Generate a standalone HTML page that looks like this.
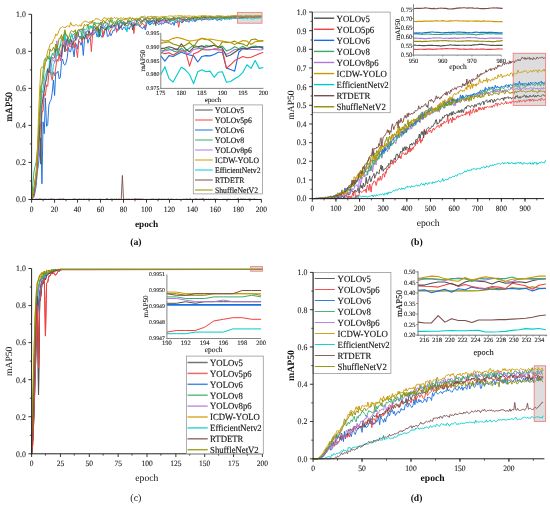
<!DOCTYPE html>
<html><head><meta charset="utf-8"><style>
html,body{margin:0;padding:0;background:#fff;}
svg{display:block;font-family:"Liberation Serif", serif;text-rendering:geometricPrecision;filter:blur(0.35px);}
</style></head><body>
<svg width="550" height="506" viewBox="0 0 550 506">
<rect width="550" height="506" fill="#fff"/>
<rect x="237.40" y="12.40" width="24.60" height="10.80" fill="#e0e0e0"/>
<clipPath id="ca"><rect x="31.6" y="4" width="232" height="195.5"/></clipPath>
<polyline points="31.60,199.50 32.75,198.33 33.90,197.29 35.05,192.07 36.20,185.59 37.34,171.28 38.49,164.59 39.64,153.24 40.79,137.90 41.94,183.75 43.09,121.85 44.24,133.71 45.39,98.11 46.54,126.37 47.69,124.93 48.84,105.23 49.98,101.62 51.13,99.68 52.28,92.42 53.43,80.14 54.58,95.52 55.73,72.72 56.88,73.15 58.03,71.21 59.18,78.91 60.33,77.39 61.47,62.10 62.62,58.97 63.77,64.06 64.92,65.16 66.07,62.76 67.22,57.80 68.37,47.37 69.52,51.53 70.67,51.95 71.81,45.02 72.96,49.52 74.11,56.94 75.26,43.78 76.41,44.26 77.56,49.06 78.71,40.86 79.86,41.97 81.01,45.24 82.16,42.17 83.31,55.41 84.45,40.60 85.60,34.84 86.75,35.01 87.90,43.21 89.05,39.16 90.20,37.34 91.35,36.31 92.50,33.93 93.65,34.86 94.80,32.30 95.94,32.06 97.09,36.91 98.24,34.11 99.39,36.40 100.54,34.31 101.69,37.24 102.84,36.54 103.99,34.73 105.14,29.23 106.28,28.77 107.43,36.64 108.58,36.17 109.73,32.85 110.88,35.74 112.03,33.33 113.18,30.28 114.33,30.70 115.48,27.70 116.63,29.61 117.78,29.80 118.92,30.10 120.07,25.62 121.22,28.49 122.37,29.90 123.52,27.21 124.67,27.26 125.82,29.86 126.97,29.68 128.12,27.63 129.26,29.24 130.41,26.04 131.56,25.67 132.71,26.59 133.86,25.39 135.01,25.59 136.16,23.76 137.31,24.84 138.46,24.52 139.61,26.66 140.75,26.73 141.90,28.37 143.05,28.21 144.20,26.04 145.35,30.02 146.50,24.78 147.65,20.66 148.80,24.29 149.95,24.84 151.10,24.16 152.25,22.41 153.39,24.16 154.54,23.50 155.69,21.93 156.84,22.29 157.99,24.13 159.14,24.59 160.29,22.94 161.44,24.63 162.59,23.29 163.73,23.80 164.88,21.50 166.03,22.95 167.18,22.18 168.33,23.15 169.48,22.66 170.63,24.45 171.78,24.23 172.93,22.15 174.08,25.44 175.22,21.33 176.37,23.04 177.52,21.63 178.67,21.88 179.82,21.17 180.97,21.70 182.12,23.12 183.27,19.98 184.42,19.57 185.57,21.42 186.72,20.84 187.86,21.04 189.01,22.36 190.16,19.38 191.31,20.70 192.46,21.08 193.61,20.65 194.76,21.59 195.91,21.25 197.06,19.60 198.20,19.71 199.35,18.81 200.50,19.33 201.65,20.62 202.80,19.60 203.95,19.58 205.10,19.18 206.25,19.19 207.40,19.38 208.55,19.98 209.69,19.53 210.84,18.65 211.99,19.33 213.14,19.39 214.29,19.10 215.44,17.86 216.59,20.23 217.74,20.45 218.89,19.42 220.04,19.76 221.18,18.08 222.33,18.92 223.48,18.39 224.63,18.83 225.78,18.24 226.93,19.29 228.08,18.60 229.23,19.05 230.38,19.04 231.53,17.33 232.67,18.00 233.82,18.12 234.97,17.81 236.12,18.39 237.27,18.28 238.42,17.74 239.57,18.03 240.72,17.77 241.87,18.40 243.02,16.87 244.16,17.07 245.31,17.26 246.46,18.00 247.61,18.21 248.76,17.08 249.91,16.77 251.06,17.11 252.21,17.09 253.36,17.10 254.51,16.77 255.65,16.63 256.80,16.98 257.95,16.54 259.10,17.28 260.25,16.58 261.40,16.73" fill="none" stroke="#1A6FDF" stroke-width="0.95" stroke-linejoin="round" opacity="1" clip-path="url(#ca)"/>
<polyline points="31.60,199.50 32.75,196.78 33.90,194.57 35.05,187.87 36.20,180.75 37.34,166.91 38.49,151.19 39.64,135.86 40.79,120.35 41.94,111.83 43.09,111.32 44.24,94.56 45.39,95.47 46.54,84.87 47.69,86.39 48.84,73.69 49.98,69.74 51.13,76.21 52.28,80.29 53.43,71.88 54.58,75.68 55.73,68.11 56.88,59.13 58.03,61.42 59.18,54.42 60.33,60.95 61.47,53.80 62.62,42.83 63.77,36.96 64.92,48.00 66.07,48.83 67.22,51.37 68.37,41.67 69.52,46.50 70.67,46.62 71.81,43.44 72.96,44.88 74.11,47.95 75.26,42.55 76.41,50.31 77.56,57.48 78.71,39.83 79.86,38.37 81.01,38.15 82.16,42.66 83.31,37.15 84.45,34.86 85.60,32.19 86.75,39.02 87.90,37.74 89.05,34.08 90.20,36.06 91.35,51.57 92.50,35.68 93.65,29.38 94.80,30.43 95.94,29.40 97.09,32.05 98.24,28.69 99.39,32.63 100.54,31.40 101.69,23.84 102.84,37.22 103.99,30.58 105.14,29.52 106.28,27.53 107.43,28.14 108.58,30.69 109.73,33.20 110.88,29.69 112.03,28.62 113.18,26.95 114.33,24.90 115.48,24.83 116.63,32.42 117.78,29.26 118.92,26.75 120.07,22.18 121.22,23.07 122.37,24.24 123.52,23.75 124.67,21.80 125.82,25.55 126.97,25.85 128.12,25.61 129.26,22.52 130.41,24.94 131.56,23.39 132.71,23.97 133.86,33.52 135.01,24.38 136.16,25.77 137.31,23.34 138.46,22.37 139.61,26.19 140.75,25.47 141.90,23.26 143.05,23.84 144.20,25.06 145.35,27.19 146.50,19.93 147.65,17.63 148.80,18.67 149.95,21.31 151.10,21.00 152.25,21.76 153.39,21.16 154.54,19.90 155.69,23.51 156.84,20.12 157.99,21.39 159.14,19.31 160.29,21.51 161.44,21.98 162.59,20.93 163.73,20.10 164.88,21.75 166.03,20.27 167.18,21.84 168.33,23.61 169.48,20.64 170.63,20.48 171.78,20.02 172.93,20.55 174.08,19.52 175.22,21.10 176.37,21.09 177.52,20.67 178.67,27.29 179.82,21.44 180.97,20.68 182.12,20.91 183.27,22.11 184.42,18.65 185.57,20.40 186.72,21.25 187.86,20.74 189.01,18.89 190.16,19.32 191.31,19.57 192.46,18.79 193.61,19.21 194.76,20.92 195.91,19.59 197.06,19.07 198.20,19.58 199.35,19.61 200.50,19.10 201.65,19.31 202.80,19.12 203.95,19.28 205.10,17.80 206.25,18.13 207.40,18.83 208.55,17.83 209.69,17.61 210.84,16.95 211.99,18.67 213.14,18.37 214.29,18.50 215.44,17.25 216.59,17.85 217.74,19.62 218.89,19.03 220.04,17.69 221.18,17.82 222.33,17.63 223.48,17.86 224.63,17.78 225.78,17.70 226.93,17.79 228.08,18.17 229.23,19.18 230.38,18.30 231.53,18.83 232.67,17.40 233.82,17.78 234.97,18.09 236.12,17.78 237.27,17.96 238.42,18.06 239.57,18.20 240.72,18.06 241.87,17.10 243.02,17.11 244.16,17.32 245.31,16.89 246.46,17.29 247.61,17.39 248.76,16.97 249.91,16.93 251.06,17.40 252.21,17.40 253.36,17.36 254.51,17.00 255.65,17.15 256.80,16.80 257.95,17.15 259.10,16.76 260.25,17.04 261.40,16.71" fill="none" stroke="#F14040" stroke-width="0.95" stroke-linejoin="round" opacity="1" clip-path="url(#ca)"/>
<polyline points="31.60,199.50 32.75,195.01 33.90,189.27 35.05,180.32 36.20,172.08 37.34,159.40 38.49,140.51 39.64,126.16 40.79,105.21 41.94,93.50 43.09,89.73 44.24,79.99 45.39,75.46 46.54,72.04 47.69,68.22 48.84,69.19 49.98,56.48 51.13,71.42 52.28,76.32 53.43,64.47 54.58,62.56 55.73,59.70 56.88,54.17 58.03,48.70 59.18,49.67 60.33,44.07 61.47,44.83 62.62,46.37 63.77,45.62 64.92,33.61 66.07,44.87 67.22,41.02 68.37,39.64 69.52,43.59 70.67,36.99 71.81,33.61 72.96,39.53 74.11,38.82 75.26,33.97 76.41,35.60 77.56,35.93 78.71,36.68 79.86,38.25 81.01,38.46 82.16,28.89 83.31,31.90 84.45,35.04 85.60,34.49 86.75,31.11 87.90,30.18 89.05,27.51 90.20,25.65 91.35,28.12 92.50,25.78 93.65,27.41 94.80,30.94 95.94,31.50 97.09,28.73 98.24,37.36 99.39,29.21 100.54,34.40 101.69,25.36 102.84,28.40 103.99,27.25 105.14,26.89 106.28,29.24 107.43,25.45 108.58,30.13 109.73,28.42 110.88,24.86 112.03,27.53 113.18,25.56 114.33,27.15 115.48,27.32 116.63,24.24 117.78,22.62 118.92,26.94 120.07,21.36 121.22,21.89 122.37,23.49 123.52,23.21 124.67,25.46 125.82,26.71 126.97,31.84 128.12,24.24 129.26,23.69 130.41,23.56 131.56,24.28 132.71,27.03 133.86,22.40 135.01,25.27 136.16,24.89 137.31,23.33 138.46,24.72 139.61,24.39 140.75,23.28 141.90,21.39 143.05,20.01 144.20,21.45 145.35,22.55 146.50,22.64 147.65,22.47 148.80,21.20 149.95,24.04 151.10,20.04 152.25,21.17 153.39,22.21 154.54,20.06 155.69,19.46 156.84,21.35 157.99,20.11 159.14,19.99 160.29,18.38 161.44,20.38 162.59,19.95 163.73,18.39 164.88,19.79 166.03,20.36 167.18,22.36 168.33,20.33 169.48,21.12 170.63,21.80 171.78,19.85 172.93,19.99 174.08,21.26 175.22,22.31 176.37,20.10 177.52,19.78 178.67,21.15 179.82,20.84 180.97,21.98 182.12,20.32 183.27,19.83 184.42,19.00 185.57,20.99 186.72,19.41 187.86,19.40 189.01,19.10 190.16,20.23 191.31,20.35 192.46,18.52 193.61,19.49 194.76,19.93 195.91,19.66 197.06,20.07 198.20,17.82 199.35,17.92 200.50,19.61 201.65,19.92 202.80,17.92 203.95,17.70 205.10,17.79 206.25,18.51 207.40,19.27 208.55,19.03 209.69,19.66 210.84,19.90 211.99,18.62 213.14,18.96 214.29,17.38 215.44,18.84 216.59,19.28 217.74,18.05 218.89,17.62 220.04,18.22 221.18,20.95 222.33,18.69 223.48,17.50 224.63,19.70 225.78,19.05 226.93,18.07 228.08,18.37 229.23,18.77 230.38,18.74 231.53,18.79 232.67,18.13 233.82,17.91 234.97,17.73 236.12,18.34 237.27,18.85 238.42,18.24 239.57,17.53 240.72,17.84 241.87,17.67 243.02,18.69 244.16,18.66 245.31,17.83 246.46,18.39 247.61,19.01 248.76,17.73 249.91,18.07 251.06,18.73 252.21,19.10 253.36,18.86 254.51,18.37 255.65,18.49 256.80,18.02 257.95,18.49 259.10,17.72 260.25,18.06 261.40,17.98" fill="none" stroke="#00CBCC" stroke-width="0.95" stroke-linejoin="round" opacity="1" clip-path="url(#ca)"/>
<polyline points="31.60,199.50 32.75,196.37 33.90,193.17 35.05,185.86 36.20,179.71 37.34,162.76 38.49,143.27 39.64,128.56 40.79,111.11 41.94,105.11 43.09,95.32 44.24,89.84 45.39,81.84 46.54,75.95 47.69,73.47 48.84,71.89 49.98,72.57 51.13,67.90 52.28,58.87 53.43,59.86 54.58,62.37 55.73,56.75 56.88,40.73 58.03,50.26 59.18,48.31 60.33,51.47 61.47,60.24 62.62,47.48 63.77,45.38 64.92,40.07 66.07,43.89 67.22,46.53 68.37,40.74 69.52,39.42 70.67,44.60 71.81,39.90 72.96,42.90 74.11,38.71 75.26,33.85 76.41,40.28 77.56,36.23 78.71,32.36 79.86,30.34 81.01,29.11 82.16,29.61 83.31,27.88 84.45,32.57 85.60,31.47 86.75,31.73 87.90,31.17 89.05,31.53 90.20,32.48 91.35,34.58 92.50,31.78 93.65,33.92 94.80,32.79 95.94,28.70 97.09,30.91 98.24,25.56 99.39,25.23 100.54,24.97 101.69,22.01 102.84,22.71 103.99,27.09 105.14,26.20 106.28,23.89 107.43,23.24 108.58,23.79 109.73,26.73 110.88,26.49 112.03,28.04 113.18,26.00 114.33,25.94 115.48,27.35 116.63,25.94 117.78,22.65 118.92,23.57 120.07,26.69 121.22,26.61 122.37,25.13 123.52,24.24 124.67,23.00 125.82,23.71 126.97,23.36 128.12,23.12 129.26,22.25 130.41,21.42 131.56,21.46 132.71,22.92 133.86,23.95 135.01,20.43 136.16,20.56 137.31,21.58 138.46,20.70 139.61,19.06 140.75,19.41 141.90,20.76 143.05,21.14 144.20,20.56 145.35,18.48 146.50,21.22 147.65,22.57 148.80,20.27 149.95,20.26 151.10,21.87 152.25,20.42 153.39,20.67 154.54,17.88 155.69,19.67 156.84,21.32 157.99,22.95 159.14,19.98 160.29,17.76 161.44,24.22 162.59,23.51 163.73,20.08 164.88,21.15 166.03,20.87 167.18,21.77 168.33,19.51 169.48,18.45 170.63,20.39 171.78,18.58 172.93,19.60 174.08,17.24 175.22,19.28 176.37,18.60 177.52,17.70 178.67,18.33 179.82,20.01 180.97,19.03 182.12,19.37 183.27,19.92 184.42,17.50 185.57,19.35 186.72,19.53 187.86,19.35 189.01,19.71 190.16,20.09 191.31,18.95 192.46,19.28 193.61,17.92 194.76,17.37 195.91,18.64 197.06,17.61 198.20,17.36 199.35,18.59 200.50,18.47 201.65,18.58 202.80,17.09 203.95,17.13 205.10,17.68 206.25,18.48 207.40,17.65 208.55,17.83 209.69,17.45 210.84,18.33 211.99,17.90 213.14,17.15 214.29,17.07 215.44,17.47 216.59,17.16 217.74,17.70 218.89,17.38 220.04,17.22 221.18,17.79 222.33,17.59 223.48,17.13 224.63,16.53 225.78,16.19 226.93,17.51 228.08,16.48 229.23,17.20 230.38,17.15 231.53,16.95 232.67,16.76 233.82,16.42 234.97,16.68 236.12,17.28 237.27,16.46 238.42,17.05 239.57,17.14 240.72,17.89 241.87,16.84 243.02,16.46 244.16,16.54 245.31,16.94 246.46,16.16 247.61,16.72 248.76,16.58 249.91,17.01 251.06,16.74 252.21,16.58 253.36,16.66 254.51,16.86 255.65,16.48 256.80,17.40 257.95,16.75 259.10,16.54 260.25,16.60 261.40,16.91" fill="none" stroke="#B177DE" stroke-width="0.95" stroke-linejoin="round" opacity="1" clip-path="url(#ca)"/>
<polyline points="31.60,199.50 32.75,196.47 33.90,193.62 35.05,184.69 36.20,176.97 37.34,160.21 38.49,142.03 39.64,123.99 40.79,164.15 41.94,104.51 43.09,98.84 44.24,90.91 45.39,82.62 46.54,79.69 47.69,68.94 48.84,72.73 49.98,64.11 51.13,57.46 52.28,57.71 53.43,58.11 54.58,57.69 55.73,49.03 56.88,50.66 58.03,50.88 59.18,53.64 60.33,55.67 61.47,56.82 62.62,45.55 63.77,45.35 64.92,51.97 66.07,42.79 67.22,38.36 68.37,42.82 69.52,43.11 70.67,38.62 71.81,41.91 72.96,45.22 74.11,41.06 75.26,40.65 76.41,34.81 77.56,31.18 78.71,35.81 79.86,37.14 81.01,36.58 82.16,39.75 83.31,36.54 84.45,39.00 85.60,35.57 86.75,34.13 87.90,35.16 89.05,30.38 90.20,35.27 91.35,34.01 92.50,31.28 93.65,26.35 94.80,26.90 95.94,29.11 97.09,26.53 98.24,28.01 99.39,36.57 100.54,26.23 101.69,27.72 102.84,27.63 103.99,28.83 105.14,29.32 106.28,30.14 107.43,26.52 108.58,27.26 109.73,26.46 110.88,28.00 112.03,24.38 113.18,25.32 114.33,26.09 115.48,22.93 116.63,21.63 117.78,23.42 118.92,28.49 120.07,26.96 121.22,27.67 122.37,23.09 123.52,21.49 124.67,25.49 125.82,23.07 126.97,23.22 128.12,20.68 129.26,21.84 130.41,21.33 131.56,23.39 132.71,30.07 133.86,24.57 135.01,24.64 136.16,22.89 137.31,19.22 138.46,19.48 139.61,20.59 140.75,22.60 141.90,21.37 143.05,21.26 144.20,18.86 145.35,19.39 146.50,20.18 147.65,20.71 148.80,22.70 149.95,21.73 151.10,21.99 152.25,20.94 153.39,19.86 154.54,20.86 155.69,25.60 156.84,18.56 157.99,20.71 159.14,22.48 160.29,20.10 161.44,20.62 162.59,20.26 163.73,18.51 164.88,18.15 166.03,21.18 167.18,20.49 168.33,19.09 169.48,20.43 170.63,19.08 171.78,19.26 172.93,17.91 174.08,19.76 175.22,18.79 176.37,18.80 177.52,19.10 178.67,18.60 179.82,18.30 180.97,18.82 182.12,19.14 183.27,19.01 184.42,20.19 185.57,19.81 186.72,19.41 187.86,18.53 189.01,19.18 190.16,19.50 191.31,17.77 192.46,17.65 193.61,19.23 194.76,16.73 195.91,17.73 197.06,17.62 198.20,17.31 199.35,18.43 200.50,17.67 201.65,16.19 202.80,17.88 203.95,17.55 205.10,17.17 206.25,18.13 207.40,17.37 208.55,16.75 209.69,16.21 210.84,17.69 211.99,17.26 213.14,17.15 214.29,17.63 215.44,17.83 216.59,17.43 217.74,16.97 218.89,17.23 220.04,16.31 221.18,16.43 222.33,17.15 223.48,17.07 224.63,17.98 225.78,17.17 226.93,17.09 228.08,17.28 229.23,17.32 230.38,17.14 231.53,16.81 232.67,15.97 233.82,16.89 234.97,16.80 236.12,16.76 237.27,16.42 238.42,16.51 239.57,16.91 240.72,17.02 241.87,17.27 243.02,17.00 244.16,17.11 245.31,16.86 246.46,16.72 247.61,16.42 248.76,16.48 249.91,16.44 251.06,16.38 252.21,16.69 253.36,16.43 254.51,17.62 255.65,16.40 256.80,16.85 257.95,16.34 259.10,16.90 260.25,16.51 261.40,16.76" fill="none" stroke="#515151" stroke-width="0.95" stroke-linejoin="round" opacity="1" clip-path="url(#ca)"/>
<polyline points="31.60,199.50 32.75,185.84 33.90,172.02 35.05,166.40 36.20,161.85 37.34,149.82 38.49,133.50 39.64,119.08 40.79,101.62 41.94,83.11 43.09,70.94 44.24,60.17 45.39,58.24 46.54,60.92 47.69,55.84 48.84,59.20 49.98,58.14 51.13,59.20 52.28,53.30 53.43,55.39 54.58,50.95 55.73,47.44 56.88,44.83 58.03,55.83 59.18,49.86 60.33,46.13 61.47,39.08 62.62,36.97 63.77,35.14 64.92,32.69 66.07,35.86 67.22,36.09 68.37,40.60 69.52,44.56 70.67,36.57 71.81,36.58 72.96,35.57 74.11,33.66 75.26,33.10 76.41,33.09 77.56,31.25 78.71,30.02 79.86,30.43 81.01,32.11 82.16,38.48 83.31,29.37 84.45,29.24 85.60,29.94 86.75,28.79 87.90,24.51 89.05,29.34 90.20,28.54 91.35,26.32 92.50,28.57 93.65,26.24 94.80,22.02 95.94,23.87 97.09,23.36 98.24,22.76 99.39,24.42 100.54,22.09 101.69,26.08 102.84,24.92 103.99,22.83 105.14,22.99 106.28,22.60 107.43,23.21 108.58,26.98 109.73,20.76 110.88,18.11 112.03,19.48 113.18,22.44 114.33,24.79 115.48,22.86 116.63,24.52 117.78,20.82 118.92,21.75 120.07,20.28 121.22,19.61 122.37,24.12 123.52,21.59 124.67,23.82 125.82,22.97 126.97,23.93 128.12,22.12 129.26,20.40 130.41,22.21 131.56,19.59 132.71,18.02 133.86,19.17 135.01,19.48 136.16,20.32 137.31,22.12 138.46,19.15 139.61,20.28 140.75,18.27 141.90,16.30 143.05,18.12 144.20,18.21 145.35,17.55 146.50,21.11 147.65,20.73 148.80,20.09 149.95,20.09 151.10,18.28 152.25,18.85 153.39,16.74 154.54,16.84 155.69,17.81 156.84,19.53 157.99,18.41 159.14,18.05 160.29,20.32 161.44,18.19 162.59,17.67 163.73,18.45 164.88,16.78 166.03,17.10 167.18,19.23 168.33,18.69 169.48,18.91 170.63,21.59 171.78,19.52 172.93,17.63 174.08,17.44 175.22,17.67 176.37,18.39 177.52,18.82 178.67,16.67 179.82,17.74 180.97,16.58 182.12,17.15 183.27,16.91 184.42,16.80 185.57,17.00 186.72,17.55 187.86,18.79 189.01,17.89 190.16,17.89 191.31,17.73 192.46,17.44 193.61,17.13 194.76,17.07 195.91,20.58 197.06,18.10 198.20,18.07 199.35,16.88 200.50,18.81 201.65,17.39 202.80,17.55 203.95,16.98 205.10,16.37 206.25,17.01 207.40,17.27 208.55,17.59 209.69,16.95 210.84,16.39 211.99,17.24 213.14,16.88 214.29,17.98 215.44,18.09 216.59,17.67 217.74,17.18 218.89,17.15 220.04,16.85 221.18,16.70 222.33,17.33 223.48,17.58 224.63,17.65 225.78,17.37 226.93,16.06 228.08,18.02 229.23,16.96 230.38,16.40 231.53,16.59 232.67,16.86 233.82,16.58 234.97,16.37 236.12,16.24 237.27,16.95 238.42,16.36 239.57,16.36 240.72,16.20 241.87,16.02 243.02,16.66 244.16,17.18 245.31,16.38 246.46,15.78 247.61,16.16 248.76,16.25 249.91,15.95 251.06,16.43 252.21,16.35 253.36,16.37 254.51,16.39 255.65,16.37 256.80,15.97 257.95,16.52 259.10,16.42 260.25,16.72 261.40,16.13" fill="none" stroke="#37AD6B" stroke-width="0.95" stroke-linejoin="round" opacity="1" clip-path="url(#ca)"/>
<polyline points="31.60,199.50 32.75,193.79 33.90,188.23 35.05,180.94 36.20,174.84 37.34,155.18 38.49,134.11 39.64,110.67 40.79,85.61 41.94,84.51 43.09,81.06 44.24,69.75 45.39,62.88 46.54,59.54 47.69,58.08 48.84,58.77 49.98,48.85 51.13,51.30 52.28,50.10 53.43,47.31 54.58,50.22 55.73,44.00 56.88,49.35 58.03,44.34 59.18,38.07 60.33,38.40 61.47,34.70 62.62,40.88 63.77,35.48 64.92,29.79 66.07,34.81 67.22,35.49 68.37,38.73 69.52,35.12 70.67,31.41 71.81,30.56 72.96,31.84 74.11,31.96 75.26,29.76 76.41,38.57 77.56,31.03 78.71,29.50 79.86,29.87 81.01,28.96 82.16,30.22 83.31,28.51 84.45,24.33 85.60,25.45 86.75,24.72 87.90,25.16 89.05,24.27 90.20,22.77 91.35,23.25 92.50,20.53 93.65,25.04 94.80,23.88 95.94,26.22 97.09,30.81 98.24,26.86 99.39,23.53 100.54,24.00 101.69,23.97 102.84,20.70 103.99,20.61 105.14,23.07 106.28,20.15 107.43,19.17 108.58,21.04 109.73,22.58 110.88,19.67 112.03,23.15 113.18,23.08 114.33,21.78 115.48,21.93 116.63,20.90 117.78,19.21 118.92,19.81 120.07,20.96 121.22,21.55 122.37,20.41 123.52,18.99 124.67,20.17 125.82,17.91 126.97,19.73 128.12,20.82 129.26,18.45 130.41,18.44 131.56,19.64 132.71,20.58 133.86,19.83 135.01,19.84 136.16,18.59 137.31,19.52 138.46,19.41 139.61,18.15 140.75,19.38 141.90,22.67 143.05,20.49 144.20,20.40 145.35,19.21 146.50,18.14 147.65,17.42 148.80,18.55 149.95,18.63 151.10,18.89 152.25,17.04 153.39,19.20 154.54,17.85 155.69,16.83 156.84,18.77 157.99,20.68 159.14,18.10 160.29,18.49 161.44,18.45 162.59,16.93 163.73,17.48 164.88,17.98 166.03,19.68 167.18,18.47 168.33,18.30 169.48,17.99 170.63,18.67 171.78,18.41 172.93,18.40 174.08,17.99 175.22,18.85 176.37,18.48 177.52,17.13 178.67,18.53 179.82,17.67 180.97,18.38 182.12,17.73 183.27,17.50 184.42,17.67 185.57,17.82 186.72,16.98 187.86,18.31 189.01,17.18 190.16,18.70 191.31,18.36 192.46,16.75 193.61,17.32 194.76,17.79 195.91,16.80 197.06,18.46 198.20,17.52 199.35,18.12 200.50,17.17 201.65,18.25 202.80,16.52 203.95,16.41 205.10,17.01 206.25,16.10 207.40,16.88 208.55,18.40 209.69,18.22 210.84,16.09 211.99,16.44 213.14,17.19 214.29,17.15 215.44,16.97 216.59,15.93 217.74,16.39 218.89,15.72 220.04,16.96 221.18,17.41 222.33,16.79 223.48,18.17 224.63,16.75 225.78,16.66 226.93,16.29 228.08,16.15 229.23,16.59 230.38,16.77 231.53,16.40 232.67,16.56 233.82,15.90 234.97,15.95 236.12,16.37 237.27,16.23 238.42,16.09 239.57,16.41 240.72,16.22 241.87,16.51 243.02,16.34 244.16,16.44 245.31,16.21 246.46,16.05 247.61,16.49 248.76,16.33 249.91,16.40 251.06,16.01 252.21,16.53 253.36,16.41 254.51,15.85 255.65,16.00 256.80,16.79 257.95,16.07 259.10,15.89 260.25,16.15 261.40,15.86" fill="none" stroke="#8E8E00" stroke-width="0.95" stroke-linejoin="round" opacity="1" clip-path="url(#ca)"/>
<polyline points="31.60,199.50 32.75,195.16 33.90,190.67 35.05,181.57 36.20,171.64 37.34,153.91 38.49,116.67 39.64,90.91 40.79,68.90 41.94,66.87 43.09,67.27 44.24,66.90 45.39,59.61 46.54,56.46 47.69,51.05 48.84,48.47 49.98,44.68 51.13,43.14 52.28,43.54 53.43,39.65 54.58,38.38 55.73,33.92 56.88,35.54 58.03,33.44 59.18,30.37 60.33,27.81 61.47,27.50 62.62,26.54 63.77,27.42 64.92,27.49 66.07,27.05 67.22,25.93 68.37,26.17 69.52,26.99 70.67,22.37 71.81,25.16 72.96,25.32 74.11,26.19 75.26,24.91 76.41,24.40 77.56,25.66 78.71,26.19 79.86,24.72 81.01,26.29 82.16,22.98 83.31,22.51 84.45,20.94 85.60,21.35 86.75,21.50 87.90,22.43 89.05,22.31 90.20,21.71 91.35,21.65 92.50,21.87 93.65,20.81 94.80,19.42 95.94,18.53 97.09,19.00 98.24,18.89 99.39,19.45 100.54,20.78 101.69,20.40 102.84,19.15 103.99,17.47 105.14,18.32 106.28,18.23 107.43,19.08 108.58,17.80 109.73,19.33 110.88,17.60 112.03,18.11 113.18,18.62 114.33,17.40 115.48,18.43 116.63,17.89 117.78,18.02 118.92,19.24 120.07,18.05 121.22,17.94 122.37,18.71 123.52,17.65 124.67,18.83 125.82,18.79 126.97,18.29 128.12,18.50 129.26,17.48 130.41,17.22 131.56,18.59 132.71,17.84 133.86,18.92 135.01,19.02 136.16,18.15 137.31,18.55 138.46,18.82 139.61,17.62 140.75,17.11 141.90,17.44 143.05,17.19 144.20,15.87 145.35,16.91 146.50,17.84 147.65,16.37 148.80,16.72 149.95,16.92 151.10,16.19 152.25,16.61 153.39,16.93 154.54,16.77 155.69,17.07 156.84,16.42 157.99,17.04 159.14,17.29 160.29,16.96 161.44,16.28 162.59,16.64 163.73,16.71 164.88,16.33 166.03,16.57 167.18,17.22 168.33,16.26 169.48,15.89 170.63,15.97 171.78,16.09 172.93,16.37 174.08,16.20 175.22,15.87 176.37,16.14 177.52,15.79 178.67,15.41 179.82,15.89 180.97,15.68 182.12,15.84 183.27,16.36 184.42,15.82 185.57,16.18 186.72,16.17 187.86,16.03 189.01,15.99 190.16,15.98 191.31,16.29 192.46,16.36 193.61,15.99 194.76,16.29 195.91,16.53 197.06,16.25 198.20,16.25 199.35,15.99 200.50,15.96 201.65,15.65 202.80,15.70 203.95,15.72 205.10,15.85 206.25,15.72 207.40,16.28 208.55,15.96 209.69,16.09 210.84,16.13 211.99,16.39 213.14,16.50 214.29,16.19 215.44,16.35 216.59,15.96 217.74,16.04 218.89,16.00 220.04,15.90 221.18,15.91 222.33,16.11 223.48,16.16 224.63,16.49 225.78,16.63 226.93,16.43 228.08,16.22 229.23,16.32 230.38,15.89 231.53,15.69 232.67,16.09 233.82,15.77 234.97,15.56 236.12,15.68 237.27,15.50 238.42,15.78 239.57,16.04 240.72,15.89 241.87,16.00 243.02,16.24 244.16,16.07 245.31,15.59 246.46,15.96 247.61,16.00 248.76,16.02 249.91,16.00 251.06,15.95 252.21,15.98 253.36,16.01 254.51,16.11 255.65,15.92 256.80,15.83 257.95,15.57 259.10,15.76 260.25,15.68 261.40,15.75" fill="none" stroke="#CC9900" stroke-width="0.95" stroke-linejoin="round" opacity="1" clip-path="url(#ca)"/>
<polyline points="31.60,199.47 32.75,199.48 33.90,199.38 35.05,199.41 36.20,199.09 37.34,199.25 38.49,199.16 39.64,198.90 40.79,199.04 41.94,199.23 43.09,199.41 44.24,199.03 45.39,199.34 46.54,199.08 47.69,199.48 48.84,199.11 49.98,199.35 51.13,198.68 52.28,199.27 53.43,199.03 54.58,199.30 55.73,199.41 56.88,199.32 58.03,199.31 59.18,198.98 60.33,199.02 61.47,199.21 62.62,198.95 63.77,198.94 64.92,199.43 66.07,199.38 67.22,199.44 68.37,199.32 69.52,199.42 70.67,199.39 71.81,199.48 72.96,199.08 74.11,199.05 75.26,199.00 76.41,199.34 77.56,199.45 78.71,198.91 79.86,199.23 81.01,199.16 82.16,199.38 83.31,199.17 84.45,198.99 85.60,199.44 86.75,199.08 87.90,199.36 89.05,198.89 90.20,199.35 91.35,199.38 92.50,199.28 93.65,199.21 94.80,199.37 95.94,199.17 97.09,199.49 98.24,199.45 99.39,199.11 100.54,199.18 101.69,199.41 102.84,199.38 103.99,199.43 105.14,199.43 106.28,198.90 107.43,198.61 108.58,199.46 109.73,199.36 110.88,199.05 112.03,199.12 113.18,199.34 114.33,199.15 115.48,199.36 116.63,198.82 117.78,199.40 118.92,199.08 120.07,199.23 121.22,199.50 122.37,175.42 123.52,199.50 124.67,199.23 125.82,199.34 126.97,199.12 128.12,199.33 129.26,198.92 130.41,199.45 131.56,199.13 132.71,199.18 133.86,199.36 135.01,198.62 136.16,199.01 137.31,199.01 138.46,199.04 139.61,198.83 140.75,199.00 141.90,199.17 143.05,199.11 144.20,199.37 145.35,199.47 146.50,199.21 147.65,199.43 148.80,199.39 149.95,199.41 151.10,199.06 152.25,199.24 153.39,198.85 154.54,199.40 155.69,199.23 156.84,199.23 157.99,199.30 159.14,198.79 160.29,199.39 161.44,199.03 162.59,199.22 163.73,199.18 164.88,199.21 166.03,199.34 167.18,199.39 168.33,198.76 169.48,199.49 170.63,199.09 171.78,199.12 172.93,199.19 174.08,199.43 175.22,199.47 176.37,199.11 177.52,199.41 178.67,199.43 179.82,199.35 180.97,199.48 182.12,199.37 183.27,199.19 184.42,199.19 185.57,199.32 186.72,198.87 187.86,199.22 189.01,199.37 190.16,198.60 191.31,199.35 192.46,199.31 193.61,199.31 194.76,199.11 195.91,198.83 197.06,198.96 198.20,199.43 199.35,198.99 200.50,199.00 201.65,199.10 202.80,198.48 203.95,199.18 205.10,199.42 206.25,199.12 207.40,199.45 208.55,199.03 209.69,199.48 210.84,199.08 211.99,199.40 213.14,199.42 214.29,198.91 215.44,199.19 216.59,199.12 217.74,199.41 218.89,199.40 220.04,199.47 221.18,199.43 222.33,199.50 223.48,199.23 224.63,199.31 225.78,199.32 226.93,199.48 228.08,199.09 229.23,199.26 230.38,199.26 231.53,199.50 232.67,199.42 233.82,199.45 234.97,199.27 236.12,199.48 237.27,199.01 238.42,198.45 239.57,199.49 240.72,198.90 241.87,199.16 243.02,199.07 244.16,199.25 245.31,199.07 246.46,199.38 247.61,199.33 248.76,199.05 249.91,198.93 251.06,199.32 252.21,199.35 253.36,199.20 254.51,198.81 255.65,199.39 256.80,199.39 257.95,199.46 259.10,199.45 260.25,199.38 261.40,199.18" fill="none" stroke="#7D4E4E" stroke-width="0.9" stroke-linejoin="round" opacity="1"/>
<line x1="31.60" y1="14.30" x2="31.60" y2="200.00" stroke="#222" stroke-width="1.0"/>
<line x1="31.10" y1="199.50" x2="261.40" y2="199.50" stroke="#222" stroke-width="1.0"/>
<line x1="28.40" y1="199.50" x2="31.60" y2="199.50" stroke="#222" stroke-width="0.9"/>
<text transform="translate(25.80 202.36) scale(1 1.08)" font-size="7.8" text-anchor="end" font-weight="normal" fill="#1a1a1a" stroke="#1a1a1a" stroke-width="0.1">0.0</text>
<line x1="28.40" y1="162.46" x2="31.60" y2="162.46" stroke="#222" stroke-width="0.9"/>
<text transform="translate(25.80 165.32) scale(1 1.08)" font-size="7.8" text-anchor="end" font-weight="normal" fill="#1a1a1a" stroke="#1a1a1a" stroke-width="0.1">0.2</text>
<line x1="28.40" y1="125.42" x2="31.60" y2="125.42" stroke="#222" stroke-width="0.9"/>
<text transform="translate(25.80 128.28) scale(1 1.08)" font-size="7.8" text-anchor="end" font-weight="normal" fill="#1a1a1a" stroke="#1a1a1a" stroke-width="0.1">0.4</text>
<line x1="28.40" y1="88.38" x2="31.60" y2="88.38" stroke="#222" stroke-width="0.9"/>
<text transform="translate(25.80 91.24) scale(1 1.08)" font-size="7.8" text-anchor="end" font-weight="normal" fill="#1a1a1a" stroke="#1a1a1a" stroke-width="0.1">0.6</text>
<line x1="28.40" y1="51.34" x2="31.60" y2="51.34" stroke="#222" stroke-width="0.9"/>
<text transform="translate(25.80 54.20) scale(1 1.08)" font-size="7.8" text-anchor="end" font-weight="normal" fill="#1a1a1a" stroke="#1a1a1a" stroke-width="0.1">0.8</text>
<line x1="28.40" y1="14.30" x2="31.60" y2="14.30" stroke="#222" stroke-width="0.9"/>
<text transform="translate(25.80 17.16) scale(1 1.08)" font-size="7.8" text-anchor="end" font-weight="normal" fill="#1a1a1a" stroke="#1a1a1a" stroke-width="0.1">1.0</text>
<line x1="29.80" y1="180.98" x2="31.60" y2="180.98" stroke="#222" stroke-width="0.8"/>
<line x1="29.80" y1="143.94" x2="31.60" y2="143.94" stroke="#222" stroke-width="0.8"/>
<line x1="29.80" y1="106.90" x2="31.60" y2="106.90" stroke="#222" stroke-width="0.8"/>
<line x1="29.80" y1="69.86" x2="31.60" y2="69.86" stroke="#222" stroke-width="0.8"/>
<line x1="29.80" y1="32.82" x2="31.60" y2="32.82" stroke="#222" stroke-width="0.8"/>
<line x1="31.60" y1="199.50" x2="31.60" y2="202.70" stroke="#222" stroke-width="0.9"/>
<text transform="translate(31.60 212.10) scale(1 1.08)" font-size="7.5" text-anchor="middle" font-weight="normal" fill="#1a1a1a" stroke="#1a1a1a" stroke-width="0.1">0</text>
<line x1="54.58" y1="199.50" x2="54.58" y2="202.70" stroke="#222" stroke-width="0.9"/>
<text transform="translate(54.58 212.10) scale(1 1.08)" font-size="7.5" text-anchor="middle" font-weight="normal" fill="#1a1a1a" stroke="#1a1a1a" stroke-width="0.1">20</text>
<line x1="77.56" y1="199.50" x2="77.56" y2="202.70" stroke="#222" stroke-width="0.9"/>
<text transform="translate(77.56 212.10) scale(1 1.08)" font-size="7.5" text-anchor="middle" font-weight="normal" fill="#1a1a1a" stroke="#1a1a1a" stroke-width="0.1">40</text>
<line x1="100.54" y1="199.50" x2="100.54" y2="202.70" stroke="#222" stroke-width="0.9"/>
<text transform="translate(100.54 212.10) scale(1 1.08)" font-size="7.5" text-anchor="middle" font-weight="normal" fill="#1a1a1a" stroke="#1a1a1a" stroke-width="0.1">60</text>
<line x1="123.52" y1="199.50" x2="123.52" y2="202.70" stroke="#222" stroke-width="0.9"/>
<text transform="translate(123.52 212.10) scale(1 1.08)" font-size="7.5" text-anchor="middle" font-weight="normal" fill="#1a1a1a" stroke="#1a1a1a" stroke-width="0.1">80</text>
<line x1="146.50" y1="199.50" x2="146.50" y2="202.70" stroke="#222" stroke-width="0.9"/>
<text transform="translate(146.50 212.10) scale(1 1.08)" font-size="7.5" text-anchor="middle" font-weight="normal" fill="#1a1a1a" stroke="#1a1a1a" stroke-width="0.1">100</text>
<line x1="169.48" y1="199.50" x2="169.48" y2="202.70" stroke="#222" stroke-width="0.9"/>
<text transform="translate(169.48 212.10) scale(1 1.08)" font-size="7.5" text-anchor="middle" font-weight="normal" fill="#1a1a1a" stroke="#1a1a1a" stroke-width="0.1">120</text>
<line x1="192.46" y1="199.50" x2="192.46" y2="202.70" stroke="#222" stroke-width="0.9"/>
<text transform="translate(192.46 212.10) scale(1 1.08)" font-size="7.5" text-anchor="middle" font-weight="normal" fill="#1a1a1a" stroke="#1a1a1a" stroke-width="0.1">140</text>
<line x1="215.44" y1="199.50" x2="215.44" y2="202.70" stroke="#222" stroke-width="0.9"/>
<text transform="translate(215.44 212.10) scale(1 1.08)" font-size="7.5" text-anchor="middle" font-weight="normal" fill="#1a1a1a" stroke="#1a1a1a" stroke-width="0.1">160</text>
<line x1="238.42" y1="199.50" x2="238.42" y2="202.70" stroke="#222" stroke-width="0.9"/>
<text transform="translate(238.42 212.10) scale(1 1.08)" font-size="7.5" text-anchor="middle" font-weight="normal" fill="#1a1a1a" stroke="#1a1a1a" stroke-width="0.1">180</text>
<line x1="261.40" y1="199.50" x2="261.40" y2="202.70" stroke="#222" stroke-width="0.9"/>
<text transform="translate(261.40 212.10) scale(1 1.08)" font-size="7.5" text-anchor="middle" font-weight="normal" fill="#1a1a1a" stroke="#1a1a1a" stroke-width="0.1">200</text>
<line x1="43.09" y1="199.50" x2="43.09" y2="201.30" stroke="#222" stroke-width="0.8"/>
<line x1="66.07" y1="199.50" x2="66.07" y2="201.30" stroke="#222" stroke-width="0.8"/>
<line x1="89.05" y1="199.50" x2="89.05" y2="201.30" stroke="#222" stroke-width="0.8"/>
<line x1="112.03" y1="199.50" x2="112.03" y2="201.30" stroke="#222" stroke-width="0.8"/>
<line x1="135.01" y1="199.50" x2="135.01" y2="201.30" stroke="#222" stroke-width="0.8"/>
<line x1="157.99" y1="199.50" x2="157.99" y2="201.30" stroke="#222" stroke-width="0.8"/>
<line x1="180.97" y1="199.50" x2="180.97" y2="201.30" stroke="#222" stroke-width="0.8"/>
<line x1="203.95" y1="199.50" x2="203.95" y2="201.30" stroke="#222" stroke-width="0.8"/>
<line x1="226.93" y1="199.50" x2="226.93" y2="201.30" stroke="#222" stroke-width="0.8"/>
<line x1="249.91" y1="199.50" x2="249.91" y2="201.30" stroke="#222" stroke-width="0.8"/>
<text transform="translate(12.00 106.80) rotate(-90)" font-size="9.6" text-anchor="middle" font-weight="normal" fill="#111" stroke="#111" stroke-width="0.25">mAP50</text>
<text x="146.50" y="226.70" font-size="9.3" text-anchor="middle" font-weight="bold" fill="#111">epoch</text>
<text x="135.90" y="245.30" font-size="9.8" text-anchor="middle" font-weight="bold" fill="#111">(a)</text>
<rect x="237.40" y="12.40" width="24.60" height="10.80" fill="#bbb" fill-opacity="0.08" stroke="#F08080" stroke-width="0.9"/>
<clipPath id="cia"><rect x="160.8" y="30" width="103" height="58.4"/></clipPath>
<polyline points="160.80,74.50 164.90,66.72 169.01,78.67 173.11,82.01 177.22,74.50 181.32,67.27 185.42,69.77 189.53,74.50 193.63,83.67 197.74,71.72 201.84,69.77 205.94,71.72 210.05,71.16 214.15,77.28 218.26,72.28 222.36,71.72 226.46,82.28 230.57,81.45 234.67,78.67 238.78,76.45 242.88,72.28 246.98,64.77 251.09,68.38 255.19,60.60 259.30,68.38 263.40,67.55" fill="none" stroke="#00CBCC" stroke-width="1.1" stroke-linejoin="round" opacity="1" clip-path="url(#cia)"/>
<polyline points="160.80,55.87 164.90,61.16 169.01,55.60 173.11,56.43 177.22,54.21 181.32,52.26 185.42,53.65 189.53,55.04 193.63,55.87 197.74,61.99 201.84,56.43 205.94,55.60 210.05,55.87 214.15,54.48 218.26,52.26 222.36,52.26 226.46,68.11 230.57,69.50 234.67,71.16 238.78,52.26 242.88,48.65 246.98,49.48 251.09,47.53 255.19,47.26 259.30,46.70 263.40,46.70" fill="none" stroke="#1A6FDF" stroke-width="1.1" stroke-linejoin="round" opacity="1" clip-path="url(#cia)"/>
<polyline points="160.80,52.26 164.90,53.65 169.01,52.82 173.11,55.04 177.22,52.82 181.32,50.87 185.42,50.87 189.53,66.16 193.63,53.65 197.74,52.26 201.84,49.48 205.94,50.04 210.05,49.48 214.15,49.48 218.26,50.04 222.36,50.04 226.46,68.38 230.57,64.77 234.67,60.60 238.78,58.38 242.88,56.43 246.98,57.82 251.09,57.26 255.19,55.60 259.30,53.65 263.40,52.26" fill="none" stroke="#F14040" stroke-width="1.1" stroke-linejoin="round" opacity="1" clip-path="url(#cia)"/>
<polyline points="160.80,50.31 164.90,50.87 169.01,50.04 173.11,49.48 177.22,48.65 181.32,50.04 185.42,52.82 189.53,53.65 193.63,49.48 197.74,48.65 201.84,48.09 205.94,49.48 210.05,50.04 214.15,48.65 218.26,48.92 222.36,49.48 226.46,54.48 230.57,52.26 234.67,49.48 238.78,49.48 242.88,48.65 246.98,48.92 251.09,49.48 255.19,49.48 259.30,50.04 263.40,49.48" fill="none" stroke="#B177DE" stroke-width="1.1" stroke-linejoin="round" opacity="1" clip-path="url(#cia)"/>
<polyline points="160.80,53.65 164.90,49.48 169.01,48.65 173.11,50.87 177.22,52.26 181.32,48.09 185.42,51.70 189.53,48.09 193.63,45.31 197.74,46.70 201.84,49.48 205.94,45.31 210.05,46.70 214.15,45.31 218.26,47.26 222.36,46.14 226.46,50.87 230.57,49.48 234.67,46.70 238.78,48.65 242.88,46.14 246.98,48.65 251.09,46.70 255.19,46.14 259.30,46.70 263.40,48.65" fill="none" stroke="#37AD6B" stroke-width="1.1" stroke-linejoin="round" opacity="1" clip-path="url(#cia)"/>
<polyline points="160.80,48.65 164.90,48.09 169.01,46.70 173.11,48.09 177.22,50.04 181.32,43.92 185.42,48.92 189.53,51.70 193.63,47.26 197.74,46.70 201.84,45.87 205.94,47.26 210.05,46.14 214.15,45.31 218.26,46.70 222.36,48.09 226.46,56.43 230.57,55.04 234.67,52.26 238.78,49.48 242.88,48.09 246.98,48.65 251.09,47.53 255.19,47.26 259.30,46.70 263.40,48.09" fill="none" stroke="#515151" stroke-width="1.1" stroke-linejoin="round" opacity="1" clip-path="url(#cia)"/>
<polyline points="160.80,43.09 164.90,42.53 169.01,41.70 173.11,43.92 177.22,45.31 181.32,46.70 185.42,45.31 189.53,42.53 193.63,46.70 197.74,40.58 201.84,38.36 205.94,38.92 210.05,40.58 214.15,43.92 218.26,48.09 222.36,41.70 226.46,42.53 230.57,42.53 234.67,41.14 238.78,43.36 242.88,43.92 246.98,46.14 251.09,39.75 255.19,38.92 259.30,41.14 263.40,40.58" fill="none" stroke="#8E8E00" stroke-width="1.1" stroke-linejoin="round" opacity="1" clip-path="url(#cia)"/>
<polyline points="160.80,39.75 164.90,41.14 169.01,40.31 173.11,38.36 177.22,37.53 181.32,38.36 185.42,39.75 189.53,41.14 193.63,40.58 197.74,39.75 201.84,38.36 205.94,39.75 210.05,38.92 214.15,39.75 218.26,40.58 222.36,41.14 226.46,41.70 230.57,42.53 234.67,44.48 238.78,42.53 242.88,40.58 246.98,41.14 251.09,44.48 255.19,41.70 259.30,41.14 263.40,41.14" fill="none" stroke="#CC9900" stroke-width="1.1" stroke-linejoin="round" opacity="1" clip-path="url(#cia)"/>
<line x1="160.80" y1="32.80" x2="160.80" y2="88.85" stroke="#777" stroke-width="0.9"/>
<line x1="160.35" y1="88.40" x2="263.40" y2="88.40" stroke="#777" stroke-width="0.9"/>
<line x1="160.80" y1="88.40" x2="160.80" y2="88.40" stroke="#777" stroke-width="0.81"/>
<text x="159.30" y="90.37" font-size="5.8" text-anchor="end" font-weight="normal" fill="#222" stroke="#222" stroke-width="0.1">0.975</text>
<line x1="160.80" y1="74.50" x2="160.80" y2="74.50" stroke="#777" stroke-width="0.81"/>
<text x="159.30" y="76.47" font-size="5.8" text-anchor="end" font-weight="normal" fill="#222" stroke="#222" stroke-width="0.1">0.980</text>
<line x1="160.80" y1="60.60" x2="160.80" y2="60.60" stroke="#777" stroke-width="0.81"/>
<text x="159.30" y="62.57" font-size="5.8" text-anchor="end" font-weight="normal" fill="#222" stroke="#222" stroke-width="0.1">0.985</text>
<line x1="160.80" y1="46.70" x2="160.80" y2="46.70" stroke="#777" stroke-width="0.81"/>
<text x="159.30" y="48.67" font-size="5.8" text-anchor="end" font-weight="normal" fill="#222" stroke="#222" stroke-width="0.1">0.990</text>
<line x1="160.80" y1="32.80" x2="160.80" y2="32.80" stroke="#777" stroke-width="0.81"/>
<text x="159.30" y="34.77" font-size="5.8" text-anchor="end" font-weight="normal" fill="#222" stroke="#222" stroke-width="0.1">0.995</text>
<line x1="160.80" y1="88.40" x2="160.80" y2="88.40" stroke="#777" stroke-width="0.81"/>
<text x="160.80" y="95.20" font-size="6.3" text-anchor="middle" font-weight="normal" fill="#222" stroke="#222" stroke-width="0.1">175</text>
<line x1="181.32" y1="88.40" x2="181.32" y2="88.40" stroke="#777" stroke-width="0.81"/>
<text x="181.32" y="95.20" font-size="6.3" text-anchor="middle" font-weight="normal" fill="#222" stroke="#222" stroke-width="0.1">180</text>
<line x1="201.84" y1="88.40" x2="201.84" y2="88.40" stroke="#777" stroke-width="0.81"/>
<text x="201.84" y="95.20" font-size="6.3" text-anchor="middle" font-weight="normal" fill="#222" stroke="#222" stroke-width="0.1">185</text>
<line x1="222.36" y1="88.40" x2="222.36" y2="88.40" stroke="#777" stroke-width="0.81"/>
<text x="222.36" y="95.20" font-size="6.3" text-anchor="middle" font-weight="normal" fill="#222" stroke="#222" stroke-width="0.1">190</text>
<line x1="242.88" y1="88.40" x2="242.88" y2="88.40" stroke="#777" stroke-width="0.81"/>
<text x="242.88" y="95.20" font-size="6.3" text-anchor="middle" font-weight="normal" fill="#222" stroke="#222" stroke-width="0.1">195</text>
<line x1="263.40" y1="88.40" x2="263.40" y2="88.40" stroke="#777" stroke-width="0.81"/>
<text x="263.40" y="95.20" font-size="6.3" text-anchor="middle" font-weight="normal" fill="#222" stroke="#222" stroke-width="0.1">200</text>
<text transform="translate(145.30 60.70) rotate(-90)" font-size="7" text-anchor="middle" font-weight="normal" fill="#222" stroke="#222" stroke-width="0.1">mAP50</text>
<text x="213.00" y="101.50" font-size="7" text-anchor="middle" font-weight="normal" fill="#222" stroke="#222" stroke-width="0.1">epoch</text>
<rect x="193.30" y="104.90" width="69.20" height="89.00" fill="#fff" stroke="#999" stroke-width="0.8"/>
<line x1="195.00" y1="110.00" x2="212.70" y2="110.00" stroke="#515151" stroke-width="1.0" opacity="1.0"/>
<text transform="translate(215.00 112.99) scale(1 1.08)" font-size="7.7" text-anchor="start" font-weight="normal" fill="#111" stroke="#111" stroke-width="0.12">YOLOv5</text>
<line x1="195.00" y1="120.00" x2="212.70" y2="120.00" stroke="#F14040" stroke-width="1.0" opacity="1.0"/>
<text transform="translate(215.00 122.99) scale(1 1.08)" font-size="7.7" text-anchor="start" font-weight="normal" fill="#111" stroke="#111" stroke-width="0.12">YOLOv5p6</text>
<line x1="195.00" y1="130.00" x2="212.70" y2="130.00" stroke="#1A6FDF" stroke-width="1.0" opacity="1.0"/>
<text transform="translate(215.00 132.99) scale(1 1.08)" font-size="7.7" text-anchor="start" font-weight="normal" fill="#111" stroke="#111" stroke-width="0.12">YOLOv6</text>
<line x1="195.00" y1="140.00" x2="212.70" y2="140.00" stroke="#37AD6B" stroke-width="1.0" opacity="1.0"/>
<text transform="translate(215.00 142.99) scale(1 1.08)" font-size="7.7" text-anchor="start" font-weight="normal" fill="#111" stroke="#111" stroke-width="0.12">YOLOv8</text>
<line x1="195.00" y1="150.00" x2="212.70" y2="150.00" stroke="#B177DE" stroke-width="1.0" opacity="1.0"/>
<text transform="translate(215.00 152.99) scale(1 1.08)" font-size="7.7" text-anchor="start" font-weight="normal" fill="#111" stroke="#111" stroke-width="0.12">YOLOv8p6</text>
<line x1="195.00" y1="160.00" x2="212.70" y2="160.00" stroke="#CC9900" stroke-width="1.0" opacity="1.0"/>
<text transform="translate(215.00 162.99) scale(1 1.08)" font-size="7.7" text-anchor="start" font-weight="normal" fill="#111" stroke="#111" stroke-width="0.12">ICDW-YOLO</text>
<line x1="195.00" y1="170.00" x2="212.70" y2="170.00" stroke="#00CBCC" stroke-width="1.0" opacity="1.0"/>
<text transform="translate(215.00 172.99) scale(1 1.08)" font-size="7.7" text-anchor="start" font-weight="normal" fill="#111" stroke="#111" stroke-width="0.12">EfficientNetv2</text>
<line x1="195.00" y1="180.00" x2="212.70" y2="180.00" stroke="#7D4E4E" stroke-width="1.0" opacity="1.0"/>
<text transform="translate(215.00 182.99) scale(1 1.08)" font-size="7.7" text-anchor="start" font-weight="normal" fill="#111" stroke="#111" stroke-width="0.12">RTDETR</text>
<line x1="195.00" y1="190.00" x2="212.70" y2="190.00" stroke="#8E8E00" stroke-width="1.0" opacity="1.0"/>
<text transform="translate(215.00 192.99) scale(1 1.08)" font-size="7.7" text-anchor="start" font-weight="normal" fill="#111" stroke="#111" stroke-width="0.12">ShuffleNetV2</text>
<rect x="513.20" y="53.30" width="32.40" height="52.10" fill="#e0e0e0"/>
<polyline points="312.30,198.22 313.01,198.60 313.72,198.52 314.43,198.46 315.14,198.51 315.85,198.60 316.55,198.55 317.26,198.60 317.97,198.60 318.68,198.48 319.39,198.55 320.10,198.58 320.81,198.25 321.52,198.60 322.23,198.28 322.94,198.55 323.64,198.25 324.35,198.34 325.06,198.27 325.77,198.60 326.48,198.55 327.19,198.56 327.90,198.23 328.61,198.04 329.32,197.91 330.03,198.41 330.73,198.20 331.44,198.60 332.15,198.60 332.86,198.49 333.57,198.41 334.28,198.60 334.99,198.60 335.70,197.94 336.41,198.42 337.12,198.60 337.82,197.19 338.53,198.01 339.24,198.19 339.95,197.78 340.66,198.33 341.37,197.31 342.08,198.57 342.79,198.44 343.50,197.89 344.20,198.12 344.91,197.12 345.62,198.42 346.33,197.98 347.04,197.50 347.75,197.30 348.46,197.05 349.17,197.31 349.88,196.36 350.59,197.61 351.30,197.25 352.00,196.86 352.71,197.40 353.42,197.35 354.13,197.39 354.84,197.44 355.55,197.66 356.26,197.31 356.97,197.81 357.68,196.72 358.38,197.76 359.09,195.69 359.80,195.84 360.51,196.13 361.22,196.82 361.93,196.99 362.64,195.92 363.35,196.46 364.06,196.21 364.77,196.88 365.48,195.83 366.18,196.83 366.89,196.28 367.60,197.27 368.31,196.62 369.02,195.92 369.73,196.35 370.44,196.25 371.15,195.44 371.86,195.83 372.56,194.98 373.27,196.96 373.98,195.15 374.69,195.08 375.40,196.16 376.11,195.91 376.82,194.56 377.53,195.57 378.24,195.22 378.95,194.41 379.65,194.84 380.36,194.27 381.07,194.94 381.78,194.17 382.49,193.61 383.20,193.94 383.91,195.30 384.62,193.55 385.33,193.79 386.04,194.25 386.75,192.80 387.45,194.53 388.16,192.31 388.87,193.48 389.58,191.88 390.29,192.53 391.00,192.99 391.71,191.85 392.42,191.41 393.13,190.98 393.84,190.38 394.54,191.24 395.25,190.11 395.96,189.67 396.67,189.96 397.38,190.06 398.09,189.83 398.80,188.67 399.51,188.51 400.22,189.34 400.93,189.51 401.63,187.83 402.34,189.37 403.05,188.21 403.76,188.65 404.47,189.09 405.18,187.82 405.89,187.87 406.60,186.75 407.31,186.11 408.01,187.46 408.72,186.59 409.43,186.44 410.14,187.26 410.85,187.33 411.56,185.68 412.27,186.75 412.98,186.41 413.69,186.43 414.40,186.20 415.11,186.35 415.81,185.39 416.52,184.94 417.23,185.80 417.94,186.27 418.65,185.24 419.36,186.04 420.07,185.37 420.78,184.06 421.49,183.24 422.20,184.29 422.90,185.03 423.61,183.74 424.32,185.47 425.03,184.36 425.74,182.82 426.45,183.16 427.16,184.34 427.87,184.36 428.58,182.64 429.29,183.05 429.99,183.25 430.70,182.47 431.41,182.95 432.12,183.67 432.83,181.81 433.54,182.60 434.25,182.69 434.96,182.76 435.67,181.62 436.38,182.16 437.08,181.11 437.79,181.55 438.50,180.55 439.21,181.35 439.92,181.39 440.63,182.09 441.34,181.40 442.05,180.10 442.76,178.47 443.47,181.09 444.17,180.82 444.88,179.80 445.59,179.48 446.30,179.95 447.01,179.18 447.72,179.99 448.43,178.86 449.14,177.81 449.85,177.05 450.56,177.94 451.26,177.72 451.97,176.98 452.68,176.27 453.39,176.39 454.10,176.92 454.81,175.92 455.52,175.24 456.23,176.01 456.94,176.09 457.64,174.55 458.35,174.32 459.06,173.60 459.77,173.85 460.48,174.00 461.19,173.54 461.90,173.60 462.61,173.22 463.32,172.64 464.03,172.26 464.74,170.87 465.44,172.15 466.15,171.22 466.86,171.43 467.57,169.90 468.28,170.57 468.99,170.84 469.70,169.90 470.41,170.24 471.12,170.46 471.82,168.96 472.53,169.36 473.24,168.53 473.95,168.76 474.66,168.87 475.37,169.15 476.08,169.82 476.79,168.46 477.50,168.74 478.21,168.18 478.91,168.49 479.62,168.80 480.33,168.86 481.04,167.56 481.75,167.01 482.46,167.93 483.17,167.27 483.88,166.49 484.59,167.85 485.30,167.32 486.00,167.66 486.71,165.91 487.42,166.34 488.13,166.65 488.84,167.28 489.55,166.07 490.26,165.08 490.97,165.77 491.68,165.67 492.39,164.75 493.10,165.85 493.80,164.77 494.51,164.21 495.22,164.97 495.93,164.81 496.64,163.88 497.35,163.93 498.06,163.89 498.77,163.56 499.48,163.52 500.19,164.29 500.89,164.09 501.60,163.28 502.31,162.79 503.02,162.60 503.73,164.11 504.44,162.73 505.15,162.94 505.86,163.46 506.57,163.08 507.27,162.81 507.98,162.11 508.69,164.08 509.40,162.89 510.11,163.39 510.82,163.41 511.53,162.43 512.24,162.63 512.95,163.91 513.66,163.38 514.37,163.03 515.07,164.20 515.78,162.60 516.49,163.28 517.20,163.13 517.91,163.02 518.62,161.98 519.33,163.26 520.04,163.55 520.75,162.07 521.45,163.68 522.16,163.71 522.87,164.35 523.58,162.59 524.29,163.18 525.00,163.06 525.71,163.29 526.42,163.52 527.13,164.00 527.84,164.01 528.54,163.15 529.25,163.39 529.96,162.31 530.67,164.05 531.38,163.87 532.09,164.27 532.80,162.51 533.51,164.32 534.22,162.77 534.93,162.19 535.63,163.25 536.34,162.53 537.05,164.52 537.76,163.16 538.47,164.00 539.18,162.57 539.89,162.60 540.60,163.08 541.31,161.74 542.02,162.08 542.73,162.63 543.43,162.54 544.14,163.15 544.85,162.12 545.56,160.33" fill="none" stroke="#00CBCC" stroke-width="0.95" stroke-linejoin="round" opacity="1"/>
<polyline points="312.30,198.60 313.01,198.58 313.72,198.60 314.43,198.50 315.14,198.51 315.85,198.58 316.55,198.60 317.26,198.60 317.97,198.25 318.68,198.57 319.39,198.32 320.10,198.60 320.81,198.60 321.52,198.31 322.23,198.33 322.94,198.60 323.64,198.60 324.35,198.29 325.06,198.60 325.77,198.22 326.48,198.50 327.19,198.60 327.90,198.46 328.61,198.60 329.32,198.60 330.03,198.06 330.73,198.60 331.44,197.91 332.15,197.44 332.86,198.18 333.57,198.60 334.28,198.60 334.99,197.41 335.70,198.50 336.41,198.60 337.12,198.27 337.82,197.59 338.53,197.80 339.24,197.30 339.95,198.60 340.66,198.29 341.37,198.23 342.08,197.90 342.79,198.60 343.50,198.10 344.20,198.60 344.91,195.67 345.62,195.33 346.33,195.04 347.04,196.29 347.75,198.29 348.46,195.76 349.17,197.48 349.88,195.92 350.59,198.36 351.30,197.65 352.00,195.58 352.71,192.95 353.42,196.10 354.13,191.52 354.84,190.27 355.55,198.08 356.26,195.39 356.97,197.13 357.68,195.26 358.38,195.76 359.09,194.32 359.80,191.59 360.51,191.21 361.22,192.27 361.93,192.39 362.64,191.70 363.35,191.24 364.06,189.82 364.77,190.62 365.48,189.10 366.18,192.58 366.89,187.59 367.60,184.97 368.31,187.75 369.02,190.59 369.73,184.10 370.44,187.11 371.15,192.17 371.86,185.71 372.56,183.39 373.27,183.28 373.98,180.86 374.69,181.45 375.40,181.78 376.11,185.45 376.82,182.93 377.53,179.53 378.24,177.79 378.95,180.59 379.65,179.02 380.36,176.08 381.07,180.25 381.78,179.58 382.49,175.29 383.20,173.54 383.91,174.24 384.62,177.13 385.33,171.67 386.04,173.61 386.75,168.85 387.45,169.59 388.16,168.08 388.87,166.56 389.58,168.10 390.29,164.64 391.00,163.05 391.71,163.94 392.42,161.34 393.13,164.39 393.84,160.61 394.54,161.09 395.25,162.75 395.96,160.21 396.67,160.30 397.38,159.57 398.09,157.84 398.80,155.47 399.51,157.60 400.22,156.26 400.93,158.78 401.63,155.29 402.34,152.82 403.05,152.97 403.76,153.10 404.47,154.47 405.18,154.80 405.89,152.66 406.60,154.46 407.31,153.76 408.01,149.25 408.72,152.16 409.43,146.70 410.14,152.08 410.85,148.20 411.56,150.60 412.27,147.66 412.98,149.34 413.69,146.74 414.40,146.35 415.11,146.14 415.81,143.68 416.52,141.18 417.23,144.16 417.94,140.82 418.65,141.49 419.36,140.95 420.07,136.33 420.78,143.19 421.49,139.86 422.20,141.07 422.90,137.74 423.61,136.85 424.32,129.20 425.03,134.39 425.74,131.19 426.45,131.57 427.16,134.05 427.87,132.03 428.58,129.57 429.29,131.61 429.99,131.08 430.70,130.13 431.41,132.98 432.12,131.36 432.83,129.00 433.54,128.19 434.25,130.11 434.96,128.67 435.67,127.88 436.38,127.45 437.08,125.63 437.79,126.10 438.50,125.54 439.21,127.57 439.92,126.53 440.63,123.89 441.34,126.42 442.05,123.04 442.76,124.02 443.47,123.78 444.17,121.06 444.88,122.69 445.59,122.71 446.30,122.16 447.01,120.79 447.72,116.49 448.43,123.54 449.14,120.14 449.85,120.21 450.56,118.18 451.26,119.88 451.97,122.69 452.68,116.88 453.39,120.14 454.10,118.39 454.81,120.01 455.52,119.35 456.23,118.23 456.94,116.05 457.64,115.82 458.35,117.59 459.06,115.79 459.77,116.75 460.48,115.82 461.19,115.50 461.90,114.60 462.61,116.04 463.32,115.12 464.03,114.39 464.74,114.30 465.44,115.23 466.15,111.61 466.86,114.27 467.57,112.42 468.28,112.92 468.99,111.35 469.70,115.55 470.41,109.83 471.12,112.52 471.82,113.59 472.53,111.61 473.24,108.68 473.95,110.67 474.66,112.62 475.37,111.41 476.08,108.95 476.79,112.10 477.50,110.35 478.21,110.26 478.91,107.04 479.62,109.78 480.33,107.62 481.04,109.77 481.75,109.68 482.46,107.31 483.17,107.52 483.88,110.03 484.59,107.04 485.30,106.81 486.00,108.02 486.71,106.83 487.42,106.54 488.13,107.16 488.84,107.06 489.55,107.02 490.26,106.43 490.97,107.46 491.68,105.90 492.39,107.35 493.10,105.50 493.80,105.53 494.51,106.42 495.22,104.25 495.93,102.95 496.64,103.47 497.35,106.20 498.06,103.26 498.77,104.24 499.48,104.39 500.19,104.81 500.89,104.06 501.60,102.48 502.31,103.22 503.02,104.06 503.73,104.18 504.44,103.78 505.15,102.63 505.86,101.21 506.57,104.00 507.27,102.81 507.98,103.05 508.69,103.27 509.40,102.00 510.11,101.72 510.82,103.51 511.53,103.06 512.24,100.84 512.95,101.61 513.66,101.35 514.37,102.24 515.07,102.05 515.78,101.19 516.49,102.01 517.20,102.50 517.91,101.40 518.62,100.50 519.33,102.20 520.04,100.22 520.75,100.47 521.45,101.81 522.16,100.95 522.87,100.92 523.58,100.25 524.29,100.15 525.00,101.81 525.71,101.80 526.42,99.68 527.13,100.43 527.84,100.13 528.54,100.16 529.25,99.10 529.96,101.37 530.67,99.39 531.38,100.95 532.09,99.62 532.80,99.07 533.51,101.26 534.22,99.76 534.93,100.26 535.63,100.23 536.34,99.92 537.05,100.74 537.76,100.62 538.47,99.30 539.18,99.11 539.89,100.17 540.60,100.81 541.31,97.86 542.02,98.75 542.73,99.28 543.43,100.28 544.14,99.89 544.85,99.23 545.56,100.08" fill="none" stroke="#F14040" stroke-width="0.95" stroke-linejoin="round" opacity="1"/>
<polyline points="312.30,198.60 313.01,198.57 313.72,198.54 314.43,198.60 315.14,198.60 315.85,198.60 316.55,198.43 317.26,198.50 317.97,198.49 318.68,198.33 319.39,198.32 320.10,197.91 320.81,198.41 321.52,198.60 322.23,198.30 322.94,197.67 323.64,198.50 324.35,198.21 325.06,198.39 325.77,197.98 326.48,198.03 327.19,198.60 327.90,198.27 328.61,197.51 329.32,197.36 330.03,197.43 330.73,197.42 331.44,198.27 332.15,198.28 332.86,197.22 333.57,198.60 334.28,197.99 334.99,198.60 335.70,198.26 336.41,198.48 337.12,198.60 337.82,196.79 338.53,198.05 339.24,197.48 339.95,197.18 340.66,197.60 341.37,194.73 342.08,196.98 342.79,195.90 343.50,197.78 344.20,196.48 344.91,196.10 345.62,195.91 346.33,196.16 347.04,194.88 347.75,192.44 348.46,194.75 349.17,194.37 349.88,194.42 350.59,188.96 351.30,190.12 352.00,191.58 352.71,190.90 353.42,193.14 354.13,191.71 354.84,190.61 355.55,190.40 356.26,191.98 356.97,191.47 357.68,188.39 358.38,188.28 359.09,192.94 359.80,187.57 360.51,184.40 361.22,188.00 361.93,185.48 362.64,188.57 363.35,183.02 364.06,186.64 364.77,186.34 365.48,183.73 366.18,177.38 366.89,183.18 367.60,183.95 368.31,179.65 369.02,179.53 369.73,175.89 370.44,181.46 371.15,181.52 371.86,178.21 372.56,176.14 373.27,175.57 373.98,173.46 374.69,178.30 375.40,176.38 376.11,174.42 376.82,171.89 377.53,172.11 378.24,173.43 378.95,174.13 379.65,169.71 380.36,169.05 381.07,164.95 381.78,170.29 382.49,166.13 383.20,171.31 383.91,169.44 384.62,169.18 385.33,168.22 386.04,168.51 386.75,167.32 387.45,165.83 388.16,166.08 388.87,163.37 389.58,164.30 390.29,163.42 391.00,159.82 391.71,161.36 392.42,160.95 393.13,160.57 393.84,159.69 394.54,157.99 395.25,159.91 395.96,155.46 396.67,153.93 397.38,154.01 398.09,156.42 398.80,157.77 399.51,154.87 400.22,153.03 400.93,151.05 401.63,152.22 402.34,151.72 403.05,147.61 403.76,150.96 404.47,147.03 405.18,146.61 405.89,150.22 406.60,146.78 407.31,147.81 408.01,148.02 408.72,149.16 409.43,148.14 410.14,144.07 410.85,145.02 411.56,143.34 412.27,145.23 412.98,143.41 413.69,142.73 414.40,144.35 415.11,143.91 415.81,139.57 416.52,139.46 417.23,140.71 417.94,138.62 418.65,136.66 419.36,134.01 420.07,138.08 420.78,134.85 421.49,131.65 422.20,134.53 422.90,131.51 423.61,137.77 424.32,130.29 425.03,132.13 425.74,134.63 426.45,129.61 427.16,128.60 427.87,127.78 428.58,127.24 429.29,128.72 429.99,129.35 430.70,128.31 431.41,127.05 432.12,125.77 432.83,126.66 433.54,125.24 434.25,123.34 434.96,123.67 435.67,119.97 436.38,119.64 437.08,124.33 437.79,122.85 438.50,123.45 439.21,122.66 439.92,119.42 440.63,121.26 441.34,120.77 442.05,119.01 442.76,116.81 443.47,118.02 444.17,117.46 444.88,115.06 445.59,115.46 446.30,115.21 447.01,114.20 447.72,116.85 448.43,114.74 449.14,115.72 449.85,113.00 450.56,113.04 451.26,115.48 451.97,111.74 452.68,115.09 453.39,111.44 454.10,112.55 454.81,113.81 455.52,113.88 456.23,112.44 456.94,111.77 457.64,112.45 458.35,110.40 459.06,112.85 459.77,110.64 460.48,110.35 461.19,112.63 461.90,109.38 462.61,111.23 463.32,112.61 464.03,109.79 464.74,109.00 465.44,107.21 466.15,108.78 466.86,105.94 467.57,105.77 468.28,106.01 468.99,105.50 469.70,106.54 470.41,107.48 471.12,105.71 471.82,105.09 472.53,105.79 473.24,106.18 473.95,107.61 474.66,104.59 475.37,104.77 476.08,106.58 476.79,104.64 477.50,103.66 478.21,104.44 478.91,103.15 479.62,102.96 480.33,105.40 481.04,103.78 481.75,102.63 482.46,101.90 483.17,101.11 483.88,104.75 484.59,102.38 485.30,101.26 486.00,100.47 486.71,99.73 487.42,102.47 488.13,101.61 488.84,102.18 489.55,99.99 490.26,102.25 490.97,99.38 491.68,99.55 492.39,99.93 493.10,102.71 493.80,100.98 494.51,99.33 495.22,101.54 495.93,100.18 496.64,99.92 497.35,98.77 498.06,99.30 498.77,99.20 499.48,99.84 500.19,99.27 500.89,99.30 501.60,98.31 502.31,99.13 503.02,97.79 503.73,100.45 504.44,97.41 505.15,98.68 505.86,97.28 506.57,98.21 507.27,97.34 507.98,96.61 508.69,98.51 509.40,97.78 510.11,97.92 510.82,97.46 511.53,99.15 512.24,97.69 512.95,97.70 513.66,98.15 514.37,97.52 515.07,98.72 515.78,95.90 516.49,96.73 517.20,95.34 517.91,97.82 518.62,98.02 519.33,96.63 520.04,98.33 520.75,96.55 521.45,97.33 522.16,96.93 522.87,96.34 523.58,96.46 524.29,94.80 525.00,95.82 525.71,97.46 526.42,95.46 527.13,97.43 527.84,96.17 528.54,97.27 529.25,96.88 529.96,95.04 530.67,96.58 531.38,96.62 532.09,96.52 532.80,96.28 533.51,94.81 534.22,96.92 534.93,96.93 535.63,95.43 536.34,97.14 537.05,96.12 537.76,94.91 538.47,95.77 539.18,96.11 539.89,96.26 540.60,96.38 541.31,96.10 542.02,95.51 542.73,94.64 543.43,94.82 544.14,95.94 544.85,96.03 545.56,94.94" fill="none" stroke="#515151" stroke-width="0.95" stroke-linejoin="round" opacity="1"/>
<polyline points="312.30,198.60 313.01,198.60 313.72,198.60 314.43,198.60 315.14,198.60 315.85,198.50 316.55,198.60 317.26,198.60 317.97,198.60 318.68,198.49 319.39,198.60 320.10,198.16 320.81,198.59 321.52,198.57 322.23,198.60 322.94,198.60 323.64,198.60 324.35,197.88 325.06,198.24 325.77,198.32 326.48,197.64 327.19,198.52 327.90,197.65 328.61,197.94 329.32,198.47 330.03,197.28 330.73,198.60 331.44,197.17 332.15,198.27 332.86,197.17 333.57,196.24 334.28,196.84 334.99,197.84 335.70,197.23 336.41,197.38 337.12,197.99 337.82,197.72 338.53,196.24 339.24,195.43 339.95,197.90 340.66,195.65 341.37,194.68 342.08,194.93 342.79,196.17 343.50,193.17 344.20,196.06 344.91,193.17 345.62,191.49 346.33,196.72 347.04,192.98 347.75,192.64 348.46,192.12 349.17,193.12 349.88,191.73 350.59,192.98 351.30,189.67 352.00,188.29 352.71,189.84 353.42,189.71 354.13,188.23 354.84,186.69 355.55,185.90 356.26,185.59 356.97,184.59 357.68,186.84 358.38,189.22 359.09,181.31 359.80,178.79 360.51,184.28 361.22,181.90 361.93,179.05 362.64,176.90 363.35,176.83 364.06,174.73 364.77,176.88 365.48,175.13 366.18,174.41 366.89,175.48 367.60,170.98 368.31,171.21 369.02,169.46 369.73,171.36 370.44,167.35 371.15,170.74 371.86,166.69 372.56,171.99 373.27,167.62 373.98,162.97 374.69,164.43 375.40,162.13 376.11,164.84 376.82,157.51 377.53,158.68 378.24,159.17 378.95,157.48 379.65,156.87 380.36,153.87 381.07,155.53 381.78,158.14 382.49,154.89 383.20,151.01 383.91,151.66 384.62,152.85 385.33,150.00 386.04,150.20 386.75,148.43 387.45,151.98 388.16,149.83 388.87,145.96 389.58,146.92 390.29,145.00 391.00,141.09 391.71,144.72 392.42,142.85 393.13,143.61 393.84,142.94 394.54,141.09 395.25,143.11 395.96,143.72 396.67,136.48 397.38,138.66 398.09,135.71 398.80,136.98 399.51,136.31 400.22,134.71 400.93,134.00 401.63,136.97 402.34,131.86 403.05,135.28 403.76,132.48 404.47,127.53 405.18,131.46 405.89,127.94 406.60,131.00 407.31,128.63 408.01,129.07 408.72,127.84 409.43,129.56 410.14,129.09 410.85,126.27 411.56,129.09 412.27,127.22 412.98,124.00 413.69,125.66 414.40,125.56 415.11,125.37 415.81,122.59 416.52,122.91 417.23,121.43 417.94,121.45 418.65,117.34 419.36,120.72 420.07,122.76 420.78,118.62 421.49,118.24 422.20,117.41 422.90,119.82 423.61,114.61 424.32,116.00 425.03,115.45 425.74,117.45 426.45,113.69 427.16,114.28 427.87,111.61 428.58,114.22 429.29,115.25 429.99,112.69 430.70,114.08 431.41,111.60 432.12,113.71 432.83,111.85 433.54,111.69 434.25,111.07 434.96,111.52 435.67,111.67 436.38,110.16 437.08,110.66 437.79,109.20 438.50,109.54 439.21,112.29 439.92,108.58 440.63,106.03 441.34,107.39 442.05,106.63 442.76,106.53 443.47,107.62 444.17,108.60 444.88,105.08 445.59,104.45 446.30,104.91 447.01,104.85 447.72,104.63 448.43,104.98 449.14,104.27 449.85,104.38 450.56,103.65 451.26,105.21 451.97,104.48 452.68,102.50 453.39,103.51 454.10,106.17 454.81,102.32 455.52,105.40 456.23,99.30 456.94,100.68 457.64,100.48 458.35,102.04 459.06,102.39 459.77,100.88 460.48,100.29 461.19,101.08 461.90,99.56 462.61,98.59 463.32,98.44 464.03,100.32 464.74,101.50 465.44,98.41 466.15,98.99 466.86,97.33 467.57,95.64 468.28,95.48 468.99,97.03 469.70,95.83 470.41,95.00 471.12,96.83 471.82,96.38 472.53,95.50 473.24,96.42 473.95,96.81 474.66,96.94 475.37,95.86 476.08,96.44 476.79,94.58 477.50,95.75 478.21,93.47 478.91,93.60 479.62,96.29 480.33,93.43 481.04,94.97 481.75,92.77 482.46,93.59 483.17,94.05 483.88,93.07 484.59,94.28 485.30,93.12 486.00,92.89 486.71,93.31 487.42,92.56 488.13,93.89 488.84,92.06 489.55,93.85 490.26,91.79 490.97,91.85 491.68,91.50 492.39,92.73 493.10,88.87 493.80,92.17 494.51,91.68 495.22,92.51 495.93,90.16 496.64,92.00 497.35,90.41 498.06,92.27 498.77,90.90 499.48,91.48 500.19,90.07 500.89,91.19 501.60,91.65 502.31,90.25 503.02,91.76 503.73,91.42 504.44,89.64 505.15,92.09 505.86,89.45 506.57,90.46 507.27,90.84 507.98,89.64 508.69,89.17 509.40,90.21 510.11,89.72 510.82,88.74 511.53,88.76 512.24,89.47 512.95,90.10 513.66,90.23 514.37,89.88 515.07,88.70 515.78,88.77 516.49,88.99 517.20,88.00 517.91,89.47 518.62,89.51 519.33,89.49 520.04,87.47 520.75,90.87 521.45,88.82 522.16,88.66 522.87,88.96 523.58,87.02 524.29,87.98 525.00,88.29 525.71,89.65 526.42,88.47 527.13,89.16 527.84,88.79 528.54,88.63 529.25,89.16 529.96,88.23 530.67,87.41 531.38,87.87 532.09,88.49 532.80,90.15 533.51,87.76 534.22,87.74 534.93,88.70 535.63,88.89 536.34,88.00 537.05,89.09 537.76,87.85 538.47,89.23 539.18,89.08 539.89,88.35 540.60,89.41 541.31,88.31 542.02,87.90 542.73,89.21 543.43,87.57 544.14,88.60 544.85,87.79 545.56,88.00" fill="none" stroke="#B177DE" stroke-width="0.95" stroke-linejoin="round" opacity="1"/>
<polyline points="312.30,198.60 313.01,198.59 313.72,198.60 314.43,198.59 315.14,198.59 315.85,198.27 316.55,198.31 317.26,198.60 317.97,198.25 318.68,198.35 319.39,198.48 320.10,198.22 320.81,198.08 321.52,198.51 322.23,198.39 322.94,198.20 323.64,198.60 324.35,198.11 325.06,198.12 325.77,198.31 326.48,198.30 327.19,197.58 327.90,197.13 328.61,197.32 329.32,197.95 330.03,196.81 330.73,197.07 331.44,196.65 332.15,196.09 332.86,197.55 333.57,196.85 334.28,197.13 334.99,197.29 335.70,194.56 336.41,195.22 337.12,197.50 337.82,194.94 338.53,195.60 339.24,193.38 339.95,194.18 340.66,194.10 341.37,193.36 342.08,192.69 342.79,192.75 343.50,192.71 344.20,192.24 344.91,190.98 345.62,192.90 346.33,190.95 347.04,190.75 347.75,190.94 348.46,188.35 349.17,190.81 349.88,188.65 350.59,188.75 351.30,185.71 352.00,186.71 352.71,185.11 353.42,183.79 354.13,186.67 354.84,182.20 355.55,183.75 356.26,182.10 356.97,181.12 357.68,178.56 358.38,177.95 359.09,175.06 359.80,177.61 360.51,178.23 361.22,177.55 361.93,174.41 362.64,171.71 363.35,173.59 364.06,174.74 364.77,172.26 365.48,171.56 366.18,171.28 366.89,172.12 367.60,174.91 368.31,169.98 369.02,165.90 369.73,166.74 370.44,170.75 371.15,165.43 371.86,168.28 372.56,159.75 373.27,162.48 373.98,164.39 374.69,159.56 375.40,161.82 376.11,158.31 376.82,158.65 377.53,160.29 378.24,155.96 378.95,159.15 379.65,153.22 380.36,154.99 381.07,156.38 381.78,157.17 382.49,149.85 383.20,149.46 383.91,153.92 384.62,147.66 385.33,149.77 386.04,149.79 386.75,148.81 387.45,148.44 388.16,144.52 388.87,146.21 389.58,149.22 390.29,141.16 391.00,142.70 391.71,145.64 392.42,143.57 393.13,143.86 393.84,141.39 394.54,140.03 395.25,139.70 395.96,140.60 396.67,140.34 397.38,136.73 398.09,137.83 398.80,132.97 399.51,137.85 400.22,134.37 400.93,135.07 401.63,135.89 402.34,131.49 403.05,133.07 403.76,134.25 404.47,132.61 405.18,129.64 405.89,132.95 406.60,127.77 407.31,128.37 408.01,129.47 408.72,126.06 409.43,124.82 410.14,126.23 410.85,126.39 411.56,122.96 412.27,122.99 412.98,126.54 413.69,124.74 414.40,124.18 415.11,123.93 415.81,125.18 416.52,120.58 417.23,121.38 417.94,120.78 418.65,118.03 419.36,120.73 420.07,119.32 420.78,118.20 421.49,118.78 422.20,117.68 422.90,115.68 423.61,116.37 424.32,113.62 425.03,116.42 425.74,114.31 426.45,116.57 427.16,114.12 427.87,114.70 428.58,111.06 429.29,111.70 429.99,111.73 430.70,109.27 431.41,109.57 432.12,110.36 432.83,112.21 433.54,113.02 434.25,110.48 434.96,110.63 435.67,110.72 436.38,109.83 437.08,111.55 437.79,106.42 438.50,110.05 439.21,108.99 439.92,106.78 440.63,109.71 441.34,105.56 442.05,105.20 442.76,106.69 443.47,107.46 444.17,106.23 444.88,107.90 445.59,102.93 446.30,104.59 447.01,105.46 447.72,105.42 448.43,103.04 449.14,101.45 449.85,105.11 450.56,103.85 451.26,105.23 451.97,101.56 452.68,102.01 453.39,98.84 454.10,101.86 454.81,102.01 455.52,102.11 456.23,99.72 456.94,102.81 457.64,99.32 458.35,99.73 459.06,100.47 459.77,100.72 460.48,97.86 461.19,96.53 461.90,99.29 462.61,97.75 463.32,95.91 464.03,98.70 464.74,97.95 465.44,98.91 466.15,97.27 466.86,96.94 467.57,97.15 468.28,97.34 468.99,98.17 469.70,97.66 470.41,96.99 471.12,94.78 471.82,95.98 472.53,96.18 473.24,94.14 473.95,94.05 474.66,95.42 475.37,95.05 476.08,93.31 476.79,93.45 477.50,94.65 478.21,93.18 478.91,93.29 479.62,91.75 480.33,93.83 481.04,91.61 481.75,91.92 482.46,93.34 483.17,90.80 483.88,90.76 484.59,93.03 485.30,89.16 486.00,92.40 486.71,91.94 487.42,91.07 488.13,89.68 488.84,89.71 489.55,90.31 490.26,88.64 490.97,89.54 491.68,88.38 492.39,86.77 493.10,89.41 493.80,92.18 494.51,89.84 495.22,90.36 495.93,89.03 496.64,88.91 497.35,90.14 498.06,89.94 498.77,88.91 499.48,88.72 500.19,91.03 500.89,87.31 501.60,88.13 502.31,88.05 503.02,87.63 503.73,88.81 504.44,87.73 505.15,86.55 505.86,86.39 506.57,86.87 507.27,87.47 507.98,87.87 508.69,85.69 509.40,86.34 510.11,87.12 510.82,88.68 511.53,87.39 512.24,88.32 512.95,85.29 513.66,86.22 514.37,87.03 515.07,86.54 515.78,83.84 516.49,85.06 517.20,87.34 517.91,86.18 518.62,87.11 519.33,87.50 520.04,85.73 520.75,83.68 521.45,84.39 522.16,85.68 522.87,85.99 523.58,85.43 524.29,84.65 525.00,86.76 525.71,87.05 526.42,83.77 527.13,85.09 527.84,83.90 528.54,85.01 529.25,83.91 529.96,85.61 530.67,84.63 531.38,83.70 532.09,84.09 532.80,85.25 533.51,84.09 534.22,85.30 534.93,85.86 535.63,84.23 536.34,83.48 537.05,83.86 537.76,85.47 538.47,83.74 539.18,83.84 539.89,84.67 540.60,86.17 541.31,83.42 542.02,83.46 542.73,83.71 543.43,85.34 544.14,85.09 544.85,83.16 545.56,83.26" fill="none" stroke="#37AD6B" stroke-width="0.95" stroke-linejoin="round" opacity="1"/>
<polyline points="312.30,198.60 313.01,198.57 313.72,198.51 314.43,198.54 315.14,198.50 315.85,198.55 316.55,198.36 317.26,198.45 317.97,198.12 318.68,198.12 319.39,198.49 320.10,197.67 320.81,198.57 321.52,198.00 322.23,197.71 322.94,197.56 323.64,198.60 324.35,197.52 325.06,197.25 325.77,196.96 326.48,198.60 327.19,197.85 327.90,197.38 328.61,197.48 329.32,196.16 330.03,197.39 330.73,195.89 331.44,196.23 332.15,197.67 332.86,197.21 333.57,196.66 334.28,196.03 334.99,195.04 335.70,196.03 336.41,194.61 337.12,196.81 337.82,198.09 338.53,194.75 339.24,193.44 339.95,194.02 340.66,194.44 341.37,192.26 342.08,189.86 342.79,192.15 343.50,192.63 344.20,192.44 344.91,187.95 345.62,190.51 346.33,189.11 347.04,187.73 347.75,187.53 348.46,190.01 349.17,186.09 349.88,185.47 350.59,185.28 351.30,183.54 352.00,185.62 352.71,183.94 353.42,184.03 354.13,180.76 354.84,182.76 355.55,179.88 356.26,182.16 356.97,179.37 357.68,179.11 358.38,177.78 359.09,176.43 359.80,176.32 360.51,175.59 361.22,178.90 361.93,171.03 362.64,174.05 363.35,172.40 364.06,172.88 364.77,168.05 365.48,171.41 366.18,167.52 366.89,165.24 367.60,163.44 368.31,163.65 369.02,164.10 369.73,167.24 370.44,161.08 371.15,160.52 371.86,160.49 372.56,159.78 373.27,160.54 373.98,161.00 374.69,156.83 375.40,155.64 376.11,159.72 376.82,154.90 377.53,155.58 378.24,153.53 378.95,154.09 379.65,151.64 380.36,151.10 381.07,150.67 381.78,154.62 382.49,149.38 383.20,150.24 383.91,151.92 384.62,147.47 385.33,150.96 386.04,145.66 386.75,143.34 387.45,147.04 388.16,143.47 388.87,143.69 389.58,142.58 390.29,145.84 391.00,141.23 391.71,141.46 392.42,139.55 393.13,140.27 393.84,137.42 394.54,138.31 395.25,136.95 395.96,135.05 396.67,136.78 397.38,134.65 398.09,135.55 398.80,134.42 399.51,135.85 400.22,132.80 400.93,131.38 401.63,133.29 402.34,131.07 403.05,131.19 403.76,133.49 404.47,130.19 405.18,127.83 405.89,130.61 406.60,132.42 407.31,128.19 408.01,129.13 408.72,123.88 409.43,126.81 410.14,126.13 410.85,126.65 411.56,124.45 412.27,125.31 412.98,125.30 413.69,123.18 414.40,123.90 415.11,119.52 415.81,123.30 416.52,120.76 417.23,121.23 417.94,121.83 418.65,115.91 419.36,121.84 420.07,115.07 420.78,119.41 421.49,116.21 422.20,111.88 422.90,118.78 423.61,116.87 424.32,111.70 425.03,113.02 425.74,113.62 426.45,112.41 427.16,113.62 427.87,111.45 428.58,108.82 429.29,111.59 429.99,110.38 430.70,108.28 431.41,106.65 432.12,110.52 432.83,108.72 433.54,109.77 434.25,109.55 434.96,108.80 435.67,108.82 436.38,110.21 437.08,110.26 437.79,107.91 438.50,106.20 439.21,104.16 439.92,106.54 440.63,105.62 441.34,103.99 442.05,103.52 442.76,104.49 443.47,104.04 444.17,100.77 444.88,103.80 445.59,103.80 446.30,105.25 447.01,101.93 447.72,102.73 448.43,99.27 449.14,102.35 449.85,100.43 450.56,100.01 451.26,98.74 451.97,102.79 452.68,98.40 453.39,100.39 454.10,100.32 454.81,100.37 455.52,100.25 456.23,99.93 456.94,102.47 457.64,98.26 458.35,98.64 459.06,99.80 459.77,98.34 460.48,94.87 461.19,97.25 461.90,98.05 462.61,94.99 463.32,98.11 464.03,97.01 464.74,97.30 465.44,96.64 466.15,95.13 466.86,95.10 467.57,96.59 468.28,95.60 468.99,95.11 469.70,95.53 470.41,94.85 471.12,95.50 471.82,95.31 472.53,94.12 473.24,95.24 473.95,93.23 474.66,93.78 475.37,94.46 476.08,93.87 476.79,93.49 477.50,92.89 478.21,92.35 478.91,92.53 479.62,93.10 480.33,90.18 481.04,90.59 481.75,91.31 482.46,90.13 483.17,90.64 483.88,91.10 484.59,90.50 485.30,87.38 486.00,89.06 486.71,88.80 487.42,90.19 488.13,88.88 488.84,86.88 489.55,88.74 490.26,87.89 490.97,87.55 491.68,88.06 492.39,86.92 493.10,88.21 493.80,87.78 494.51,88.81 495.22,85.23 495.93,87.53 496.64,87.59 497.35,86.11 498.06,87.90 498.77,87.26 499.48,87.90 500.19,86.93 500.89,87.19 501.60,86.10 502.31,86.63 503.02,86.95 503.73,86.49 504.44,86.17 505.15,86.40 505.86,84.83 506.57,84.94 507.27,85.31 507.98,86.45 508.69,84.65 509.40,86.22 510.11,84.67 510.82,84.69 511.53,85.24 512.24,85.41 512.95,85.23 513.66,82.63 514.37,84.73 515.07,84.63 515.78,83.51 516.49,83.96 517.20,83.34 517.91,85.35 518.62,85.17 519.33,81.18 520.04,84.14 520.75,84.30 521.45,83.86 522.16,83.09 522.87,84.94 523.58,83.61 524.29,83.83 525.00,83.18 525.71,83.56 526.42,84.11 527.13,84.34 527.84,85.60 528.54,82.70 529.25,84.68 529.96,83.75 530.67,82.01 531.38,83.66 532.09,82.78 532.80,83.39 533.51,82.62 534.22,83.10 534.93,83.48 535.63,81.97 536.34,83.19 537.05,83.97 537.76,83.13 538.47,82.42 539.18,83.63 539.89,82.14 540.60,82.11 541.31,81.05 542.02,83.06 542.73,82.05 543.43,83.71 544.14,82.75 544.85,82.32 545.56,82.05" fill="none" stroke="#1A6FDF" stroke-width="0.95" stroke-linejoin="round" opacity="1"/>
<polyline points="312.30,198.60 313.01,198.58 313.72,198.59 314.43,198.57 315.14,198.47 315.85,198.41 316.55,198.36 317.26,198.25 317.97,198.16 318.68,198.60 319.39,198.51 320.10,198.39 320.81,198.53 321.52,197.93 322.23,197.99 322.94,198.30 323.64,198.18 324.35,197.60 325.06,198.22 325.77,198.09 326.48,197.32 327.19,197.41 327.90,196.72 328.61,197.20 329.32,196.82 330.03,197.55 330.73,197.71 331.44,196.94 332.15,198.60 332.86,196.36 333.57,195.75 334.28,196.37 334.99,196.51 335.70,195.17 336.41,195.91 337.12,194.46 337.82,192.74 338.53,193.84 339.24,193.16 339.95,193.22 340.66,193.08 341.37,192.63 342.08,192.46 342.79,190.73 343.50,193.87 344.20,191.67 344.91,189.97 345.62,191.69 346.33,190.21 347.04,190.69 347.75,188.55 348.46,186.95 349.17,185.05 349.88,185.66 350.59,186.79 351.30,184.23 352.00,182.75 352.71,180.31 353.42,185.86 354.13,180.32 354.84,183.58 355.55,177.81 356.26,177.40 356.97,176.36 357.68,174.64 358.38,174.71 359.09,175.92 359.80,172.84 360.51,170.08 361.22,171.93 361.93,170.66 362.64,172.33 363.35,166.36 364.06,168.91 364.77,168.45 365.48,166.87 366.18,166.78 366.89,164.54 367.60,160.44 368.31,160.51 369.02,158.28 369.73,157.22 370.44,161.20 371.15,157.44 371.86,154.42 372.56,151.87 373.27,158.50 373.98,157.58 374.69,152.81 375.40,153.50 376.11,153.90 376.82,150.41 377.53,152.04 378.24,154.27 378.95,149.07 379.65,148.06 380.36,146.33 381.07,145.02 381.78,145.80 382.49,145.91 383.20,146.03 383.91,147.23 384.62,144.14 385.33,140.63 386.04,140.59 386.75,137.17 387.45,140.71 388.16,143.13 388.87,137.40 389.58,136.29 390.29,139.78 391.00,139.90 391.71,135.83 392.42,134.06 393.13,136.79 393.84,134.60 394.54,134.70 395.25,134.94 395.96,134.67 396.67,131.44 397.38,131.87 398.09,131.90 398.80,134.95 399.51,126.42 400.22,130.84 400.93,128.84 401.63,130.14 402.34,126.87 403.05,129.77 403.76,126.35 404.47,126.34 405.18,123.84 405.89,126.93 406.60,125.61 407.31,124.35 408.01,119.77 408.72,125.65 409.43,122.09 410.14,123.30 410.85,121.16 411.56,120.12 412.27,120.58 412.98,119.92 413.69,119.45 414.40,120.50 415.11,119.42 415.81,121.44 416.52,118.76 417.23,119.02 417.94,117.70 418.65,115.58 419.36,115.73 420.07,115.14 420.78,113.64 421.49,119.03 422.20,113.88 422.90,114.20 423.61,113.87 424.32,115.42 425.03,111.92 425.74,110.50 426.45,110.43 427.16,111.99 427.87,110.55 428.58,109.82 429.29,108.11 429.99,108.81 430.70,110.29 431.41,110.10 432.12,109.72 432.83,109.36 433.54,110.24 434.25,107.98 434.96,110.01 435.67,109.91 436.38,107.84 437.08,109.01 437.79,108.24 438.50,110.77 439.21,106.12 439.92,107.08 440.63,106.99 441.34,105.84 442.05,105.95 442.76,107.05 443.47,102.76 444.17,106.14 444.88,103.79 445.59,102.33 446.30,105.71 447.01,104.46 447.72,105.57 448.43,102.66 449.14,104.44 449.85,105.32 450.56,101.67 451.26,102.03 451.97,104.37 452.68,101.25 453.39,102.43 454.10,98.72 454.81,99.91 455.52,102.83 456.23,102.22 456.94,102.84 457.64,101.25 458.35,101.16 459.06,100.02 459.77,100.69 460.48,102.55 461.19,101.46 461.90,98.31 462.61,98.45 463.32,99.96 464.03,99.72 464.74,99.55 465.44,99.09 466.15,101.06 466.86,97.58 467.57,99.40 468.28,98.23 468.99,101.44 469.70,97.82 470.41,96.30 471.12,100.58 471.82,95.80 472.53,96.94 473.24,98.26 473.95,99.13 474.66,95.66 475.37,96.60 476.08,96.06 476.79,96.93 477.50,97.40 478.21,95.29 478.91,97.27 479.62,94.97 480.33,97.79 481.04,96.77 481.75,97.21 482.46,93.92 483.17,97.23 483.88,96.38 484.59,94.22 485.30,94.55 486.00,92.24 486.71,92.49 487.42,93.68 488.13,93.46 488.84,96.04 489.55,94.95 490.26,94.29 490.97,94.05 491.68,95.24 492.39,94.70 493.10,94.53 493.80,92.47 494.51,93.06 495.22,93.77 495.93,93.64 496.64,92.99 497.35,93.93 498.06,93.41 498.77,94.81 499.48,92.32 500.19,91.96 500.89,92.49 501.60,92.31 502.31,92.35 503.02,90.62 503.73,92.36 504.44,93.78 505.15,93.44 505.86,91.66 506.57,91.25 507.27,91.46 507.98,91.33 508.69,91.88 509.40,93.39 510.11,92.58 510.82,93.56 511.53,92.20 512.24,93.09 512.95,91.72 513.66,91.94 514.37,93.55 515.07,91.08 515.78,91.04 516.49,92.97 517.20,91.56 517.91,91.03 518.62,91.91 519.33,90.88 520.04,91.45 520.75,90.66 521.45,91.42 522.16,91.71 522.87,91.10 523.58,90.85 524.29,91.30 525.00,91.87 525.71,92.14 526.42,91.77 527.13,91.91 527.84,91.25 528.54,91.26 529.25,91.45 529.96,91.36 530.67,91.20 531.38,90.06 532.09,90.34 532.80,91.75 533.51,90.93 534.22,91.51 534.93,91.31 535.63,91.40 536.34,91.68 537.05,92.23 537.76,93.05 538.47,90.98 539.18,90.22 539.89,91.79 540.60,90.70 541.31,91.35 542.02,90.84 542.73,91.62 543.43,91.18 544.14,91.07 544.85,92.70 545.56,90.80" fill="none" stroke="#8E8E00" stroke-width="0.95" stroke-linejoin="round" opacity="1"/>
<polyline points="312.30,198.60 313.01,198.60 313.72,198.52 314.43,198.54 315.14,198.49 315.85,198.44 316.55,198.54 317.26,198.60 317.97,198.52 318.68,198.51 319.39,197.78 320.10,197.81 320.81,198.50 321.52,198.46 322.23,198.17 322.94,198.04 323.64,198.55 324.35,198.60 325.06,197.15 325.77,197.44 326.48,198.60 327.19,198.60 327.90,198.14 328.61,197.40 329.32,197.07 330.03,197.54 330.73,198.34 331.44,196.93 332.15,196.52 332.86,196.87 333.57,197.18 334.28,196.14 334.99,196.59 335.70,197.49 336.41,196.05 337.12,197.10 337.82,194.38 338.53,194.52 339.24,195.80 339.95,194.05 340.66,192.42 341.37,196.24 342.08,193.38 342.79,190.66 343.50,194.56 344.20,192.33 344.91,193.76 345.62,191.46 346.33,194.60 347.04,193.12 347.75,191.10 348.46,189.18 349.17,187.94 349.88,187.00 350.59,184.89 351.30,184.80 352.00,183.86 352.71,186.13 353.42,183.78 354.13,176.57 354.84,177.39 355.55,179.31 356.26,178.62 356.97,177.23 357.68,179.27 358.38,173.38 359.09,177.48 359.80,175.96 360.51,170.14 361.22,178.55 361.93,172.34 362.64,175.99 363.35,172.78 364.06,170.68 364.77,170.36 365.48,168.34 366.18,169.48 366.89,167.16 367.60,168.55 368.31,165.90 369.02,167.10 369.73,161.82 370.44,165.02 371.15,159.88 371.86,161.28 372.56,160.12 373.27,156.07 373.98,157.38 374.69,160.64 375.40,154.70 376.11,160.84 376.82,153.54 377.53,154.21 378.24,155.55 378.95,151.78 379.65,151.86 380.36,146.40 381.07,150.68 381.78,145.11 382.49,145.54 383.20,148.87 383.91,148.57 384.62,143.53 385.33,145.75 386.04,144.44 386.75,144.55 387.45,145.75 388.16,143.35 388.87,143.80 389.58,144.21 390.29,141.04 391.00,136.21 391.71,135.84 392.42,138.42 393.13,137.32 393.84,135.86 394.54,133.50 395.25,134.96 395.96,135.93 396.67,135.19 397.38,131.68 398.09,128.29 398.80,133.93 399.51,136.08 400.22,130.04 400.93,131.16 401.63,130.18 402.34,127.53 403.05,129.18 403.76,131.23 404.47,131.84 405.18,127.68 405.89,129.18 406.60,125.91 407.31,128.24 408.01,126.14 408.72,127.82 409.43,125.38 410.14,125.15 410.85,122.85 411.56,121.11 412.27,123.50 412.98,124.34 413.69,118.86 414.40,121.35 415.11,120.52 415.81,120.14 416.52,118.24 417.23,118.65 417.94,118.86 418.65,118.32 419.36,120.80 420.07,119.97 420.78,118.70 421.49,117.96 422.20,117.70 422.90,116.72 423.61,116.57 424.32,116.70 425.03,118.11 425.74,113.24 426.45,113.17 427.16,115.16 427.87,112.32 428.58,112.00 429.29,112.04 429.99,114.75 430.70,113.17 431.41,111.66 432.12,107.47 432.83,111.07 433.54,109.72 434.25,110.47 434.96,108.95 435.67,107.08 436.38,110.50 437.08,111.21 437.79,105.07 438.50,105.57 439.21,106.09 439.92,103.09 440.63,102.59 441.34,106.92 442.05,103.38 442.76,100.88 443.47,103.15 444.17,102.09 444.88,99.71 445.59,101.16 446.30,102.15 447.01,100.94 447.72,101.47 448.43,98.20 449.14,101.19 449.85,96.68 450.56,100.19 451.26,97.25 451.97,99.05 452.68,96.92 453.39,94.54 454.10,93.97 454.81,93.28 455.52,94.87 456.23,94.16 456.94,93.55 457.64,92.58 458.35,93.59 459.06,91.05 459.77,91.71 460.48,90.14 461.19,90.65 461.90,89.94 462.61,91.46 463.32,90.61 464.03,91.38 464.74,89.61 465.44,89.03 466.15,87.26 466.86,89.64 467.57,83.25 468.28,87.29 468.99,85.06 469.70,84.94 470.41,89.16 471.12,85.93 471.82,83.48 472.53,88.26 473.24,83.95 473.95,85.87 474.66,85.08 475.37,83.99 476.08,86.37 476.79,83.58 477.50,84.40 478.21,84.30 478.91,82.31 479.62,78.68 480.33,82.31 481.04,81.83 481.75,82.34 482.46,82.92 483.17,81.53 483.88,79.83 484.59,81.17 485.30,80.14 486.00,81.21 486.71,77.84 487.42,82.39 488.13,79.63 488.84,79.46 489.55,79.56 490.26,80.90 490.97,80.70 491.68,79.49 492.39,78.91 493.10,80.14 493.80,79.76 494.51,77.78 495.22,77.06 495.93,78.57 496.64,78.51 497.35,78.32 498.06,74.70 498.77,76.61 499.48,76.98 500.19,75.65 500.89,74.10 501.60,75.07 502.31,77.55 503.02,75.95 503.73,76.07 504.44,75.79 505.15,76.47 505.86,75.42 506.57,75.90 507.27,74.26 507.98,74.34 508.69,75.58 509.40,75.66 510.11,74.23 510.82,72.95 511.53,73.01 512.24,73.47 512.95,76.50 513.66,73.69 514.37,73.83 515.07,73.35 515.78,74.10 516.49,73.26 517.20,73.38 517.91,70.13 518.62,71.92 519.33,72.66 520.04,72.44 520.75,72.41 521.45,72.04 522.16,72.48 522.87,72.04 523.58,71.01 524.29,71.10 525.00,71.47 525.71,70.52 526.42,71.45 527.13,72.45 527.84,73.06 528.54,72.09 529.25,71.49 529.96,71.05 530.67,70.42 531.38,71.77 532.09,71.91 532.80,70.54 533.51,70.16 534.22,71.48 534.93,70.76 535.63,69.86 536.34,70.67 537.05,70.92 537.76,72.50 538.47,69.72 539.18,70.22 539.89,70.58 540.60,70.99 541.31,71.54 542.02,70.60 542.73,70.55 543.43,69.58 544.14,71.29 544.85,69.23 545.56,70.24" fill="none" stroke="#CC9900" stroke-width="0.95" stroke-linejoin="round" opacity="1"/>
<polyline points="312.30,198.60 313.01,198.60 313.72,198.58 314.43,198.50 315.14,198.59 315.85,198.60 316.55,198.60 317.26,198.50 317.97,198.60 318.68,198.60 319.39,198.55 320.10,198.60 320.81,198.38 321.52,198.60 322.23,198.60 322.94,198.60 323.64,197.95 324.35,198.60 325.06,198.47 325.77,198.23 326.48,198.60 327.19,197.50 327.90,197.92 328.61,197.63 329.32,198.60 330.03,198.60 330.73,198.60 331.44,197.62 332.15,197.54 332.86,196.65 333.57,195.84 334.28,197.26 334.99,197.17 335.70,196.37 336.41,194.95 337.12,196.99 337.82,195.04 338.53,195.62 339.24,195.34 339.95,193.57 340.66,195.15 341.37,195.15 342.08,192.51 342.79,193.03 343.50,192.97 344.20,192.41 344.91,191.09 345.62,191.99 346.33,189.86 347.04,190.00 347.75,187.86 348.46,187.32 349.17,187.12 349.88,188.08 350.59,186.67 351.30,187.11 352.00,179.94 352.71,184.76 353.42,182.44 354.13,180.00 354.84,184.52 355.55,182.64 356.26,180.94 356.97,181.37 357.68,181.14 358.38,178.37 359.09,173.02 359.80,172.91 360.51,173.09 361.22,171.75 361.93,174.15 362.64,167.56 363.35,166.80 364.06,168.77 364.77,164.57 365.48,164.09 366.18,163.64 366.89,163.59 367.60,161.83 368.31,161.34 369.02,157.22 369.73,156.36 370.44,155.39 371.15,155.41 371.86,154.82 372.56,148.51 373.27,155.77 373.98,148.19 374.69,148.91 375.40,148.45 376.11,148.60 376.82,146.91 377.53,147.87 378.24,147.22 378.95,143.48 379.65,145.62 380.36,139.36 381.07,137.73 381.78,146.19 382.49,141.57 383.20,137.11 383.91,136.52 384.62,136.02 385.33,134.67 386.04,133.31 386.75,132.36 387.45,129.79 388.16,132.64 388.87,130.24 389.58,134.52 390.29,130.82 391.00,132.27 391.71,126.37 392.42,123.80 393.13,126.64 393.84,129.56 394.54,126.51 395.25,125.52 395.96,124.48 396.67,122.04 397.38,121.60 398.09,128.08 398.80,119.83 399.51,122.92 400.22,122.55 400.93,118.27 401.63,121.00 402.34,122.60 403.05,122.02 403.76,118.90 404.47,116.81 405.18,115.20 405.89,117.85 406.60,117.91 407.31,113.52 408.01,116.90 408.72,112.86 409.43,114.63 410.14,114.13 410.85,114.51 411.56,113.04 412.27,113.94 412.98,113.83 413.69,112.37 414.40,112.85 415.11,110.67 415.81,110.61 416.52,110.78 417.23,110.21 417.94,109.81 418.65,105.87 419.36,108.51 420.07,109.09 420.78,108.11 421.49,105.97 422.20,107.03 422.90,106.49 423.61,106.21 424.32,105.03 425.03,104.19 425.74,103.65 426.45,106.81 427.16,105.44 427.87,107.69 428.58,101.47 429.29,100.56 429.99,99.85 430.70,101.40 431.41,99.33 432.12,100.92 432.83,100.66 433.54,102.61 434.25,100.95 434.96,100.24 435.67,97.38 436.38,95.79 437.08,98.85 437.79,97.10 438.50,96.86 439.21,98.14 439.92,99.25 440.63,97.31 441.34,97.99 442.05,95.82 442.76,95.15 443.47,94.82 444.17,94.40 444.88,93.05 445.59,94.87 446.30,91.74 447.01,95.29 447.72,92.30 448.43,91.46 449.14,92.89 449.85,93.73 450.56,90.05 451.26,91.65 451.97,89.15 452.68,88.83 453.39,89.62 454.10,89.26 454.81,87.48 455.52,88.02 456.23,89.55 456.94,87.62 457.64,86.73 458.35,86.88 459.06,86.55 459.77,86.67 460.48,86.28 461.19,87.06 461.90,87.39 462.61,83.52 463.32,85.58 464.03,84.06 464.74,86.04 465.44,83.45 466.15,84.41 466.86,79.01 467.57,83.95 468.28,83.52 468.99,80.67 469.70,80.07 470.41,83.92 471.12,80.46 471.82,79.24 472.53,81.50 473.24,78.64 473.95,79.75 474.66,79.91 475.37,78.67 476.08,78.37 476.79,79.09 477.50,74.20 478.21,77.08 478.91,77.00 479.62,74.63 480.33,75.32 481.04,73.22 481.75,74.70 482.46,73.54 483.17,73.42 483.88,72.91 484.59,72.92 485.30,72.37 486.00,69.90 486.71,72.17 487.42,71.58 488.13,70.92 488.84,69.52 489.55,69.44 490.26,68.57 490.97,70.81 491.68,68.77 492.39,68.97 493.10,68.81 493.80,68.04 494.51,70.07 495.22,67.37 495.93,67.23 496.64,68.63 497.35,66.94 498.06,64.92 498.77,66.69 499.48,65.38 500.19,65.96 500.89,66.29 501.60,66.12 502.31,65.30 503.02,63.29 503.73,63.51 504.44,64.78 505.15,62.78 505.86,63.64 506.57,63.92 507.27,62.53 507.98,63.58 508.69,63.95 509.40,60.86 510.11,63.63 510.82,61.09 511.53,62.94 512.24,61.35 512.95,61.36 513.66,61.44 514.37,62.95 515.07,60.83 515.78,60.62 516.49,61.27 517.20,60.35 517.91,59.23 518.62,60.66 519.33,59.62 520.04,60.75 520.75,59.21 521.45,58.83 522.16,57.05 522.87,58.31 523.58,58.58 524.29,57.58 525.00,59.54 525.71,57.71 526.42,59.08 527.13,59.11 527.84,57.61 528.54,58.31 529.25,57.36 529.96,59.67 530.67,58.19 531.38,58.82 532.09,58.57 532.80,59.89 533.51,57.52 534.22,58.08 534.93,59.02 535.63,59.27 536.34,58.85 537.05,57.02 537.76,58.17 538.47,58.32 539.18,57.65 539.89,57.99 540.60,57.79 541.31,57.36 542.02,57.65 542.73,57.21 543.43,58.73 544.14,57.76 544.85,58.03 545.56,57.66" fill="none" stroke="#7D4E4E" stroke-width="0.95" stroke-linejoin="round" opacity="1"/>
<rect x="312.30" y="12.10" width="77.90" height="100.60" fill="#fff" stroke="#999" stroke-width="0.8"/>
<line x1="314.00" y1="18.20" x2="334.20" y2="18.20" stroke="#515151" stroke-width="1.4" opacity="1.0"/>
<text transform="translate(336.60 21.62) scale(1 1.08)" font-size="8.8" text-anchor="start" font-weight="normal" fill="#111" stroke="#111" stroke-width="0.12">YOLOv5</text>
<line x1="314.00" y1="29.27" x2="334.20" y2="29.27" stroke="#F14040" stroke-width="1.4" opacity="1.0"/>
<text transform="translate(336.60 32.69) scale(1 1.08)" font-size="8.8" text-anchor="start" font-weight="normal" fill="#111" stroke="#111" stroke-width="0.12">YOLO5p6</text>
<line x1="314.00" y1="40.34" x2="334.20" y2="40.34" stroke="#1A6FDF" stroke-width="1.4" opacity="1.0"/>
<text transform="translate(336.60 43.76) scale(1 1.08)" font-size="8.8" text-anchor="start" font-weight="normal" fill="#111" stroke="#111" stroke-width="0.12">YOLOv6</text>
<line x1="314.00" y1="51.41" x2="334.20" y2="51.41" stroke="#37AD6B" stroke-width="1.4" opacity="1.0"/>
<text transform="translate(336.60 54.83) scale(1 1.08)" font-size="8.8" text-anchor="start" font-weight="normal" fill="#111" stroke="#111" stroke-width="0.12">YOLOv8</text>
<line x1="314.00" y1="62.48" x2="334.20" y2="62.48" stroke="#B177DE" stroke-width="1.4" opacity="1.0"/>
<text transform="translate(336.60 65.90) scale(1 1.08)" font-size="8.8" text-anchor="start" font-weight="normal" fill="#111" stroke="#111" stroke-width="0.12">YOLOv8p6</text>
<line x1="314.00" y1="73.55" x2="334.20" y2="73.55" stroke="#CC9900" stroke-width="1.4" opacity="1.0"/>
<text transform="translate(336.60 76.97) scale(1 1.08)" font-size="8.8" text-anchor="start" font-weight="normal" fill="#111" stroke="#111" stroke-width="0.12">ICDW-YOLO</text>
<line x1="314.00" y1="84.62" x2="334.20" y2="84.62" stroke="#00CBCC" stroke-width="1.4" opacity="1.0"/>
<text transform="translate(336.60 88.04) scale(1 1.08)" font-size="8.8" text-anchor="start" font-weight="normal" fill="#111" stroke="#111" stroke-width="0.12">EfficientNetv2</text>
<line x1="314.00" y1="95.69" x2="334.20" y2="95.69" stroke="#7D4E4E" stroke-width="1.4" opacity="1.0"/>
<text transform="translate(336.60 99.11) scale(1 1.08)" font-size="8.8" text-anchor="start" font-weight="normal" fill="#111" stroke="#111" stroke-width="0.12">RTDETR</text>
<line x1="314.00" y1="106.76" x2="334.20" y2="106.76" stroke="#8E8E00" stroke-width="1.4" opacity="1.0"/>
<text transform="translate(336.60 110.18) scale(1 1.08)" font-size="8.8" text-anchor="start" font-weight="normal" fill="#111" stroke="#111" stroke-width="0.12">ShuffleNetV2</text>
<line x1="312.30" y1="12.00" x2="312.30" y2="199.10" stroke="#222" stroke-width="1.0"/>
<line x1="311.80" y1="198.60" x2="544.00" y2="198.60" stroke="#222" stroke-width="1.0"/>
<line x1="309.10" y1="198.60" x2="312.30" y2="198.60" stroke="#222" stroke-width="0.9"/>
<text transform="translate(306.50 201.46) scale(1 1.08)" font-size="7.8" text-anchor="end" font-weight="normal" fill="#1a1a1a" stroke="#1a1a1a" stroke-width="0.1">0.0</text>
<line x1="309.10" y1="179.94" x2="312.30" y2="179.94" stroke="#222" stroke-width="0.9"/>
<text transform="translate(306.50 182.80) scale(1 1.08)" font-size="7.8" text-anchor="end" font-weight="normal" fill="#1a1a1a" stroke="#1a1a1a" stroke-width="0.1">0.1</text>
<line x1="309.10" y1="161.28" x2="312.30" y2="161.28" stroke="#222" stroke-width="0.9"/>
<text transform="translate(306.50 164.14) scale(1 1.08)" font-size="7.8" text-anchor="end" font-weight="normal" fill="#1a1a1a" stroke="#1a1a1a" stroke-width="0.1">0.2</text>
<line x1="309.10" y1="142.62" x2="312.30" y2="142.62" stroke="#222" stroke-width="0.9"/>
<text transform="translate(306.50 145.48) scale(1 1.08)" font-size="7.8" text-anchor="end" font-weight="normal" fill="#1a1a1a" stroke="#1a1a1a" stroke-width="0.1">0.3</text>
<line x1="309.10" y1="123.96" x2="312.30" y2="123.96" stroke="#222" stroke-width="0.9"/>
<text transform="translate(306.50 126.82) scale(1 1.08)" font-size="7.8" text-anchor="end" font-weight="normal" fill="#1a1a1a" stroke="#1a1a1a" stroke-width="0.1">0.4</text>
<line x1="309.10" y1="105.30" x2="312.30" y2="105.30" stroke="#222" stroke-width="0.9"/>
<text transform="translate(306.50 108.16) scale(1 1.08)" font-size="7.8" text-anchor="end" font-weight="normal" fill="#1a1a1a" stroke="#1a1a1a" stroke-width="0.1">0.5</text>
<line x1="309.10" y1="86.64" x2="312.30" y2="86.64" stroke="#222" stroke-width="0.9"/>
<text transform="translate(306.50 89.50) scale(1 1.08)" font-size="7.8" text-anchor="end" font-weight="normal" fill="#1a1a1a" stroke="#1a1a1a" stroke-width="0.1">0.6</text>
<line x1="309.10" y1="67.98" x2="312.30" y2="67.98" stroke="#222" stroke-width="0.9"/>
<text transform="translate(306.50 70.84) scale(1 1.08)" font-size="7.8" text-anchor="end" font-weight="normal" fill="#1a1a1a" stroke="#1a1a1a" stroke-width="0.1">0.7</text>
<line x1="309.10" y1="49.32" x2="312.30" y2="49.32" stroke="#222" stroke-width="0.9"/>
<text transform="translate(306.50 52.18) scale(1 1.08)" font-size="7.8" text-anchor="end" font-weight="normal" fill="#1a1a1a" stroke="#1a1a1a" stroke-width="0.1">0.8</text>
<line x1="309.10" y1="30.66" x2="312.30" y2="30.66" stroke="#222" stroke-width="0.9"/>
<text transform="translate(306.50 33.52) scale(1 1.08)" font-size="7.8" text-anchor="end" font-weight="normal" fill="#1a1a1a" stroke="#1a1a1a" stroke-width="0.1">0.9</text>
<line x1="309.10" y1="12.00" x2="312.30" y2="12.00" stroke="#222" stroke-width="0.9"/>
<text transform="translate(306.50 14.86) scale(1 1.08)" font-size="7.8" text-anchor="end" font-weight="normal" fill="#1a1a1a" stroke="#1a1a1a" stroke-width="0.1">1.0</text>
<line x1="310.50" y1="189.27" x2="312.30" y2="189.27" stroke="#222" stroke-width="0.8"/>
<line x1="310.50" y1="170.61" x2="312.30" y2="170.61" stroke="#222" stroke-width="0.8"/>
<line x1="310.50" y1="151.95" x2="312.30" y2="151.95" stroke="#222" stroke-width="0.8"/>
<line x1="310.50" y1="133.29" x2="312.30" y2="133.29" stroke="#222" stroke-width="0.8"/>
<line x1="310.50" y1="114.63" x2="312.30" y2="114.63" stroke="#222" stroke-width="0.8"/>
<line x1="310.50" y1="95.97" x2="312.30" y2="95.97" stroke="#222" stroke-width="0.8"/>
<line x1="310.50" y1="77.31" x2="312.30" y2="77.31" stroke="#222" stroke-width="0.8"/>
<line x1="310.50" y1="58.65" x2="312.30" y2="58.65" stroke="#222" stroke-width="0.8"/>
<line x1="310.50" y1="39.99" x2="312.30" y2="39.99" stroke="#222" stroke-width="0.8"/>
<line x1="310.50" y1="21.33" x2="312.30" y2="21.33" stroke="#222" stroke-width="0.8"/>
<line x1="312.30" y1="198.60" x2="312.30" y2="201.80" stroke="#222" stroke-width="0.9"/>
<text transform="translate(312.30 211.00) scale(1 1.08)" font-size="7.5" text-anchor="middle" font-weight="normal" fill="#1a1a1a" stroke="#1a1a1a" stroke-width="0.1">0</text>
<line x1="335.93" y1="198.60" x2="335.93" y2="201.80" stroke="#222" stroke-width="0.9"/>
<text transform="translate(335.93 211.00) scale(1 1.08)" font-size="7.5" text-anchor="middle" font-weight="normal" fill="#1a1a1a" stroke="#1a1a1a" stroke-width="0.1">100</text>
<line x1="359.57" y1="198.60" x2="359.57" y2="201.80" stroke="#222" stroke-width="0.9"/>
<text transform="translate(359.57 211.00) scale(1 1.08)" font-size="7.5" text-anchor="middle" font-weight="normal" fill="#1a1a1a" stroke="#1a1a1a" stroke-width="0.1">200</text>
<line x1="383.20" y1="198.60" x2="383.20" y2="201.80" stroke="#222" stroke-width="0.9"/>
<text transform="translate(383.20 211.00) scale(1 1.08)" font-size="7.5" text-anchor="middle" font-weight="normal" fill="#1a1a1a" stroke="#1a1a1a" stroke-width="0.1">300</text>
<line x1="406.83" y1="198.60" x2="406.83" y2="201.80" stroke="#222" stroke-width="0.9"/>
<text transform="translate(406.83 211.00) scale(1 1.08)" font-size="7.5" text-anchor="middle" font-weight="normal" fill="#1a1a1a" stroke="#1a1a1a" stroke-width="0.1">400</text>
<line x1="430.47" y1="198.60" x2="430.47" y2="201.80" stroke="#222" stroke-width="0.9"/>
<text transform="translate(430.47 211.00) scale(1 1.08)" font-size="7.5" text-anchor="middle" font-weight="normal" fill="#1a1a1a" stroke="#1a1a1a" stroke-width="0.1">500</text>
<line x1="454.10" y1="198.60" x2="454.10" y2="201.80" stroke="#222" stroke-width="0.9"/>
<text transform="translate(454.10 211.00) scale(1 1.08)" font-size="7.5" text-anchor="middle" font-weight="normal" fill="#1a1a1a" stroke="#1a1a1a" stroke-width="0.1">600</text>
<line x1="477.73" y1="198.60" x2="477.73" y2="201.80" stroke="#222" stroke-width="0.9"/>
<text transform="translate(477.73 211.00) scale(1 1.08)" font-size="7.5" text-anchor="middle" font-weight="normal" fill="#1a1a1a" stroke="#1a1a1a" stroke-width="0.1">700</text>
<line x1="501.37" y1="198.60" x2="501.37" y2="201.80" stroke="#222" stroke-width="0.9"/>
<text transform="translate(501.37 211.00) scale(1 1.08)" font-size="7.5" text-anchor="middle" font-weight="normal" fill="#1a1a1a" stroke="#1a1a1a" stroke-width="0.1">800</text>
<line x1="525.00" y1="198.60" x2="525.00" y2="201.80" stroke="#222" stroke-width="0.9"/>
<text transform="translate(525.00 211.00) scale(1 1.08)" font-size="7.5" text-anchor="middle" font-weight="normal" fill="#1a1a1a" stroke="#1a1a1a" stroke-width="0.1">900</text>
<line x1="324.12" y1="198.60" x2="324.12" y2="200.40" stroke="#222" stroke-width="0.8"/>
<line x1="335.93" y1="198.60" x2="335.93" y2="200.40" stroke="#222" stroke-width="0.8"/>
<line x1="347.75" y1="198.60" x2="347.75" y2="200.40" stroke="#222" stroke-width="0.8"/>
<line x1="359.57" y1="198.60" x2="359.57" y2="200.40" stroke="#222" stroke-width="0.8"/>
<line x1="371.38" y1="198.60" x2="371.38" y2="200.40" stroke="#222" stroke-width="0.8"/>
<line x1="383.20" y1="198.60" x2="383.20" y2="200.40" stroke="#222" stroke-width="0.8"/>
<line x1="395.02" y1="198.60" x2="395.02" y2="200.40" stroke="#222" stroke-width="0.8"/>
<line x1="406.83" y1="198.60" x2="406.83" y2="200.40" stroke="#222" stroke-width="0.8"/>
<line x1="418.65" y1="198.60" x2="418.65" y2="200.40" stroke="#222" stroke-width="0.8"/>
<line x1="430.47" y1="198.60" x2="430.47" y2="200.40" stroke="#222" stroke-width="0.8"/>
<line x1="442.28" y1="198.60" x2="442.28" y2="200.40" stroke="#222" stroke-width="0.8"/>
<line x1="454.10" y1="198.60" x2="454.10" y2="200.40" stroke="#222" stroke-width="0.8"/>
<line x1="465.92" y1="198.60" x2="465.92" y2="200.40" stroke="#222" stroke-width="0.8"/>
<line x1="477.73" y1="198.60" x2="477.73" y2="200.40" stroke="#222" stroke-width="0.8"/>
<line x1="489.55" y1="198.60" x2="489.55" y2="200.40" stroke="#222" stroke-width="0.8"/>
<line x1="501.37" y1="198.60" x2="501.37" y2="200.40" stroke="#222" stroke-width="0.8"/>
<line x1="513.18" y1="198.60" x2="513.18" y2="200.40" stroke="#222" stroke-width="0.8"/>
<line x1="525.00" y1="198.60" x2="525.00" y2="200.40" stroke="#222" stroke-width="0.8"/>
<line x1="536.82" y1="198.60" x2="536.82" y2="200.40" stroke="#222" stroke-width="0.8"/>
<text transform="translate(294.00 105.00) rotate(-90)" font-size="9.6" text-anchor="middle" font-weight="normal" fill="#111">mAP50</text>
<text x="428.20" y="226.20" font-size="9.6" text-anchor="middle" font-weight="normal" fill="#111">epoch</text>
<text x="416.80" y="245.30" font-size="9.8" text-anchor="middle" font-weight="bold" fill="#111">(b)</text>
<rect x="513.20" y="53.30" width="32.40" height="52.10" fill="#bbb" fill-opacity="0.08" stroke="#F08080" stroke-width="0.9"/>
<polyline points="413.50,49.26 414.96,49.33 416.42,49.46 417.88,49.40 419.35,49.29 420.81,49.25 422.27,49.20 423.73,49.39 425.19,49.35 426.65,49.10 428.12,49.07 429.58,49.16 431.04,49.16 432.50,49.35 433.96,49.23 435.43,49.15 436.89,49.16 438.35,49.03 439.81,49.00 441.27,48.87 442.73,48.81 444.19,48.72 445.66,48.67 447.12,48.64 448.58,48.78 450.04,48.77 451.50,48.72 452.96,48.67 454.43,48.73 455.89,48.71 457.35,48.94 458.81,49.14 460.27,49.14 461.74,49.28 463.20,49.15 464.66,49.14 466.12,49.34 467.58,49.22 469.04,48.98 470.50,49.06 471.97,49.10 473.43,49.29 474.89,49.27 476.35,48.98 477.81,49.16 479.27,49.20 480.74,49.06 482.20,49.09 483.66,49.01 485.12,49.21 486.58,49.51 488.04,49.34 489.51,49.35 490.97,49.44 492.43,49.28 493.89,49.22 495.35,49.24 496.81,48.99 498.28,48.88 499.74,48.96 501.20,48.97 502.66,49.06" fill="none" stroke="#F14040" stroke-width="1.15" stroke-linejoin="round" opacity="1"/>
<polyline points="413.50,45.22 414.96,45.02 416.42,45.28 417.88,45.45 419.35,45.30 420.81,45.52 422.27,45.67 423.73,45.52 425.19,45.68 426.65,45.54 428.12,45.44 429.58,45.43 431.04,45.21 432.50,45.32 433.96,45.46 435.43,45.55 436.89,45.60 438.35,45.55 439.81,45.81 441.27,46.06 442.73,45.67 444.19,45.64 445.66,45.51 447.12,45.26 448.58,45.20 450.04,44.93 451.50,44.99 452.96,45.21 454.43,45.17 455.89,45.33 457.35,45.44 458.81,45.35 460.27,45.29 461.74,45.23 463.20,45.28 464.66,45.31 466.12,45.20 467.58,45.22 469.04,45.29 470.50,45.39 471.97,45.32 473.43,44.91 474.89,44.83 476.35,44.77 477.81,44.59 479.27,44.33 480.74,44.27 482.20,44.36 483.66,44.64 485.12,44.78 486.58,44.93 488.04,45.01 489.51,45.30 490.97,45.43 492.43,45.40 493.89,45.35 495.35,45.53 496.81,45.38 498.28,45.40 499.74,45.44 501.20,45.43 502.66,45.39" fill="none" stroke="#515151" stroke-width="1.15" stroke-linejoin="round" opacity="1"/>
<polyline points="413.50,41.24 414.96,41.33 416.42,41.25 417.88,41.31 419.35,41.39 420.81,41.37 422.27,41.60 423.73,41.39 425.19,41.22 426.65,41.32 428.12,41.24 429.58,41.14 431.04,40.97 432.50,41.01 433.96,40.82 435.43,40.98 436.89,40.82 438.35,40.84 439.81,40.72 441.27,40.72 442.73,40.58 444.19,40.76 445.66,40.69 447.12,40.79 448.58,40.88 450.04,41.05 451.50,41.02 452.96,41.00 454.43,41.04 455.89,41.17 457.35,41.24 458.81,41.17 460.27,41.26 461.74,41.07 463.20,41.11 464.66,41.01 466.12,40.94 467.58,40.94 469.04,40.82 470.50,40.88 471.97,40.99 473.43,41.02 474.89,41.17 476.35,41.07 477.81,41.15 479.27,41.23 480.74,41.21 482.20,41.39 483.66,41.24 485.12,41.27 486.58,41.51 488.04,41.28 489.51,41.39 490.97,41.64 492.43,41.51 493.89,41.56 495.35,41.45 496.81,41.03 498.28,41.15 499.74,41.07 501.20,40.69 502.66,40.69" fill="none" stroke="#8E8E00" stroke-width="1.15" stroke-linejoin="round" opacity="1"/>
<polyline points="413.50,38.12 414.96,38.06 416.42,38.04 417.88,38.25 419.35,38.36 420.81,38.39 422.27,38.32 423.73,38.57 425.19,38.58 426.65,38.71 428.12,38.29 429.58,38.37 431.04,38.22 432.50,38.02 433.96,37.91 435.43,38.05 436.89,37.87 438.35,37.97 439.81,37.75 441.27,37.98 442.73,38.24 444.19,38.49 445.66,38.19 447.12,38.25 448.58,38.41 450.04,38.43 451.50,38.16 452.96,38.32 454.43,37.91 455.89,38.14 457.35,38.34 458.81,38.14 460.27,38.04 461.74,37.96 463.20,37.77 464.66,38.04 466.12,37.92 467.58,37.52 469.04,37.58 470.50,37.58 471.97,37.80 473.43,37.75 474.89,37.55 476.35,37.81 477.81,38.19 479.27,38.36 480.74,38.53 482.20,38.39 483.66,38.53 485.12,38.64 486.58,38.49 488.04,38.30 489.51,38.16 490.97,38.11 492.43,38.16 493.89,38.11 495.35,38.15 496.81,38.05 498.28,38.12 499.74,38.19 501.20,38.25 502.66,38.25" fill="none" stroke="#B177DE" stroke-width="1.15" stroke-linejoin="round" opacity="1"/>
<polyline points="413.50,33.93 414.96,33.96 416.42,33.94 417.88,33.93 419.35,34.18 420.81,34.30 422.27,34.33 423.73,34.23 425.19,34.13 426.65,34.01 428.12,34.05 429.58,34.20 431.04,34.09 432.50,34.29 433.96,34.45 435.43,34.40 436.89,34.47 438.35,34.51 439.81,34.36 441.27,34.36 442.73,34.35 444.19,34.15 445.66,34.30 447.12,34.16 448.58,34.21 450.04,34.03 451.50,34.09 452.96,33.79 454.43,33.95 455.89,33.83 457.35,34.08 458.81,34.05 460.27,34.18 461.74,34.05 463.20,34.12 464.66,33.84 466.12,33.83 467.58,34.07 469.04,34.02 470.50,34.23 471.97,34.32 473.43,34.30 474.89,34.62 476.35,34.84 477.81,34.53 479.27,34.52 480.74,34.13 482.20,34.05 483.66,34.06 485.12,33.72 486.58,33.64 488.04,33.66 489.51,33.74 490.97,33.88 492.43,33.80 493.89,33.71 495.35,33.91 496.81,33.93 498.28,34.02 499.74,33.91 501.20,33.95 502.66,34.07" fill="none" stroke="#37AD6B" stroke-width="1.15" stroke-linejoin="round" opacity="1"/>
<polyline points="413.50,32.84 414.96,33.07 416.42,32.91 417.88,33.08 419.35,32.89 420.81,33.05 422.27,33.11 423.73,32.76 425.19,32.50 426.65,32.57 428.12,32.38 429.58,32.36 431.04,32.02 432.50,31.98 433.96,32.14 435.43,32.25 436.89,32.36 438.35,32.40 439.81,32.45 441.27,32.72 442.73,32.77 444.19,32.69 445.66,32.56 447.12,32.53 448.58,32.44 450.04,32.58 451.50,32.34 452.96,32.37 454.43,32.32 455.89,32.30 457.35,32.18 458.81,32.16 460.27,32.01 461.74,32.20 463.20,32.42 464.66,32.44 466.12,32.55 467.58,32.70 469.04,32.52 470.50,32.75 471.97,32.72 473.43,32.40 474.89,32.32 476.35,32.15 477.81,32.26 479.27,32.63 480.74,32.35 482.20,32.39 483.66,32.34 485.12,32.42 486.58,32.53 488.04,32.34 489.51,32.27 490.97,32.32 492.43,32.36 493.89,32.55 495.35,32.63 496.81,32.63 498.28,32.83 499.74,32.81 501.20,32.83 502.66,32.77" fill="none" stroke="#1A6FDF" stroke-width="1.15" stroke-linejoin="round" opacity="1"/>
<polyline points="413.50,21.44 414.96,21.46 416.42,21.56 417.88,21.33 419.35,21.34 420.81,21.20 422.27,21.31 423.73,21.16 425.19,21.16 426.65,21.09 428.12,21.21 429.58,20.95 431.04,21.17 432.50,21.18 433.96,21.00 435.43,20.81 436.89,20.75 438.35,20.89 439.81,20.95 441.27,20.91 442.73,20.67 444.19,21.01 445.66,21.16 447.12,21.26 448.58,21.09 450.04,20.92 451.50,20.94 452.96,21.01 454.43,20.75 455.89,20.78 457.35,20.80 458.81,20.83 460.27,20.97 461.74,20.99 463.20,20.88 464.66,21.01 466.12,21.18 467.58,21.04 469.04,21.16 470.50,21.00 471.97,20.98 473.43,21.17 474.89,21.15 476.35,20.92 477.81,21.12 479.27,21.10 480.74,21.34 482.20,21.18 483.66,20.89 485.12,21.07 486.58,21.20 488.04,21.14 489.51,21.22 490.97,21.26 492.43,21.41 493.89,21.56 495.35,21.58 496.81,21.64 498.28,21.75 499.74,21.69 501.20,21.62 502.66,21.64" fill="none" stroke="#CC9900" stroke-width="1.15" stroke-linejoin="round" opacity="1"/>
<polyline points="413.50,8.53 414.96,8.50 416.42,8.37 417.88,8.25 419.35,8.35 420.81,8.42 422.27,8.21 423.73,8.09 425.19,7.90 426.65,8.02 428.12,8.25 429.58,8.33 431.04,8.57 432.50,8.61 433.96,8.42 435.43,8.78 436.89,8.65 438.35,8.30 439.81,8.20 441.27,8.16 442.73,8.26 444.19,8.41 445.66,8.42 447.12,8.68 448.58,8.94 450.04,9.00 451.50,8.81 452.96,8.84 454.43,8.60 455.89,8.34 457.35,8.10 458.81,8.15 460.27,7.94 461.74,8.04 463.20,7.71 464.66,7.79 466.12,8.01 467.58,8.16 469.04,7.88 470.50,7.96 471.97,7.94 473.43,8.12 474.89,8.22 476.35,8.20 477.81,8.17 479.27,8.45 480.74,8.61 482.20,8.54 483.66,8.67 485.12,8.61 486.58,8.52 488.04,8.41 489.51,8.24 490.97,8.05 492.43,8.04 493.89,7.85 495.35,7.95 496.81,7.90 498.28,8.08 499.74,8.19 501.20,8.34 502.66,8.42" fill="none" stroke="#7D4E4E" stroke-width="1.15" stroke-linejoin="round" opacity="1"/>
<line x1="413.50" y1="4.20" x2="413.50" y2="55.55" stroke="#777" stroke-width="0.9"/>
<line x1="413.05" y1="55.10" x2="501.20" y2="55.10" stroke="#777" stroke-width="0.9"/>
<line x1="412.00" y1="55.10" x2="413.50" y2="55.10" stroke="#777" stroke-width="0.81"/>
<text x="412.30" y="57.34" font-size="6.6" text-anchor="end" font-weight="normal" fill="#222" stroke="#222" stroke-width="0.1">0.50</text>
<line x1="412.00" y1="45.96" x2="413.50" y2="45.96" stroke="#777" stroke-width="0.81"/>
<text x="412.30" y="48.20" font-size="6.6" text-anchor="end" font-weight="normal" fill="#222" stroke="#222" stroke-width="0.1">0.55</text>
<line x1="412.00" y1="36.82" x2="413.50" y2="36.82" stroke="#777" stroke-width="0.81"/>
<text x="412.30" y="39.06" font-size="6.6" text-anchor="end" font-weight="normal" fill="#222" stroke="#222" stroke-width="0.1">0.60</text>
<line x1="412.00" y1="27.68" x2="413.50" y2="27.68" stroke="#777" stroke-width="0.81"/>
<text x="412.30" y="29.92" font-size="6.6" text-anchor="end" font-weight="normal" fill="#222" stroke="#222" stroke-width="0.1">0.65</text>
<line x1="412.00" y1="18.54" x2="413.50" y2="18.54" stroke="#777" stroke-width="0.81"/>
<text x="412.30" y="20.78" font-size="6.6" text-anchor="end" font-weight="normal" fill="#222" stroke="#222" stroke-width="0.1">0.70</text>
<line x1="412.00" y1="9.40" x2="413.50" y2="9.40" stroke="#777" stroke-width="0.81"/>
<text x="412.30" y="11.64" font-size="6.6" text-anchor="end" font-weight="normal" fill="#222" stroke="#222" stroke-width="0.1">0.75</text>
<line x1="413.50" y1="55.10" x2="413.50" y2="56.60" stroke="#777" stroke-width="0.81"/>
<text x="413.50" y="62.50" font-size="6.4" text-anchor="middle" font-weight="normal" fill="#222" stroke="#222" stroke-width="0.1">950</text>
<line x1="442.73" y1="55.10" x2="442.73" y2="56.60" stroke="#777" stroke-width="0.81"/>
<text x="442.73" y="62.50" font-size="6.4" text-anchor="middle" font-weight="normal" fill="#222" stroke="#222" stroke-width="0.1">960</text>
<line x1="471.97" y1="55.10" x2="471.97" y2="56.60" stroke="#777" stroke-width="0.81"/>
<text x="471.97" y="62.50" font-size="6.4" text-anchor="middle" font-weight="normal" fill="#222" stroke="#222" stroke-width="0.1">970</text>
<line x1="501.20" y1="55.10" x2="501.20" y2="56.60" stroke="#777" stroke-width="0.81"/>
<text x="501.20" y="62.50" font-size="6.4" text-anchor="middle" font-weight="normal" fill="#222" stroke="#222" stroke-width="0.1">980</text>
<line x1="428.12" y1="55.10" x2="428.12" y2="56.10" stroke="#777" stroke-width="0.7200000000000001"/>
<line x1="457.35" y1="55.10" x2="457.35" y2="56.10" stroke="#777" stroke-width="0.7200000000000001"/>
<line x1="486.58" y1="55.10" x2="486.58" y2="56.10" stroke="#777" stroke-width="0.7200000000000001"/>
<text transform="translate(400.40 29.50) rotate(-90)" font-size="7.0" text-anchor="middle" font-weight="normal" fill="#222" stroke="#222" stroke-width="0.1">mAP50</text>
<text x="458.00" y="68.80" font-size="7.4" text-anchor="middle" font-weight="normal" fill="#222" stroke="#222" stroke-width="0.1">epoch</text>
<rect x="250.60" y="266.60" width="11.90" height="4.60" fill="#e0e0e0"/>
<polyline points="31.60,453.80 32.75,444.54 33.91,417.17 35.06,379.68 36.22,342.69 37.37,305.56 38.52,368.08 39.68,301.85 40.83,293.48 41.99,281.47 43.14,282.07 44.29,277.76 45.45,336.07 46.60,283.32 47.76,282.15 48.91,275.91 50.06,275.97 51.22,273.13 52.37,273.93 53.53,272.58 54.68,274.83 55.83,274.99 56.99,273.41 58.14,271.28 59.30,271.32 60.45,270.54 61.60,270.17 62.76,269.80 63.91,269.79 65.07,269.79 66.22,269.79 67.37,269.79 68.53,269.79 69.68,269.78 70.84,269.78 71.99,269.78 73.14,269.78 74.30,269.78 75.45,269.77 76.61,269.77 77.76,269.77 78.91,269.77 80.07,269.76 81.22,269.76 82.38,269.76 83.53,269.76 84.68,269.76 85.84,269.75 86.99,269.75 88.15,269.75 89.30,269.75 90.45,269.75 91.61,269.74 92.76,269.74 93.92,269.74 95.07,269.74 96.22,269.73 97.38,269.73 98.53,269.73 99.69,269.73 100.84,269.73 101.99,269.72 103.15,269.72 104.30,269.72 105.46,269.72 106.61,269.72 107.76,269.71 108.92,269.71 110.07,269.71 111.23,269.71 112.38,269.70 113.53,269.70 114.69,269.70 115.84,269.70 117.00,269.70 118.15,269.69 119.30,269.69 120.46,269.69 121.61,269.69 122.77,269.69 123.92,269.68 125.07,269.68 126.23,269.68 127.38,269.68 128.54,269.67 129.69,269.67 130.84,269.67 132.00,269.67 133.15,269.67 134.31,269.66 135.46,269.66 136.61,269.66 137.77,269.66 138.92,269.66 140.08,269.65 141.23,269.65 142.38,269.65 143.54,269.65 144.69,269.65 145.85,269.64 147.00,269.64 148.15,269.64 149.31,269.64 150.46,269.63 151.62,269.63 152.77,269.63 153.92,269.63 155.08,269.63 156.23,269.62 157.39,269.62 158.54,269.62 159.69,269.62 160.85,269.62 162.00,269.61 163.16,269.61 164.31,269.61 165.46,269.61 166.62,269.60 167.77,269.60 168.93,269.60 170.08,269.60 171.23,269.60 172.39,269.59 173.54,269.59 174.70,269.59 175.85,269.59 177.00,269.59 178.16,269.58 179.31,269.58 180.47,269.58 181.62,269.58 182.77,269.57 183.93,269.57 185.08,269.57 186.24,269.57 187.39,269.57 188.54,269.56 189.70,269.56 190.85,269.56 192.01,269.56 193.16,269.56 194.31,269.55 195.47,269.55 196.62,269.55 197.78,269.55 198.93,269.54 200.08,269.54 201.24,269.54 202.39,269.54 203.55,269.54 204.70,269.53 205.85,269.53 207.01,269.53 208.16,269.53 209.32,269.53 210.47,269.52 211.62,269.52 212.78,269.52 213.93,269.52 215.09,269.51 216.24,269.51 217.39,269.51 218.55,269.51 219.70,269.51 220.86,269.50 222.01,269.50 223.16,269.50 224.32,269.50 225.47,269.50 226.63,269.49 227.78,269.49 228.93,269.49 230.09,269.49 231.24,269.48 232.40,269.48 233.55,269.48 234.70,269.48 235.86,269.48 237.01,269.47 238.17,269.47 239.32,269.47 240.47,269.47 241.63,269.47 242.78,269.46 243.94,269.46 245.09,269.46 246.24,269.46 247.40,269.45 248.55,269.45 249.71,269.45 250.86,269.45 252.01,269.45 253.17,269.44 254.32,269.44 255.48,269.44 256.63,269.44 257.78,269.44 258.94,269.43 260.09,269.43 261.25,269.43 262.40,269.43" fill="none" stroke="#F14040" stroke-width="1.0" stroke-linejoin="round" opacity="1"/>
<polyline points="31.60,453.80 32.75,438.98 33.91,398.74 35.06,361.15 36.22,324.33 37.37,296.30 38.52,394.90 39.68,301.85 40.83,295.98 41.99,283.32 43.14,283.69 44.29,278.38 45.45,279.98 46.60,274.99 47.76,274.64 48.91,273.13 50.06,273.60 51.22,272.02 52.37,272.70 53.53,270.91 54.68,270.38 55.83,270.12 56.99,270.75 58.14,269.66 59.30,269.84 60.45,269.43 61.60,269.43 62.76,269.43 63.91,269.43 65.07,269.43 66.22,269.43 67.37,269.43 68.53,269.43 69.68,269.43 70.84,269.43 71.99,269.43 73.14,269.43 74.30,269.43 75.45,269.43 76.61,269.43 77.76,269.43 78.91,269.43 80.07,269.43 81.22,269.43 82.38,269.43 83.53,269.43 84.68,269.43 85.84,269.43 86.99,269.43 88.15,269.43 89.30,269.43 90.45,269.43 91.61,269.43 92.76,269.43 93.92,269.43 95.07,269.43 96.22,269.43 97.38,269.43 98.53,269.43 99.69,269.43 100.84,269.43 101.99,269.43 103.15,269.43 104.30,269.43 105.46,269.43 106.61,269.43 107.76,269.43 108.92,269.43 110.07,269.43 111.23,269.43 112.38,269.43 113.53,269.43 114.69,269.43 115.84,269.43 117.00,269.43 118.15,269.43 119.30,269.43 120.46,269.43 121.61,269.43 122.77,269.43 123.92,269.43 125.07,269.43 126.23,269.43 127.38,269.43 128.54,269.43 129.69,269.43 130.84,269.43 132.00,269.43 133.15,269.43 134.31,269.43 135.46,269.43 136.61,269.43 137.77,269.43 138.92,269.43 140.08,269.43 141.23,269.43 142.38,269.43 143.54,269.43 144.69,269.43 145.85,269.43 147.00,269.43 148.15,269.43 149.31,269.43 150.46,269.43 151.62,269.43 152.77,269.43 153.92,269.43 155.08,269.43 156.23,269.43 157.39,269.43 158.54,269.43 159.69,269.43 160.85,269.43 162.00,269.43 163.16,269.43 164.31,269.43 165.46,269.43 166.62,269.43 167.77,269.43 168.93,269.43 170.08,269.43 171.23,269.43 172.39,269.43 173.54,269.43 174.70,269.43 175.85,269.43 177.00,269.43 178.16,269.43 179.31,269.43 180.47,269.43 181.62,269.43 182.77,269.43 183.93,269.43 185.08,269.43 186.24,269.43 187.39,269.43 188.54,269.43 189.70,269.43 190.85,269.43 192.01,269.43 193.16,269.43 194.31,269.43 195.47,269.43 196.62,269.43 197.78,269.43 198.93,269.43 200.08,269.43 201.24,269.43 202.39,269.43 203.55,269.43 204.70,269.43 205.85,269.43 207.01,269.43 208.16,269.43 209.32,269.43 210.47,269.43 211.62,269.43 212.78,269.43 213.93,269.43 215.09,269.43 216.24,269.43 217.39,269.43 218.55,269.43 219.70,269.43 220.86,269.43 222.01,269.43 223.16,269.43 224.32,269.43 225.47,269.43 226.63,269.43 227.78,269.43 228.93,269.43 230.09,269.43 231.24,269.43 232.40,269.43 233.55,269.43 234.70,269.43 235.86,269.43 237.01,269.43 238.17,269.43 239.32,269.43 240.47,269.43 241.63,269.43 242.78,269.43 243.94,269.43 245.09,269.43 246.24,269.43 247.40,269.43 248.55,269.43 249.71,269.43 250.86,269.43 252.01,269.43 253.17,269.43 254.32,269.43 255.48,269.43 256.63,269.43 257.78,269.43 258.94,269.43 260.09,269.43 261.25,269.43 262.40,269.43" fill="none" stroke="#515151" stroke-width="1.0" stroke-linejoin="round" opacity="1"/>
<polyline points="31.60,453.80 32.75,431.56 33.91,389.21 35.06,342.62 36.22,310.25 37.37,298.15 38.52,289.31 39.68,282.40 40.83,278.33 41.99,276.61 43.14,279.35 44.29,274.29 45.45,273.93 46.60,272.67 47.76,273.34 48.91,271.74 50.06,273.94 51.22,270.82 52.37,272.30 53.53,270.20 54.68,272.24 55.83,269.89 56.99,270.25 58.14,269.58 59.30,270.24 60.45,269.43 61.60,269.43 62.76,269.43 63.91,269.43 65.07,269.43 66.22,269.43 67.37,269.43 68.53,269.43 69.68,269.43 70.84,269.43 71.99,269.43 73.14,269.43 74.30,269.43 75.45,269.43 76.61,269.43 77.76,269.43 78.91,269.43 80.07,269.43 81.22,269.43 82.38,269.43 83.53,269.43 84.68,269.43 85.84,269.43 86.99,269.43 88.15,269.43 89.30,269.43 90.45,269.43 91.61,269.43 92.76,269.43 93.92,269.43 95.07,269.43 96.22,269.43 97.38,269.43 98.53,269.43 99.69,269.43 100.84,269.43 101.99,269.43 103.15,269.43 104.30,269.43 105.46,269.43 106.61,269.43 107.76,269.43 108.92,269.43 110.07,269.43 111.23,269.43 112.38,269.43 113.53,269.43 114.69,269.43 115.84,269.43 117.00,269.43 118.15,269.43 119.30,269.43 120.46,269.43 121.61,269.43 122.77,269.43 123.92,269.43 125.07,269.43 126.23,269.43 127.38,269.43 128.54,269.43 129.69,269.43 130.84,269.43 132.00,269.43 133.15,269.43 134.31,269.43 135.46,269.43 136.61,269.43 137.77,269.43 138.92,269.43 140.08,269.43 141.23,269.43 142.38,269.43 143.54,269.43 144.69,269.43 145.85,269.43 147.00,269.43 148.15,269.43 149.31,269.43 150.46,269.43 151.62,269.43 152.77,269.43 153.92,269.43 155.08,269.43 156.23,269.43 157.39,269.43 158.54,269.43 159.69,269.43 160.85,269.43 162.00,269.43 163.16,269.43 164.31,269.43 165.46,269.43 166.62,269.43 167.77,269.43 168.93,269.43 170.08,269.43 171.23,269.43 172.39,269.43 173.54,269.43 174.70,269.43 175.85,269.43 177.00,269.43 178.16,269.43 179.31,269.43 180.47,269.43 181.62,269.43 182.77,269.43 183.93,269.43 185.08,269.43 186.24,269.43 187.39,269.43 188.54,269.43 189.70,269.43 190.85,269.43 192.01,269.43 193.16,269.43 194.31,269.43 195.47,269.43 196.62,269.43 197.78,269.43 198.93,269.43 200.08,269.43 201.24,269.43 202.39,269.43 203.55,269.43 204.70,269.43 205.85,269.43 207.01,269.43 208.16,269.43 209.32,269.43 210.47,269.43 211.62,269.43 212.78,269.43 213.93,269.43 215.09,269.43 216.24,269.43 217.39,269.43 218.55,269.43 219.70,269.43 220.86,269.43 222.01,269.43 223.16,269.43 224.32,269.43 225.47,269.43 226.63,269.43 227.78,269.43 228.93,269.43 230.09,269.43 231.24,269.43 232.40,269.43 233.55,269.43 234.70,269.43 235.86,269.43 237.01,269.43 238.17,269.43 239.32,269.43 240.47,269.43 241.63,269.43 242.78,269.43 243.94,269.43 245.09,269.43 246.24,269.43 247.40,269.43 248.55,269.43 249.71,269.43 250.86,269.43 252.01,269.43 253.17,269.43 254.32,269.43 255.48,269.43 256.63,269.43 257.78,269.43 258.94,269.43 260.09,269.43 261.25,269.43 262.40,269.43" fill="none" stroke="#7D4E4E" stroke-width="1.0" stroke-linejoin="round" opacity="1"/>
<polyline points="31.60,453.80 32.75,420.45 33.91,416.85 35.06,370.42 36.22,333.96 37.37,315.75 38.52,300.19 39.68,290.74 40.83,288.59 41.99,279.62 43.14,277.51 44.29,274.68 45.45,276.26 46.60,272.21 47.76,275.52 48.91,271.41 50.06,271.04 51.22,270.62 52.37,272.97 53.53,269.82 54.68,270.23 55.83,269.43 56.99,269.57 58.14,269.43 59.30,270.28 60.45,269.43 61.60,269.43 62.76,269.43 63.91,269.43 65.07,269.43 66.22,269.43 67.37,269.43 68.53,269.43 69.68,269.43 70.84,269.43 71.99,269.43 73.14,269.43 74.30,269.43 75.45,269.43 76.61,269.43 77.76,269.43 78.91,269.43 80.07,269.43 81.22,269.43 82.38,269.43 83.53,269.43 84.68,269.43 85.84,269.43 86.99,269.43 88.15,269.43 89.30,269.43 90.45,269.43 91.61,269.43 92.76,269.43 93.92,269.43 95.07,269.43 96.22,269.43 97.38,269.43 98.53,269.43 99.69,269.43 100.84,269.43 101.99,269.43 103.15,269.43 104.30,269.43 105.46,269.43 106.61,269.43 107.76,269.43 108.92,269.43 110.07,269.43 111.23,269.43 112.38,269.43 113.53,269.43 114.69,269.43 115.84,269.43 117.00,269.43 118.15,269.43 119.30,269.43 120.46,269.43 121.61,269.43 122.77,269.43 123.92,269.43 125.07,269.43 126.23,269.43 127.38,269.43 128.54,269.43 129.69,269.43 130.84,269.43 132.00,269.43 133.15,269.43 134.31,269.43 135.46,269.43 136.61,269.43 137.77,269.43 138.92,269.43 140.08,269.43 141.23,269.43 142.38,269.43 143.54,269.43 144.69,269.43 145.85,269.43 147.00,269.43 148.15,269.43 149.31,269.43 150.46,269.43 151.62,269.43 152.77,269.43 153.92,269.43 155.08,269.43 156.23,269.43 157.39,269.43 158.54,269.43 159.69,269.43 160.85,269.43 162.00,269.43 163.16,269.43 164.31,269.43 165.46,269.43 166.62,269.43 167.77,269.43 168.93,269.43 170.08,269.43 171.23,269.43 172.39,269.43 173.54,269.43 174.70,269.43 175.85,269.43 177.00,269.43 178.16,269.43 179.31,269.43 180.47,269.43 181.62,269.43 182.77,269.43 183.93,269.43 185.08,269.43 186.24,269.43 187.39,269.43 188.54,269.43 189.70,269.43 190.85,269.43 192.01,269.43 193.16,269.43 194.31,269.43 195.47,269.43 196.62,269.43 197.78,269.43 198.93,269.43 200.08,269.43 201.24,269.43 202.39,269.43 203.55,269.43 204.70,269.43 205.85,269.43 207.01,269.43 208.16,269.43 209.32,269.43 210.47,269.43 211.62,269.43 212.78,269.43 213.93,269.43 215.09,269.43 216.24,269.43 217.39,269.43 218.55,269.43 219.70,269.43 220.86,269.43 222.01,269.43 223.16,269.43 224.32,269.43 225.47,269.43 226.63,269.43 227.78,269.43 228.93,269.43 230.09,269.43 231.24,269.43 232.40,269.43 233.55,269.43 234.70,269.43 235.86,269.43 237.01,269.43 238.17,269.43 239.32,269.43 240.47,269.43 241.63,269.43 242.78,269.43 243.94,269.43 245.09,269.43 246.24,269.43 247.40,269.43 248.55,269.43 249.71,269.43 250.86,269.43 252.01,269.43 253.17,269.43 254.32,269.43 255.48,269.43 256.63,269.43 257.78,269.43 258.94,269.43 260.09,269.43 261.25,269.43 262.40,269.43" fill="none" stroke="#00CBCC" stroke-width="1.0" stroke-linejoin="round" opacity="1"/>
<polyline points="31.60,453.80 32.75,435.27 33.91,417.03 35.06,379.68 36.22,342.66 37.37,322.24 38.52,303.06 39.68,292.59 40.83,283.92 41.99,280.54 43.14,281.54 44.29,276.22 45.45,275.58 46.60,273.13 47.76,272.88 48.91,272.18 50.06,272.11 51.22,271.23 52.37,273.00 53.53,270.27 54.68,271.16 55.83,269.70 56.99,271.06 58.14,269.52 59.30,269.48 60.45,269.43 61.60,269.43 62.76,269.43 63.91,269.43 65.07,269.43 66.22,269.43 67.37,269.43 68.53,269.43 69.68,269.43 70.84,269.43 71.99,269.43 73.14,269.43 74.30,269.43 75.45,269.43 76.61,269.43 77.76,269.43 78.91,269.43 80.07,269.43 81.22,269.43 82.38,269.43 83.53,269.43 84.68,269.43 85.84,269.43 86.99,269.43 88.15,269.43 89.30,269.43 90.45,269.43 91.61,269.43 92.76,269.43 93.92,269.43 95.07,269.43 96.22,269.43 97.38,269.43 98.53,269.43 99.69,269.43 100.84,269.43 101.99,269.43 103.15,269.43 104.30,269.43 105.46,269.43 106.61,269.43 107.76,269.43 108.92,269.43 110.07,269.43 111.23,269.43 112.38,269.43 113.53,269.43 114.69,269.43 115.84,269.43 117.00,269.43 118.15,269.43 119.30,269.43 120.46,269.43 121.61,269.43 122.77,269.43 123.92,269.43 125.07,269.43 126.23,269.43 127.38,269.43 128.54,269.43 129.69,269.43 130.84,269.43 132.00,269.43 133.15,269.43 134.31,269.43 135.46,269.43 136.61,269.43 137.77,269.43 138.92,269.43 140.08,269.43 141.23,269.43 142.38,269.43 143.54,269.43 144.69,269.43 145.85,269.43 147.00,269.43 148.15,269.43 149.31,269.43 150.46,269.43 151.62,269.43 152.77,269.43 153.92,269.43 155.08,269.43 156.23,269.43 157.39,269.43 158.54,269.43 159.69,269.43 160.85,269.43 162.00,269.43 163.16,269.43 164.31,269.43 165.46,269.43 166.62,269.43 167.77,269.43 168.93,269.43 170.08,269.43 171.23,269.43 172.39,269.43 173.54,269.43 174.70,269.43 175.85,269.43 177.00,269.43 178.16,269.43 179.31,269.43 180.47,269.43 181.62,269.43 182.77,269.43 183.93,269.43 185.08,269.43 186.24,269.43 187.39,269.43 188.54,269.43 189.70,269.43 190.85,269.43 192.01,269.43 193.16,269.43 194.31,269.43 195.47,269.43 196.62,269.43 197.78,269.43 198.93,269.43 200.08,269.43 201.24,269.43 202.39,269.43 203.55,269.43 204.70,269.43 205.85,269.43 207.01,269.43 208.16,269.43 209.32,269.43 210.47,269.43 211.62,269.43 212.78,269.43 213.93,269.43 215.09,269.43 216.24,269.43 217.39,269.43 218.55,269.43 219.70,269.43 220.86,269.43 222.01,269.43 223.16,269.43 224.32,269.43 225.47,269.43 226.63,269.43 227.78,269.43 228.93,269.43 230.09,269.43 231.24,269.43 232.40,269.43 233.55,269.43 234.70,269.43 235.86,269.43 237.01,269.43 238.17,269.43 239.32,269.43 240.47,269.43 241.63,269.43 242.78,269.43 243.94,269.43 245.09,269.43 246.24,269.43 247.40,269.43 248.55,269.43 249.71,269.43 250.86,269.43 252.01,269.43 253.17,269.43 254.32,269.43 255.48,269.43 256.63,269.43 257.78,269.43 258.94,269.43 260.09,269.43 261.25,269.43 262.40,269.43" fill="none" stroke="#1A6FDF" stroke-width="1.0" stroke-linejoin="round" opacity="1"/>
<polyline points="31.60,453.80 32.75,426.00 33.91,380.10 35.06,342.62 36.22,309.61 37.37,298.15 38.52,289.14 39.68,281.93 40.83,281.33 41.99,275.29 43.14,277.99 44.29,272.21 45.45,272.37 46.60,271.41 47.76,274.59 48.91,270.62 50.06,272.47 51.22,269.82 52.37,269.85 53.53,269.43 54.68,269.92 55.83,269.43 56.99,270.49 58.14,269.43 59.30,269.71 60.45,269.43 61.60,269.43 62.76,269.43 63.91,269.43 65.07,269.43 66.22,269.43 67.37,269.43 68.53,269.43 69.68,269.43 70.84,269.43 71.99,269.43 73.14,269.43 74.30,269.43 75.45,269.43 76.61,269.43 77.76,269.43 78.91,269.43 80.07,269.43 81.22,269.43 82.38,269.43 83.53,269.43 84.68,269.43 85.84,269.43 86.99,269.43 88.15,269.43 89.30,269.43 90.45,269.43 91.61,269.43 92.76,269.43 93.92,269.43 95.07,269.43 96.22,269.43 97.38,269.43 98.53,269.43 99.69,269.43 100.84,269.43 101.99,269.43 103.15,269.43 104.30,269.43 105.46,269.43 106.61,269.43 107.76,269.43 108.92,269.43 110.07,269.43 111.23,269.43 112.38,269.43 113.53,269.43 114.69,269.43 115.84,269.43 117.00,269.43 118.15,269.43 119.30,269.43 120.46,269.43 121.61,269.43 122.77,269.43 123.92,269.43 125.07,269.43 126.23,269.43 127.38,269.43 128.54,269.43 129.69,269.43 130.84,269.43 132.00,269.43 133.15,269.43 134.31,269.43 135.46,269.43 136.61,269.43 137.77,269.43 138.92,269.43 140.08,269.43 141.23,269.43 142.38,269.43 143.54,269.43 144.69,269.43 145.85,269.43 147.00,269.43 148.15,269.43 149.31,269.43 150.46,269.43 151.62,269.43 152.77,269.43 153.92,269.43 155.08,269.43 156.23,269.43 157.39,269.43 158.54,269.43 159.69,269.43 160.85,269.43 162.00,269.43 163.16,269.43 164.31,269.43 165.46,269.43 166.62,269.43 167.77,269.43 168.93,269.43 170.08,269.43 171.23,269.43 172.39,269.43 173.54,269.43 174.70,269.43 175.85,269.43 177.00,269.43 178.16,269.43 179.31,269.43 180.47,269.43 181.62,269.43 182.77,269.43 183.93,269.43 185.08,269.43 186.24,269.43 187.39,269.43 188.54,269.43 189.70,269.43 190.85,269.43 192.01,269.43 193.16,269.43 194.31,269.43 195.47,269.43 196.62,269.43 197.78,269.43 198.93,269.43 200.08,269.43 201.24,269.43 202.39,269.43 203.55,269.43 204.70,269.43 205.85,269.43 207.01,269.43 208.16,269.43 209.32,269.43 210.47,269.43 211.62,269.43 212.78,269.43 213.93,269.43 215.09,269.43 216.24,269.43 217.39,269.43 218.55,269.43 219.70,269.43 220.86,269.43 222.01,269.43 223.16,269.43 224.32,269.43 225.47,269.43 226.63,269.43 227.78,269.43 228.93,269.43 230.09,269.43 231.24,269.43 232.40,269.43 233.55,269.43 234.70,269.43 235.86,269.43 237.01,269.43 238.17,269.43 239.32,269.43 240.47,269.43 241.63,269.43 242.78,269.43 243.94,269.43 245.09,269.43 246.24,269.43 247.40,269.43 248.55,269.43 249.71,269.43 250.86,269.43 252.01,269.43 253.17,269.43 254.32,269.43 255.48,269.43 256.63,269.43 257.78,269.43 258.94,269.43 260.09,269.43 261.25,269.43 262.40,269.43" fill="none" stroke="#B177DE" stroke-width="1.0" stroke-linejoin="round" opacity="1"/>
<polyline points="31.60,453.80 32.75,416.74 33.91,370.99 35.06,333.36 36.22,306.19 37.37,290.74 38.52,286.43 39.68,279.62 40.83,280.32 41.99,275.91 43.14,279.46 44.29,273.13 45.45,274.97 46.60,272.02 47.76,272.58 48.91,270.91 50.06,273.70 51.22,270.20 52.37,271.91 53.53,269.89 54.68,271.98 55.83,269.58 56.99,269.76 58.14,269.43 59.30,269.90 60.45,269.43 61.60,269.43 62.76,269.43 63.91,269.43 65.07,269.43 66.22,269.43 67.37,269.43 68.53,269.43 69.68,269.43 70.84,269.43 71.99,269.43 73.14,269.43 74.30,269.43 75.45,269.43 76.61,269.43 77.76,269.43 78.91,269.43 80.07,269.43 81.22,269.43 82.38,269.43 83.53,269.43 84.68,269.43 85.84,269.43 86.99,269.43 88.15,269.43 89.30,269.43 90.45,269.43 91.61,269.43 92.76,269.43 93.92,269.43 95.07,269.43 96.22,269.43 97.38,269.43 98.53,269.43 99.69,269.43 100.84,269.43 101.99,269.43 103.15,269.43 104.30,269.43 105.46,269.43 106.61,269.43 107.76,269.43 108.92,269.43 110.07,269.43 111.23,269.43 112.38,269.43 113.53,269.43 114.69,269.43 115.84,269.43 117.00,269.43 118.15,269.43 119.30,269.43 120.46,269.43 121.61,269.43 122.77,269.43 123.92,269.43 125.07,269.43 126.23,269.43 127.38,269.43 128.54,269.43 129.69,269.43 130.84,269.43 132.00,269.43 133.15,269.43 134.31,269.43 135.46,269.43 136.61,269.43 137.77,269.43 138.92,269.43 140.08,269.43 141.23,269.43 142.38,269.43 143.54,269.43 144.69,269.43 145.85,269.43 147.00,269.43 148.15,269.43 149.31,269.43 150.46,269.43 151.62,269.43 152.77,269.43 153.92,269.43 155.08,269.43 156.23,269.43 157.39,269.43 158.54,269.43 159.69,269.43 160.85,269.43 162.00,269.43 163.16,269.43 164.31,269.43 165.46,269.43 166.62,269.43 167.77,269.43 168.93,269.43 170.08,269.43 171.23,269.43 172.39,269.43 173.54,269.43 174.70,269.43 175.85,269.43 177.00,269.43 178.16,269.43 179.31,269.43 180.47,269.43 181.62,269.43 182.77,269.43 183.93,269.43 185.08,269.43 186.24,269.43 187.39,269.43 188.54,269.43 189.70,269.43 190.85,269.43 192.01,269.43 193.16,269.43 194.31,269.43 195.47,269.43 196.62,269.43 197.78,269.43 198.93,269.43 200.08,269.43 201.24,269.43 202.39,269.43 203.55,269.43 204.70,269.43 205.85,269.43 207.01,269.43 208.16,269.43 209.32,269.43 210.47,269.43 211.62,269.43 212.78,269.43 213.93,269.43 215.09,269.43 216.24,269.43 217.39,269.43 218.55,269.43 219.70,269.43 220.86,269.43 222.01,269.43 223.16,269.43 224.32,269.43 225.47,269.43 226.63,269.43 227.78,269.43 228.93,269.43 230.09,269.43 231.24,269.43 232.40,269.43 233.55,269.43 234.70,269.43 235.86,269.43 237.01,269.43 238.17,269.43 239.32,269.43 240.47,269.43 241.63,269.43 242.78,269.43 243.94,269.43 245.09,269.43 246.24,269.43 247.40,269.43 248.55,269.43 249.71,269.43 250.86,269.43 252.01,269.43 253.17,269.43 254.32,269.43 255.48,269.43 256.63,269.43 257.78,269.43 258.94,269.43 260.09,269.43 261.25,269.43 262.40,269.43" fill="none" stroke="#37AD6B" stroke-width="1.0" stroke-linejoin="round" opacity="1"/>
<polyline points="31.60,453.80 32.75,398.21 33.91,352.58 35.06,314.82 36.22,292.69 37.37,281.47 38.52,281.08 39.68,274.99 40.83,277.51 41.99,272.51 43.14,273.79 44.29,271.05 45.45,272.33 46.60,270.58 47.76,273.83 48.91,270.12 50.06,271.70 51.22,269.66 52.37,269.97 53.53,269.43 54.68,271.13 55.83,269.43 56.99,269.65 58.14,269.43 59.30,269.81 60.45,269.43 61.60,269.43 62.76,269.43 63.91,269.43 65.07,269.43 66.22,269.43 67.37,269.43 68.53,269.43 69.68,269.43 70.84,269.43 71.99,269.43 73.14,269.43 74.30,269.43 75.45,269.43 76.61,269.43 77.76,269.43 78.91,269.43 80.07,269.43 81.22,269.43 82.38,269.43 83.53,269.43 84.68,269.43 85.84,269.43 86.99,269.43 88.15,269.43 89.30,269.43 90.45,269.43 91.61,269.43 92.76,269.43 93.92,269.43 95.07,269.43 96.22,269.43 97.38,269.43 98.53,269.43 99.69,269.43 100.84,269.43 101.99,269.43 103.15,269.43 104.30,269.43 105.46,269.43 106.61,269.43 107.76,269.43 108.92,269.43 110.07,269.43 111.23,269.43 112.38,269.43 113.53,269.43 114.69,269.43 115.84,269.43 117.00,269.43 118.15,269.43 119.30,269.43 120.46,269.43 121.61,269.43 122.77,269.43 123.92,269.43 125.07,269.43 126.23,269.43 127.38,269.43 128.54,269.43 129.69,269.43 130.84,269.43 132.00,269.43 133.15,269.43 134.31,269.43 135.46,269.43 136.61,269.43 137.77,269.43 138.92,269.43 140.08,269.43 141.23,269.43 142.38,269.43 143.54,269.43 144.69,269.43 145.85,269.43 147.00,269.43 148.15,269.43 149.31,269.43 150.46,269.43 151.62,269.43 152.77,269.43 153.92,269.43 155.08,269.43 156.23,269.43 157.39,269.43 158.54,269.43 159.69,269.43 160.85,269.43 162.00,269.43 163.16,269.43 164.31,269.43 165.46,269.43 166.62,269.43 167.77,269.43 168.93,269.43 170.08,269.43 171.23,269.43 172.39,269.43 173.54,269.43 174.70,269.43 175.85,269.43 177.00,269.43 178.16,269.43 179.31,269.43 180.47,269.43 181.62,269.43 182.77,269.43 183.93,269.43 185.08,269.43 186.24,269.43 187.39,269.43 188.54,269.43 189.70,269.43 190.85,269.43 192.01,269.43 193.16,269.43 194.31,269.43 195.47,269.43 196.62,269.43 197.78,269.43 198.93,269.43 200.08,269.43 201.24,269.43 202.39,269.43 203.55,269.43 204.70,269.43 205.85,269.43 207.01,269.43 208.16,269.43 209.32,269.43 210.47,269.43 211.62,269.43 212.78,269.43 213.93,269.43 215.09,269.43 216.24,269.43 217.39,269.43 218.55,269.43 219.70,269.43 220.86,269.43 222.01,269.43 223.16,269.43 224.32,269.43 225.47,269.43 226.63,269.43 227.78,269.43 228.93,269.43 230.09,269.43 231.24,269.43 232.40,269.43 233.55,269.43 234.70,269.43 235.86,269.43 237.01,269.43 238.17,269.43 239.32,269.43 240.47,269.43 241.63,269.43 242.78,269.43 243.94,269.43 245.09,269.43 246.24,269.43 247.40,269.43 248.55,269.43 249.71,269.43 250.86,269.43 252.01,269.43 253.17,269.43 254.32,269.43 255.48,269.43 256.63,269.43 257.78,269.43 258.94,269.43 260.09,269.43 261.25,269.43 262.40,269.43" fill="none" stroke="#CC9900" stroke-width="1.0" stroke-linejoin="round" opacity="1"/>
<polyline points="31.60,453.80 32.75,407.48 33.91,361.82 35.06,320.38 36.22,297.49 37.37,283.32 38.52,278.89 39.68,275.45 40.83,273.76 41.99,272.44 43.14,275.34 44.29,271.05 45.45,274.52 46.60,270.24 47.76,271.03 48.91,270.01 50.06,273.18 51.22,269.77 52.37,270.80 53.53,269.54 54.68,269.99 55.83,269.43 56.99,271.24 58.14,269.43 59.30,270.22 60.45,269.43 61.60,269.43 62.76,269.43 63.91,269.43 65.07,269.43 66.22,269.43 67.37,269.43 68.53,269.43 69.68,269.43 70.84,269.43 71.99,269.43 73.14,269.43 74.30,269.43 75.45,269.43 76.61,269.43 77.76,269.43 78.91,269.43 80.07,269.43 81.22,269.43 82.38,269.43 83.53,269.43 84.68,269.43 85.84,269.43 86.99,269.43 88.15,269.43 89.30,269.43 90.45,269.43 91.61,269.43 92.76,269.43 93.92,269.43 95.07,269.43 96.22,269.43 97.38,269.43 98.53,269.43 99.69,269.43 100.84,269.43 101.99,269.43 103.15,269.43 104.30,269.43 105.46,269.43 106.61,269.43 107.76,269.43 108.92,269.43 110.07,269.43 111.23,269.43 112.38,269.43 113.53,269.43 114.69,269.43 115.84,269.43 117.00,269.43 118.15,269.43 119.30,269.43 120.46,269.43 121.61,269.43 122.77,269.43 123.92,269.43 125.07,269.43 126.23,269.43 127.38,269.43 128.54,269.43 129.69,269.43 130.84,269.43 132.00,269.43 133.15,269.43 134.31,269.43 135.46,269.43 136.61,269.43 137.77,269.43 138.92,269.43 140.08,269.43 141.23,269.43 142.38,269.43 143.54,269.43 144.69,269.43 145.85,269.43 147.00,269.43 148.15,269.43 149.31,269.43 150.46,269.43 151.62,269.43 152.77,269.43 153.92,269.43 155.08,269.43 156.23,269.43 157.39,269.43 158.54,269.43 159.69,269.43 160.85,269.43 162.00,269.43 163.16,269.43 164.31,269.43 165.46,269.43 166.62,269.43 167.77,269.43 168.93,269.43 170.08,269.43 171.23,269.43 172.39,269.43 173.54,269.43 174.70,269.43 175.85,269.43 177.00,269.43 178.16,269.43 179.31,269.43 180.47,269.43 181.62,269.43 182.77,269.43 183.93,269.43 185.08,269.43 186.24,269.43 187.39,269.43 188.54,269.43 189.70,269.43 190.85,269.43 192.01,269.43 193.16,269.43 194.31,269.43 195.47,269.43 196.62,269.43 197.78,269.43 198.93,269.43 200.08,269.43 201.24,269.43 202.39,269.43 203.55,269.43 204.70,269.43 205.85,269.43 207.01,269.43 208.16,269.43 209.32,269.43 210.47,269.43 211.62,269.43 212.78,269.43 213.93,269.43 215.09,269.43 216.24,269.43 217.39,269.43 218.55,269.43 219.70,269.43 220.86,269.43 222.01,269.43 223.16,269.43 224.32,269.43 225.47,269.43 226.63,269.43 227.78,269.43 228.93,269.43 230.09,269.43 231.24,269.43 232.40,269.43 233.55,269.43 234.70,269.43 235.86,269.43 237.01,269.43 238.17,269.43 239.32,269.43 240.47,269.43 241.63,269.43 242.78,269.43 243.94,269.43 245.09,269.43 246.24,269.43 247.40,269.43 248.55,269.43 249.71,269.43 250.86,269.43 252.01,269.43 253.17,269.43 254.32,269.43 255.48,269.43 256.63,269.43 257.78,269.43 258.94,269.43 260.09,269.43 261.25,269.43 262.40,269.43" fill="none" stroke="#8E8E00" stroke-width="1.0" stroke-linejoin="round" opacity="1"/>
<polyline points="31.60,453.80 32.75,438.98 33.91,398.74 35.06,361.15 36.22,324.33 37.37,296.30 38.52,394.90 39.68,301.85 40.83,295.98 41.99,283.32 43.14,283.69 44.29,278.38 45.45,279.98 46.60,274.99 47.76,274.64 48.91,273.13 50.06,273.60 51.22,272.02 52.37,272.70 53.53,270.91 54.68,270.38 55.83,270.12 56.99,270.75 58.14,269.66 59.30,269.84 60.45,269.43" fill="none" stroke="#515151" stroke-width="1.0" stroke-linejoin="round" opacity="1"/>
<polyline points="31.60,453.80 32.75,444.54 33.91,417.17 35.06,379.68 36.22,342.69 37.37,305.56 38.52,368.08 39.68,301.85 40.83,293.48 41.99,281.47 43.14,282.07 44.29,277.76 45.45,336.07 46.60,283.32 47.76,282.15 48.91,275.91 50.06,275.97 51.22,273.13 52.37,273.93 53.53,272.58 54.68,274.83 55.83,274.99 56.99,273.41 58.14,271.28 59.30,271.32 60.45,270.54" fill="none" stroke="#F14040" stroke-width="1.0" stroke-linejoin="round" opacity="1"/>
<line x1="31.60" y1="268.50" x2="31.60" y2="454.30" stroke="#222" stroke-width="1.0"/>
<line x1="31.10" y1="453.80" x2="262.40" y2="453.80" stroke="#222" stroke-width="1.0"/>
<line x1="28.40" y1="453.80" x2="31.60" y2="453.80" stroke="#222" stroke-width="0.9"/>
<text transform="translate(25.80 456.66) scale(1 1.08)" font-size="7.8" text-anchor="end" font-weight="normal" fill="#1a1a1a" stroke="#1a1a1a" stroke-width="0.1">0.0</text>
<line x1="28.40" y1="416.74" x2="31.60" y2="416.74" stroke="#222" stroke-width="0.9"/>
<text transform="translate(25.80 419.60) scale(1 1.08)" font-size="7.8" text-anchor="end" font-weight="normal" fill="#1a1a1a" stroke="#1a1a1a" stroke-width="0.1">0.2</text>
<line x1="28.40" y1="379.68" x2="31.60" y2="379.68" stroke="#222" stroke-width="0.9"/>
<text transform="translate(25.80 382.54) scale(1 1.08)" font-size="7.8" text-anchor="end" font-weight="normal" fill="#1a1a1a" stroke="#1a1a1a" stroke-width="0.1">0.4</text>
<line x1="28.40" y1="342.62" x2="31.60" y2="342.62" stroke="#222" stroke-width="0.9"/>
<text transform="translate(25.80 345.48) scale(1 1.08)" font-size="7.8" text-anchor="end" font-weight="normal" fill="#1a1a1a" stroke="#1a1a1a" stroke-width="0.1">0.6</text>
<line x1="28.40" y1="305.56" x2="31.60" y2="305.56" stroke="#222" stroke-width="0.9"/>
<text transform="translate(25.80 308.42) scale(1 1.08)" font-size="7.8" text-anchor="end" font-weight="normal" fill="#1a1a1a" stroke="#1a1a1a" stroke-width="0.1">0.8</text>
<line x1="28.40" y1="268.50" x2="31.60" y2="268.50" stroke="#222" stroke-width="0.9"/>
<text transform="translate(25.80 271.36) scale(1 1.08)" font-size="7.8" text-anchor="end" font-weight="normal" fill="#1a1a1a" stroke="#1a1a1a" stroke-width="0.1">1.0</text>
<line x1="29.80" y1="435.27" x2="31.60" y2="435.27" stroke="#222" stroke-width="0.8"/>
<line x1="29.80" y1="398.21" x2="31.60" y2="398.21" stroke="#222" stroke-width="0.8"/>
<line x1="29.80" y1="361.15" x2="31.60" y2="361.15" stroke="#222" stroke-width="0.8"/>
<line x1="29.80" y1="324.09" x2="31.60" y2="324.09" stroke="#222" stroke-width="0.8"/>
<line x1="29.80" y1="287.03" x2="31.60" y2="287.03" stroke="#222" stroke-width="0.8"/>
<line x1="31.60" y1="453.80" x2="31.60" y2="457.00" stroke="#222" stroke-width="0.9"/>
<text transform="translate(31.60 466.00) scale(1 1.08)" font-size="7.5" text-anchor="middle" font-weight="normal" fill="#1a1a1a" stroke="#1a1a1a" stroke-width="0.1">0</text>
<line x1="60.45" y1="453.80" x2="60.45" y2="457.00" stroke="#222" stroke-width="0.9"/>
<text transform="translate(60.45 466.00) scale(1 1.08)" font-size="7.5" text-anchor="middle" font-weight="normal" fill="#1a1a1a" stroke="#1a1a1a" stroke-width="0.1">25</text>
<line x1="89.30" y1="453.80" x2="89.30" y2="457.00" stroke="#222" stroke-width="0.9"/>
<text transform="translate(89.30 466.00) scale(1 1.08)" font-size="7.5" text-anchor="middle" font-weight="normal" fill="#1a1a1a" stroke="#1a1a1a" stroke-width="0.1">50</text>
<line x1="118.15" y1="453.80" x2="118.15" y2="457.00" stroke="#222" stroke-width="0.9"/>
<text transform="translate(118.15 466.00) scale(1 1.08)" font-size="7.5" text-anchor="middle" font-weight="normal" fill="#1a1a1a" stroke="#1a1a1a" stroke-width="0.1">75</text>
<line x1="147.00" y1="453.80" x2="147.00" y2="457.00" stroke="#222" stroke-width="0.9"/>
<text transform="translate(147.00 466.00) scale(1 1.08)" font-size="7.5" text-anchor="middle" font-weight="normal" fill="#1a1a1a" stroke="#1a1a1a" stroke-width="0.1">100</text>
<line x1="175.85" y1="453.80" x2="175.85" y2="457.00" stroke="#222" stroke-width="0.9"/>
<text transform="translate(175.85 466.00) scale(1 1.08)" font-size="7.5" text-anchor="middle" font-weight="normal" fill="#1a1a1a" stroke="#1a1a1a" stroke-width="0.1">125</text>
<line x1="204.70" y1="453.80" x2="204.70" y2="457.00" stroke="#222" stroke-width="0.9"/>
<text transform="translate(204.70 466.00) scale(1 1.08)" font-size="7.5" text-anchor="middle" font-weight="normal" fill="#1a1a1a" stroke="#1a1a1a" stroke-width="0.1">150</text>
<line x1="233.55" y1="453.80" x2="233.55" y2="457.00" stroke="#222" stroke-width="0.9"/>
<text transform="translate(233.55 466.00) scale(1 1.08)" font-size="7.5" text-anchor="middle" font-weight="normal" fill="#1a1a1a" stroke="#1a1a1a" stroke-width="0.1">175</text>
<line x1="262.40" y1="453.80" x2="262.40" y2="457.00" stroke="#222" stroke-width="0.9"/>
<text transform="translate(262.40 466.00) scale(1 1.08)" font-size="7.5" text-anchor="middle" font-weight="normal" fill="#1a1a1a" stroke="#1a1a1a" stroke-width="0.1">200</text>
<line x1="45.45" y1="453.80" x2="45.45" y2="455.60" stroke="#222" stroke-width="0.8"/>
<line x1="74.30" y1="453.80" x2="74.30" y2="455.60" stroke="#222" stroke-width="0.8"/>
<line x1="103.15" y1="453.80" x2="103.15" y2="455.60" stroke="#222" stroke-width="0.8"/>
<line x1="132.00" y1="453.80" x2="132.00" y2="455.60" stroke="#222" stroke-width="0.8"/>
<line x1="160.85" y1="453.80" x2="160.85" y2="455.60" stroke="#222" stroke-width="0.8"/>
<line x1="189.70" y1="453.80" x2="189.70" y2="455.60" stroke="#222" stroke-width="0.8"/>
<line x1="218.55" y1="453.80" x2="218.55" y2="455.60" stroke="#222" stroke-width="0.8"/>
<line x1="247.40" y1="453.80" x2="247.40" y2="455.60" stroke="#222" stroke-width="0.8"/>
<text transform="translate(12.40 361.30) rotate(-90)" font-size="9.6" text-anchor="middle" font-weight="normal" fill="#111">mAP50</text>
<text x="146.80" y="481.20" font-size="9.6" text-anchor="middle" font-weight="normal" fill="#111">epoch</text>
<text x="135.90" y="501.20" font-size="10" text-anchor="middle" font-weight="normal" fill="#111">(c)</text>
<rect x="250.60" y="266.60" width="11.90" height="4.60" fill="#bbb" fill-opacity="0.08" stroke="#F08080" stroke-width="0.9"/>
<polyline points="166.90,333.70 176.32,333.70 185.74,333.70 195.16,332.10 204.58,332.10 214.00,332.10 223.42,332.10 232.84,328.90 242.26,328.90 251.68,328.90 261.10,328.90" fill="none" stroke="#00CBCC" stroke-width="1.0" stroke-linejoin="round" opacity="1"/>
<polyline points="166.90,332.10 176.32,330.50 185.74,330.50 195.16,330.50 204.58,327.30 214.00,320.90 223.42,319.30 232.84,317.70 242.26,317.70 251.68,319.30 261.10,319.30" fill="none" stroke="#F14040" stroke-width="1.0" stroke-linejoin="round" opacity="1"/>
<polyline points="166.90,304.90 176.32,304.90 185.74,304.90 195.16,304.90 204.58,304.90 214.00,304.90 223.42,304.90 232.84,304.90 242.26,304.90 251.68,304.90 261.10,304.90" fill="none" stroke="#1A6FDF" stroke-width="1.6" stroke-linejoin="round" opacity="1"/>
<polyline points="166.90,303.30 176.32,303.30 185.74,301.70 195.16,303.30 204.58,301.70 214.00,301.70 223.42,301.70 232.84,301.70 242.26,301.70 251.68,301.70 261.10,301.70" fill="none" stroke="#515151" stroke-width="1.0" stroke-linejoin="round" opacity="1"/>
<polyline points="166.90,298.50 176.32,298.50 185.74,300.10 195.16,301.70 204.58,301.70 214.00,301.70 223.42,300.10 232.84,301.70 242.26,301.70 251.68,301.70 261.10,301.70" fill="none" stroke="#B177DE" stroke-width="1.0" stroke-linejoin="round" opacity="1"/>
<polyline points="166.90,296.90 176.32,296.90 185.74,298.50 195.16,298.50 204.58,298.50 214.00,296.90 223.42,296.90 232.84,296.90 242.26,296.90 251.68,295.30 261.10,296.90" fill="none" stroke="#37AD6B" stroke-width="1.0" stroke-linejoin="round" opacity="1"/>
<polyline points="166.90,293.70 176.32,293.70 185.74,295.30 195.16,295.30 204.58,295.30 214.00,293.70 223.42,293.70 232.84,293.70 242.26,293.70 251.68,293.70 261.10,295.30" fill="none" stroke="#8E8E00" stroke-width="1.0" stroke-linejoin="round" opacity="1"/>
<polyline points="166.90,292.10 176.32,292.10 185.74,293.70 195.16,293.70 204.58,293.70 214.00,293.70 223.42,293.70 232.84,293.70 242.26,293.70 251.68,293.70 261.10,293.70" fill="none" stroke="#CC9900" stroke-width="1.0" stroke-linejoin="round" opacity="1"/>
<polyline points="166.90,293.70 176.32,295.30 185.74,295.30 195.16,293.70 204.58,293.70 214.00,293.70 223.42,293.70 232.84,293.70 242.26,290.50 251.68,290.50 261.10,290.50" fill="none" stroke="#7D4E4E" stroke-width="1.0" stroke-linejoin="round" opacity="1"/>
<line x1="166.90" y1="274.50" x2="166.90" y2="338.95" stroke="#777" stroke-width="0.9"/>
<line x1="166.45" y1="338.50" x2="261.10" y2="338.50" stroke="#777" stroke-width="0.9"/>
<line x1="166.90" y1="338.50" x2="166.90" y2="338.50" stroke="#777" stroke-width="0.81"/>
<text x="164.90" y="340.47" font-size="5.8" text-anchor="end" font-weight="normal" fill="#222" stroke="#222" stroke-width="0.1">0.9947</text>
<line x1="166.90" y1="322.50" x2="166.90" y2="322.50" stroke="#777" stroke-width="0.81"/>
<text x="164.90" y="324.47" font-size="5.8" text-anchor="end" font-weight="normal" fill="#222" stroke="#222" stroke-width="0.1">0.9948</text>
<line x1="166.90" y1="306.50" x2="166.90" y2="306.50" stroke="#777" stroke-width="0.81"/>
<text x="164.90" y="308.47" font-size="5.8" text-anchor="end" font-weight="normal" fill="#222" stroke="#222" stroke-width="0.1">0.9949</text>
<line x1="166.90" y1="290.50" x2="166.90" y2="290.50" stroke="#777" stroke-width="0.81"/>
<text x="164.90" y="292.47" font-size="5.8" text-anchor="end" font-weight="normal" fill="#222" stroke="#222" stroke-width="0.1">0.9950</text>
<line x1="166.90" y1="274.50" x2="166.90" y2="274.50" stroke="#777" stroke-width="0.81"/>
<text x="164.90" y="276.47" font-size="5.8" text-anchor="end" font-weight="normal" fill="#222" stroke="#222" stroke-width="0.1">0.9951</text>
<line x1="166.90" y1="338.50" x2="166.90" y2="338.50" stroke="#777" stroke-width="0.81"/>
<text x="166.90" y="345.00" font-size="6.6" text-anchor="middle" font-weight="normal" fill="#222" stroke="#222" stroke-width="0.1">190</text>
<line x1="185.74" y1="338.50" x2="185.74" y2="338.50" stroke="#777" stroke-width="0.81"/>
<text x="185.74" y="345.00" font-size="6.6" text-anchor="middle" font-weight="normal" fill="#222" stroke="#222" stroke-width="0.1">192</text>
<line x1="204.58" y1="338.50" x2="204.58" y2="338.50" stroke="#777" stroke-width="0.81"/>
<text x="204.58" y="345.00" font-size="6.6" text-anchor="middle" font-weight="normal" fill="#222" stroke="#222" stroke-width="0.1">194</text>
<line x1="223.42" y1="338.50" x2="223.42" y2="338.50" stroke="#777" stroke-width="0.81"/>
<text x="223.42" y="345.00" font-size="6.6" text-anchor="middle" font-weight="normal" fill="#222" stroke="#222" stroke-width="0.1">196</text>
<line x1="242.26" y1="338.50" x2="242.26" y2="338.50" stroke="#777" stroke-width="0.81"/>
<text x="242.26" y="345.00" font-size="6.6" text-anchor="middle" font-weight="normal" fill="#222" stroke="#222" stroke-width="0.1">198</text>
<line x1="261.10" y1="338.50" x2="261.10" y2="338.50" stroke="#777" stroke-width="0.81"/>
<text x="261.10" y="345.00" font-size="6.6" text-anchor="middle" font-weight="normal" fill="#222" stroke="#222" stroke-width="0.1">200</text>
<text transform="translate(148.40 306.40) rotate(-90)" font-size="7.2" text-anchor="middle" font-weight="normal" fill="#222" stroke="#222" stroke-width="0.1">mAP50</text>
<text x="213.60" y="351.80" font-size="7.4" text-anchor="middle" font-weight="normal" fill="#222" stroke="#222" stroke-width="0.1">epoch</text>
<rect x="186.50" y="356.10" width="76.80" height="97.70" fill="#fff" stroke="#999" stroke-width="0.8"/>
<line x1="187.50" y1="362.50" x2="207.70" y2="362.50" stroke="#515151" stroke-width="1.5" opacity="0.8"/>
<text transform="translate(210.10 365.88) scale(1 1.08)" font-size="8.7" text-anchor="start" font-weight="normal" fill="#111" stroke="#111" stroke-width="0.12">YOLOv5</text>
<line x1="187.50" y1="373.40" x2="207.70" y2="373.40" stroke="#F14040" stroke-width="1.5" opacity="0.8"/>
<text transform="translate(210.10 376.78) scale(1 1.08)" font-size="8.7" text-anchor="start" font-weight="normal" fill="#111" stroke="#111" stroke-width="0.12">YOLOv5p6</text>
<line x1="187.50" y1="384.30" x2="207.70" y2="384.30" stroke="#1A6FDF" stroke-width="1.5" opacity="0.8"/>
<text transform="translate(210.10 387.68) scale(1 1.08)" font-size="8.7" text-anchor="start" font-weight="normal" fill="#111" stroke="#111" stroke-width="0.12">YOLOv6</text>
<line x1="187.50" y1="395.20" x2="207.70" y2="395.20" stroke="#37AD6B" stroke-width="1.5" opacity="0.8"/>
<text transform="translate(210.10 398.58) scale(1 1.08)" font-size="8.7" text-anchor="start" font-weight="normal" fill="#111" stroke="#111" stroke-width="0.12">YOLOv8</text>
<line x1="187.50" y1="406.10" x2="207.70" y2="406.10" stroke="#B177DE" stroke-width="1.5" opacity="0.8"/>
<text transform="translate(210.10 409.48) scale(1 1.08)" font-size="8.7" text-anchor="start" font-weight="normal" fill="#111" stroke="#111" stroke-width="0.12">YOLOv8p6</text>
<line x1="187.50" y1="417.00" x2="207.70" y2="417.00" stroke="#CC9900" stroke-width="1.5" opacity="0.8"/>
<text transform="translate(210.10 420.38) scale(1 1.08)" font-size="8.7" text-anchor="start" font-weight="normal" fill="#111" stroke="#111" stroke-width="0.12">ICDW-YOLO</text>
<line x1="187.50" y1="427.90" x2="207.70" y2="427.90" stroke="#00CBCC" stroke-width="1.5" opacity="0.8"/>
<text transform="translate(210.10 431.28) scale(1 1.08)" font-size="8.7" text-anchor="start" font-weight="normal" fill="#111" stroke="#111" stroke-width="0.12">EfficientNetv2</text>
<line x1="187.50" y1="438.80" x2="207.70" y2="438.80" stroke="#7D4E4E" stroke-width="1.5" opacity="0.8"/>
<text transform="translate(210.10 442.18) scale(1 1.08)" font-size="8.7" text-anchor="start" font-weight="normal" fill="#111" stroke="#111" stroke-width="0.12">RTDETR</text>
<line x1="187.50" y1="449.70" x2="207.70" y2="449.70" stroke="#8E8E00" stroke-width="1.5" opacity="0.8"/>
<text transform="translate(210.10 453.08) scale(1 1.08)" font-size="8.7" text-anchor="start" font-weight="normal" fill="#111" stroke="#111" stroke-width="0.12">ShuffleNetV2</text>
<rect x="534.20" y="365.80" width="11.40" height="55.60" fill="#e0e0e0"/>
<polyline points="313.10,458.80 314.08,458.80 315.06,458.80 316.04,458.80 317.02,458.80 318.00,458.80 318.97,458.80 319.95,458.80 320.93,458.80 321.91,458.80 322.89,458.78 323.87,458.64 324.85,458.21 325.83,457.64 326.81,457.46 327.79,456.67 328.76,456.52 329.74,457.03 330.72,457.38 331.70,454.69 332.68,455.54 333.66,453.49 334.64,454.32 335.62,454.60 336.60,453.15 337.58,453.47 338.55,452.88 339.53,453.28 340.51,451.64 341.49,450.91 342.47,451.86 343.45,449.63 344.43,451.17 345.41,450.15 346.39,451.31 347.37,451.18 348.34,447.56 349.32,447.75 350.30,447.61 351.28,449.62 352.26,447.79 353.24,447.35 354.22,447.34 355.20,446.88 356.18,447.57 357.16,446.68 358.13,447.18 359.11,446.26 360.09,445.40 361.07,446.04 362.05,445.35 363.03,445.19 364.01,444.55 364.99,443.54 365.97,443.81 366.94,443.40 367.92,444.57 368.90,443.43 369.88,442.21 370.86,443.26 371.84,442.68 372.82,442.86 373.80,440.80 374.78,441.97 375.76,441.95 376.74,440.65 377.71,440.03 378.69,440.27 379.67,439.65 380.65,440.01 381.63,440.04 382.61,440.04 383.59,435.20 384.57,439.69 385.55,438.69 386.52,438.83 387.50,438.43 388.48,437.79 389.46,438.07 390.44,438.85 391.42,438.16 392.40,438.10 393.38,438.39 394.36,436.51 395.34,437.21 396.31,436.95 397.29,436.48 398.27,434.65 399.25,435.25 400.23,433.92 401.21,434.45 402.19,434.40 403.17,433.31 404.15,432.97 405.13,433.02 406.11,433.59 407.08,432.83 408.06,433.06 409.04,432.04 410.02,431.45 411.00,430.08 411.98,429.90 412.96,430.23 413.94,429.78 414.92,430.10 415.89,427.94 416.87,428.65 417.85,427.57 418.83,429.06 419.81,428.80 420.79,428.08 421.77,428.50 422.75,428.18 423.73,428.93 424.71,427.24 425.69,427.61 426.66,426.87 427.64,427.42 428.62,428.35 429.60,426.41 430.58,425.68 431.56,427.28 432.54,426.81 433.52,426.08 434.50,425.80 435.48,426.80 436.45,424.12 437.43,424.59 438.41,425.71 439.39,426.50 440.37,424.79 441.35,423.49 442.33,424.26 443.31,423.93 444.29,425.39 445.26,424.42 446.24,425.61 447.22,422.95 448.20,423.90 449.18,425.78 450.16,425.49 451.14,423.68 452.12,423.84 453.10,424.08 454.08,423.30 455.05,422.19 456.03,423.30 457.01,424.80 457.99,423.50 458.97,424.26 459.95,423.82 460.93,422.91 461.91,423.20 462.89,423.77 463.87,422.94 464.85,423.44 465.82,422.38 466.80,422.86 467.78,422.33 468.76,422.73 469.74,421.92 470.72,422.48 471.70,422.31 472.68,422.63 473.66,422.04 474.63,423.35 475.61,420.08 476.59,422.40 477.57,421.77 478.55,422.10 479.53,422.03 480.51,421.32 481.49,421.89 482.47,421.76 483.45,422.36 484.42,421.95 485.40,422.05 486.38,419.86 487.36,422.01 488.34,421.75 489.32,420.77 490.30,419.82 491.28,421.95 492.26,421.77 493.24,420.51 494.22,420.28 495.19,421.44 496.17,421.63 497.15,420.96 498.13,419.69 499.11,420.16 500.09,419.53 501.07,420.05 502.05,419.92 503.03,419.39 504.00,419.83 504.98,419.50 505.96,420.23 506.94,419.93 507.92,419.11 508.90,419.53 509.88,419.80 510.86,418.75 511.84,418.75 512.82,419.06 513.79,419.50 514.77,418.28 515.75,417.10 516.73,419.31 517.71,419.73 518.69,419.13 519.67,419.16 520.65,419.31 521.63,419.17 522.61,417.70 523.58,417.62 524.56,417.12 525.54,417.54 526.52,418.30 527.50,417.16 528.48,418.24 529.46,417.98 530.44,418.46 531.42,416.76 532.40,416.83 533.38,417.75 534.35,417.59 535.33,417.30 536.31,417.13 537.29,416.64 538.27,417.11 539.25,416.83 540.23,418.06 541.21,417.19 542.19,418.14 543.16,415.68" fill="none" stroke="#00CBCC" stroke-width="0.9" stroke-linejoin="round" opacity="1"/>
<polyline points="313.10,458.80 314.08,458.80 315.06,458.80 316.04,458.80 317.02,458.80 318.00,458.80 318.97,458.80 319.95,458.80 320.93,458.80 321.91,458.80 322.89,458.80 323.87,458.73 324.85,458.80 325.83,458.80 326.81,458.70 327.79,458.80 328.76,458.80 329.74,458.80 330.72,458.80 331.70,458.23 332.68,458.62 333.66,458.80 334.64,458.10 335.62,457.19 336.60,457.73 337.58,455.91 338.55,456.64 339.53,455.78 340.51,455.12 341.49,452.75 342.47,454.35 343.45,454.07 344.43,452.60 345.41,453.14 346.39,452.18 347.37,453.73 348.34,451.24 349.32,451.07 350.30,451.67 351.28,449.11 352.26,449.97 353.24,449.51 354.22,449.98 355.20,449.80 356.18,448.53 357.16,448.87 358.13,446.85 359.11,446.14 360.09,446.94 361.07,447.32 362.05,445.94 363.03,446.07 364.01,444.69 364.99,444.27 365.97,444.35 366.94,443.55 367.92,442.38 368.90,441.45 369.88,442.90 370.86,441.60 371.84,442.04 372.82,442.37 373.80,440.21 374.78,440.59 375.76,440.48 376.74,439.99 377.71,440.09 378.69,440.47 379.67,437.93 380.65,438.30 381.63,438.49 382.61,437.62 383.59,437.05 384.57,437.90 385.55,436.97 386.52,437.37 387.50,436.29 388.48,436.68 389.46,434.27 390.44,436.13 391.42,435.13 392.40,434.75 393.38,434.95 394.36,433.55 395.34,433.92 396.31,433.75 397.29,433.01 398.27,433.18 399.25,431.25 400.23,431.27 401.21,430.58 402.19,431.96 403.17,430.29 404.15,430.67 405.13,429.59 406.11,428.26 407.08,428.62 408.06,428.54 409.04,427.12 410.02,426.79 411.00,425.73 411.98,428.21 412.96,426.18 413.94,426.39 414.92,426.38 415.89,425.27 416.87,425.88 417.85,426.34 418.83,424.97 419.81,424.13 420.79,422.16 421.77,423.76 422.75,423.74 423.73,423.99 424.71,422.41 425.69,421.97 426.66,421.32 427.64,422.16 428.62,421.29 429.60,422.06 430.58,419.87 431.56,420.82 432.54,421.34 433.52,418.06 434.50,418.19 435.48,418.10 436.45,417.90 437.43,418.73 438.41,416.96 439.39,418.34 440.37,415.93 441.35,416.99 442.33,418.32 443.31,416.11 444.29,415.09 445.26,416.53 446.24,415.36 447.22,416.10 448.20,416.20 449.18,417.44 450.16,414.43 451.14,415.46 452.12,414.65 453.10,415.56 454.08,415.20 455.05,413.51 456.03,414.41 457.01,414.22 457.99,414.64 458.97,413.45 459.95,412.92 460.93,413.71 461.91,413.39 462.89,414.03 463.87,412.00 464.85,413.35 465.82,412.90 466.80,411.45 467.78,412.72 468.76,413.56 469.74,412.99 470.72,412.46 471.70,410.80 472.68,411.81 473.66,412.02 474.63,411.14 475.61,410.68 476.59,412.05 477.57,410.35 478.55,410.65 479.53,410.83 480.51,412.73 481.49,410.78 482.47,409.90 483.45,411.07 484.42,409.19 485.40,410.77 486.38,411.53 487.36,410.35 488.34,410.54 489.32,410.14 490.30,410.86 491.28,409.75 492.26,411.05 493.24,410.54 494.22,411.50 495.19,411.16 496.17,410.42 497.15,411.01 498.13,410.84 499.11,410.64 500.09,410.29 501.07,409.91 502.05,409.88 503.03,409.68 504.00,410.23 504.98,410.74 505.96,411.42 506.94,410.49 507.92,410.76 508.90,411.42 509.88,408.94 510.86,411.33 511.84,409.74 512.82,409.55 513.79,410.05 514.77,402.44 515.75,409.77 516.73,410.27 517.71,408.46 518.69,410.19 519.67,410.58 520.65,410.23 521.63,409.92 522.61,409.39 523.58,409.14 524.56,410.38 525.54,409.03 526.52,407.68 527.50,403.14 528.48,409.21 529.46,408.59 530.44,408.18 531.42,409.42 532.40,409.57 533.38,409.55 534.35,407.51 535.33,407.05 536.31,408.55 537.29,407.94 538.27,406.72 539.25,406.31 540.23,404.41 541.21,403.94 542.19,402.16 543.16,402.35" fill="none" stroke="#7D4E4E" stroke-width="0.9" stroke-linejoin="round" opacity="1"/>
<polyline points="313.10,458.80 314.08,458.80 315.06,458.80 316.04,458.80 317.02,458.80 318.00,458.80 318.97,458.43 319.95,458.05 320.93,457.68 321.91,457.40 322.89,456.88 323.87,455.76 324.85,454.23 325.83,452.26 326.81,452.47 327.79,449.04 328.76,447.77 329.74,446.23 330.72,450.24 331.70,449.55 332.68,443.73 333.66,445.56 334.64,444.95 335.62,444.27 336.60,444.63 337.58,441.61 338.55,441.69 339.53,440.72 340.51,437.54 341.49,440.49 342.47,435.24 343.45,441.66 344.43,431.42 345.41,438.91 346.39,434.42 347.37,433.26 348.34,434.66 349.32,432.64 350.30,433.90 351.28,436.76 352.26,431.91 353.24,429.74 354.22,432.68 355.20,434.49 356.18,431.72 357.16,429.29 358.13,429.00 359.11,427.03 360.09,427.82 361.07,427.59 362.05,432.36 363.03,423.43 364.01,427.52 364.99,425.54 365.97,427.66 366.94,426.93 367.92,426.17 368.90,422.77 369.88,422.56 370.86,424.04 371.84,420.76 372.82,425.04 373.80,422.67 374.78,424.11 375.76,420.06 376.74,422.07 377.71,419.65 378.69,417.63 379.67,424.73 380.65,415.69 381.63,418.88 382.61,419.63 383.59,422.30 384.57,418.55 385.55,422.02 386.52,416.72 387.50,416.71 388.48,412.22 389.46,415.98 390.44,412.67 391.42,411.96 392.40,409.73 393.38,413.87 394.36,411.42 395.34,415.50 396.31,414.23 397.29,412.13 398.27,411.19 399.25,413.10 400.23,411.06 401.21,408.41 402.19,410.25 403.17,409.21 404.15,410.21 405.13,405.29 406.11,404.06 407.08,406.71 408.06,406.89 409.04,402.95 410.02,404.83 411.00,406.63 411.98,407.52 412.96,405.60 413.94,399.72 414.92,404.73 415.89,397.50 416.87,402.71 417.85,402.69 418.83,399.26 419.81,401.88 420.79,400.23 421.77,402.55 422.75,402.51 423.73,401.09 424.71,398.79 425.69,400.07 426.66,402.15 427.64,397.00 428.62,397.80 429.60,397.59 430.58,397.79 431.56,400.51 432.54,392.69 433.52,396.23 434.50,393.86 435.48,391.95 436.45,392.21 437.43,393.74 438.41,393.86 439.39,393.04 440.37,391.65 441.35,392.03 442.33,393.73 443.31,391.78 444.29,391.67 445.26,390.81 446.24,391.50 447.22,389.04 448.20,391.01 449.18,389.46 450.16,390.81 451.14,391.73 452.12,392.18 453.10,390.45 454.08,388.89 455.05,387.26 456.03,389.57 457.01,390.13 457.99,389.86 458.97,386.29 459.95,388.32 460.93,389.26 461.91,386.74 462.89,390.40 463.87,387.52 464.85,387.62 465.82,387.60 466.80,389.30 467.78,385.14 468.76,383.64 469.74,389.03 470.72,386.16 471.70,384.99 472.68,381.81 473.66,386.56 474.63,387.35 475.61,385.41 476.59,381.50 477.57,384.89 478.55,384.34 479.53,381.37 480.51,388.35 481.49,388.21 482.47,382.42 483.45,382.51 484.42,386.31 485.40,382.67 486.38,383.39 487.36,382.91 488.34,384.62 489.32,383.82 490.30,384.44 491.28,382.59 492.26,382.95 493.24,379.33 494.22,381.08 495.19,384.91 496.17,381.16 497.15,379.17 498.13,381.09 499.11,379.49 500.09,381.35 501.07,379.87 502.05,382.66 503.03,379.41 504.00,383.14 504.98,378.20 505.96,383.19 506.94,384.24 507.92,379.49 508.90,380.72 509.88,380.19 510.86,379.61 511.84,380.39 512.82,381.89 513.79,379.92 514.77,379.66 515.75,379.38 516.73,376.71 517.71,381.50 518.69,380.06 519.67,379.17 520.65,380.92 521.63,382.21 522.61,381.08 523.58,378.19 524.56,380.51 525.54,378.94 526.52,381.27 527.50,379.18 528.48,381.12 529.46,381.39 530.44,379.69 531.42,379.78 532.40,377.28 533.38,382.64 534.35,378.91 535.33,376.98 536.31,377.39 537.29,380.39 538.27,380.88 539.25,380.53 540.23,379.13 541.21,379.30 542.19,379.00 543.16,378.55" fill="none" stroke="#1A6FDF" stroke-width="0.9" stroke-linejoin="round" opacity="1"/>
<polyline points="313.10,458.80 314.08,458.80 315.06,458.80 316.04,458.80 317.02,458.80 318.00,458.80 318.97,458.24 319.95,457.68 320.93,457.12 321.91,456.31 322.89,456.26 323.87,454.49 324.85,452.66 325.83,451.32 326.81,450.25 327.79,449.77 328.76,449.76 329.74,446.93 330.72,446.97 331.70,443.83 332.68,444.68 333.66,442.45 334.64,446.25 335.62,440.07 336.60,443.13 337.58,443.85 338.55,442.70 339.53,440.37 340.51,435.95 341.49,436.06 342.47,439.25 343.45,435.88 344.43,435.53 345.41,437.83 346.39,435.88 347.37,437.31 348.34,434.14 349.32,437.08 350.30,432.49 351.28,432.31 352.26,431.55 353.24,431.14 354.22,426.59 355.20,429.23 356.18,427.55 357.16,426.03 358.13,425.26 359.11,425.25 360.09,427.32 361.07,427.96 362.05,426.84 363.03,425.75 364.01,424.31 364.99,424.23 365.97,421.55 366.94,423.73 367.92,419.60 368.90,420.89 369.88,423.70 370.86,420.71 371.84,427.61 372.82,418.31 373.80,419.60 374.78,418.95 375.76,422.48 376.74,413.32 377.71,418.24 378.69,417.34 379.67,414.12 380.65,416.10 381.63,416.74 382.61,413.04 383.59,415.72 384.57,411.52 385.55,412.06 386.52,409.40 387.50,413.40 388.48,407.82 389.46,409.05 390.44,405.03 391.42,409.58 392.40,404.19 393.38,406.09 394.36,405.52 395.34,408.13 396.31,405.18 397.29,404.55 398.27,407.12 399.25,407.37 400.23,406.21 401.21,401.39 402.19,403.57 403.17,401.63 404.15,402.51 405.13,402.45 406.11,401.84 407.08,402.68 408.06,399.08 409.04,400.73 410.02,400.23 411.00,402.98 411.98,399.23 412.96,400.72 413.94,399.94 414.92,396.51 415.89,400.22 416.87,398.05 417.85,396.01 418.83,394.56 419.81,397.36 420.79,395.30 421.77,394.93 422.75,397.23 423.73,398.75 424.71,397.90 425.69,392.59 426.66,393.11 427.64,395.46 428.62,393.67 429.60,392.78 430.58,392.26 431.56,391.20 432.54,386.48 433.52,391.76 434.50,389.56 435.48,390.99 436.45,390.41 437.43,390.58 438.41,389.03 439.39,389.33 440.37,387.31 441.35,387.25 442.33,389.04 443.31,383.40 444.29,388.94 445.26,385.74 446.24,382.01 447.22,387.14 448.20,382.98 449.18,382.50 450.16,384.23 451.14,388.03 452.12,381.57 453.10,383.76 454.08,384.65 455.05,380.92 456.03,384.36 457.01,380.70 457.99,383.40 458.97,381.26 459.95,384.15 460.93,382.77 461.91,383.62 462.89,383.12 463.87,381.33 464.85,381.88 465.82,381.10 466.80,378.95 467.78,381.42 468.76,384.53 469.74,381.51 470.72,380.72 471.70,378.87 472.68,378.73 473.66,378.77 474.63,380.82 475.61,379.10 476.59,382.81 477.57,377.68 478.55,379.13 479.53,378.89 480.51,380.39 481.49,379.48 482.47,380.68 483.45,378.32 484.42,381.65 485.40,377.35 486.38,378.01 487.36,375.21 488.34,378.84 489.32,378.82 490.30,378.18 491.28,378.35 492.26,378.49 493.24,380.17 494.22,380.06 495.19,378.97 496.17,378.36 497.15,379.85 498.13,379.68 499.11,377.99 500.09,376.04 501.07,377.59 502.05,375.92 503.03,375.28 504.00,375.53 504.98,377.54 505.96,377.48 506.94,380.05 507.92,377.93 508.90,375.86 509.88,378.59 510.86,374.24 511.84,374.08 512.82,377.25 513.79,374.94 514.77,379.05 515.75,378.37 516.73,377.15 517.71,376.46 518.69,376.78 519.67,377.94 520.65,372.95 521.63,375.87 522.61,375.85 523.58,375.14 524.56,376.00 525.54,376.69 526.52,377.23 527.50,379.09 528.48,373.61 529.46,377.79 530.44,379.05 531.42,377.54 532.40,378.89 533.38,372.64 534.35,375.44 535.33,373.61 536.31,373.51 537.29,375.02 538.27,374.99 539.25,377.19 540.23,376.07 541.21,376.94 542.19,375.80 543.16,377.05" fill="none" stroke="#F14040" stroke-width="0.9" stroke-linejoin="round" opacity="1"/>
<polyline points="313.10,458.80 314.08,458.80 315.06,458.80 316.04,458.80 317.02,458.80 318.00,458.80 318.97,458.24 319.95,457.68 320.93,457.12 321.91,456.38 322.89,456.67 323.87,454.38 324.85,454.61 325.83,451.94 326.81,448.85 327.79,449.23 328.76,447.35 329.74,447.19 330.72,445.76 331.70,440.31 332.68,441.10 333.66,443.61 334.64,442.82 335.62,441.05 336.60,435.59 337.58,438.79 338.55,435.98 339.53,438.12 340.51,439.07 341.49,433.13 342.47,435.47 343.45,436.38 344.43,435.63 345.41,435.02 346.39,434.33 347.37,435.69 348.34,429.48 349.32,430.61 350.30,428.83 351.28,431.01 352.26,429.06 353.24,428.90 354.22,426.30 355.20,426.51 356.18,426.91 357.16,428.44 358.13,429.03 359.11,427.68 360.09,426.81 361.07,426.08 362.05,426.96 363.03,420.54 364.01,422.84 364.99,426.94 365.97,424.53 366.94,424.50 367.92,420.77 368.90,418.57 369.88,422.18 370.86,418.41 371.84,419.68 372.82,416.28 373.80,415.31 374.78,416.90 375.76,415.55 376.74,416.47 377.71,416.68 378.69,417.72 379.67,414.21 380.65,414.47 381.63,414.56 382.61,413.42 383.59,413.10 384.57,414.26 385.55,412.72 386.52,408.87 387.50,411.06 388.48,407.31 389.46,411.82 390.44,411.68 391.42,408.22 392.40,406.38 393.38,408.65 394.36,405.56 395.34,404.40 396.31,403.57 397.29,405.33 398.27,404.66 399.25,407.23 400.23,403.39 401.21,402.33 402.19,399.56 403.17,404.24 404.15,402.85 405.13,402.59 406.11,398.34 407.08,404.44 408.06,401.07 409.04,394.41 410.02,396.58 411.00,399.86 411.98,397.02 412.96,394.88 413.94,395.06 414.92,396.16 415.89,396.87 416.87,393.36 417.85,394.58 418.83,392.63 419.81,393.03 420.79,394.30 421.77,390.26 422.75,393.58 423.73,391.42 424.71,393.06 425.69,391.90 426.66,391.55 427.64,391.94 428.62,389.85 429.60,387.42 430.58,386.00 431.56,386.41 432.54,389.07 433.52,385.60 434.50,387.18 435.48,384.34 436.45,389.88 437.43,384.48 438.41,388.16 439.39,384.63 440.37,387.44 441.35,384.63 442.33,386.63 443.31,389.39 444.29,387.45 445.26,385.85 446.24,385.13 447.22,389.11 448.20,386.94 449.18,385.83 450.16,384.63 451.14,383.60 452.12,385.30 453.10,386.35 454.08,382.75 455.05,383.69 456.03,381.20 457.01,383.58 457.99,381.19 458.97,383.86 459.95,381.57 460.93,381.74 461.91,380.93 462.89,383.31 463.87,381.67 464.85,382.84 465.82,381.43 466.80,379.84 467.78,375.38 468.76,380.60 469.74,379.21 470.72,380.15 471.70,378.14 472.68,379.21 473.66,377.99 474.63,379.09 475.61,375.24 476.59,376.93 477.57,382.34 478.55,378.57 479.53,378.81 480.51,382.77 481.49,380.19 482.47,379.39 483.45,379.81 484.42,378.18 485.40,381.54 486.38,376.92 487.36,376.79 488.34,377.47 489.32,378.61 490.30,377.93 491.28,378.69 492.26,375.75 493.24,376.81 494.22,374.10 495.19,378.20 496.17,374.91 497.15,378.42 498.13,377.62 499.11,379.08 500.09,376.24 501.07,377.19 502.05,375.92 503.03,374.31 504.00,376.95 504.98,376.11 505.96,375.20 506.94,376.88 507.92,377.73 508.90,376.15 509.88,375.90 510.86,375.41 511.84,375.33 512.82,377.93 513.79,376.00 514.77,374.64 515.75,377.58 516.73,376.14 517.71,377.84 518.69,376.48 519.67,373.78 520.65,376.47 521.63,378.43 522.61,376.18 523.58,376.40 524.56,374.86 525.54,379.12 526.52,378.34 527.50,376.91 528.48,379.43 529.46,374.83 530.44,380.22 531.42,378.19 532.40,379.28 533.38,377.89 534.35,375.41 535.33,375.75 536.31,375.20 537.29,375.75 538.27,380.21 539.25,376.26 540.23,379.89 541.21,377.62 542.19,377.43 543.16,377.69" fill="none" stroke="#515151" stroke-width="0.9" stroke-linejoin="round" opacity="1"/>
<polyline points="313.10,458.80 314.08,458.80 315.06,458.80 316.04,458.80 317.02,458.80 318.00,458.80 318.97,458.24 319.95,457.68 320.93,457.12 321.91,456.74 322.89,455.84 323.87,454.80 324.85,453.76 325.83,452.13 326.81,451.97 327.79,448.96 328.76,447.73 329.74,447.45 330.72,445.32 331.70,447.52 332.68,448.27 333.66,444.72 334.64,443.00 335.62,436.39 336.60,440.95 337.58,437.35 338.55,436.72 339.53,433.12 340.51,436.18 341.49,434.52 342.47,435.69 343.45,436.50 344.43,436.22 345.41,435.21 346.39,430.16 347.37,431.92 348.34,432.25 349.32,431.35 350.30,431.96 351.28,430.20 352.26,429.52 353.24,427.43 354.22,426.22 355.20,430.65 356.18,426.20 357.16,423.21 358.13,427.33 359.11,425.09 360.09,423.56 361.07,421.00 362.05,421.32 363.03,422.26 364.01,420.13 364.99,418.37 365.97,418.96 366.94,415.35 367.92,417.52 368.90,419.75 369.88,418.53 370.86,416.55 371.84,416.14 372.82,413.95 373.80,413.93 374.78,410.69 375.76,411.92 376.74,410.04 377.71,413.93 378.69,412.72 379.67,409.98 380.65,410.59 381.63,408.99 382.61,409.18 383.59,410.34 384.57,405.23 385.55,405.78 386.52,410.51 387.50,408.12 388.48,406.32 389.46,404.49 390.44,405.41 391.42,407.37 392.40,402.49 393.38,403.91 394.36,400.56 395.34,401.70 396.31,399.74 397.29,399.46 398.27,398.76 399.25,400.85 400.23,397.27 401.21,398.26 402.19,400.45 403.17,398.20 404.15,397.48 405.13,395.32 406.11,394.30 407.08,397.15 408.06,393.02 409.04,393.92 410.02,395.21 411.00,391.00 411.98,393.65 412.96,394.08 413.94,389.98 414.92,389.32 415.89,391.90 416.87,388.25 417.85,387.96 418.83,390.46 419.81,385.31 420.79,388.81 421.77,387.88 422.75,392.43 423.73,386.33 424.71,388.31 425.69,385.93 426.66,389.58 427.64,383.80 428.62,382.85 429.60,381.66 430.58,390.34 431.56,383.32 432.54,383.39 433.52,389.29 434.50,384.62 435.48,383.22 436.45,380.21 437.43,384.22 438.41,382.09 439.39,382.38 440.37,381.40 441.35,382.62 442.33,380.04 443.31,379.70 444.29,383.82 445.26,379.03 446.24,382.29 447.22,381.22 448.20,378.45 449.18,380.14 450.16,379.07 451.14,378.48 452.12,378.64 453.10,380.53 454.08,381.09 455.05,377.90 456.03,377.57 457.01,378.11 457.99,378.91 458.97,376.89 459.95,378.38 460.93,380.70 461.91,377.59 462.89,377.06 463.87,376.46 464.85,379.36 465.82,378.99 466.80,376.91 467.78,378.20 468.76,377.39 469.74,375.46 470.72,376.33 471.70,373.64 472.68,376.28 473.66,373.61 474.63,374.65 475.61,371.88 476.59,376.29 477.57,376.36 478.55,373.75 479.53,376.88 480.51,376.67 481.49,375.29 482.47,374.98 483.45,378.06 484.42,375.04 485.40,375.96 486.38,375.37 487.36,374.94 488.34,375.51 489.32,373.20 490.30,374.15 491.28,375.26 492.26,374.71 493.24,372.94 494.22,373.31 495.19,372.39 496.17,374.77 497.15,374.21 498.13,370.85 499.11,374.36 500.09,371.28 501.07,372.66 502.05,374.80 503.03,376.40 504.00,372.79 504.98,375.04 505.96,375.02 506.94,376.76 507.92,371.69 508.90,373.54 509.88,373.65 510.86,372.99 511.84,373.23 512.82,373.46 513.79,372.71 514.77,374.04 515.75,377.97 516.73,372.26 517.71,372.77 518.69,373.43 519.67,370.74 520.65,375.81 521.63,378.33 522.61,370.85 523.58,372.65 524.56,376.12 525.54,374.00 526.52,372.23 527.50,375.31 528.48,372.30 529.46,369.63 530.44,370.84 531.42,373.22 532.40,372.60 533.38,374.71 534.35,372.87 535.33,373.63 536.31,374.71 537.29,375.27 538.27,369.77 539.25,372.83 540.23,374.66 541.21,373.63 542.19,370.42 543.16,370.18" fill="none" stroke="#B177DE" stroke-width="0.9" stroke-linejoin="round" opacity="1"/>
<polyline points="313.10,458.80 314.08,458.80 315.06,458.80 316.04,458.80 317.02,458.80 318.00,458.80 318.97,458.05 319.95,457.31 320.93,456.56 321.91,455.84 322.89,454.72 323.87,453.21 324.85,452.23 325.83,448.97 326.81,449.91 327.79,447.72 328.76,448.00 329.74,443.48 330.72,443.59 331.70,445.23 332.68,442.48 333.66,435.88 334.64,436.79 335.62,436.76 336.60,433.97 337.58,437.69 338.55,434.85 339.53,434.59 340.51,432.31 341.49,430.48 342.47,427.71 343.45,425.81 344.43,424.94 345.41,420.58 346.39,426.04 347.37,424.16 348.34,422.17 349.32,423.92 350.30,421.90 351.28,419.84 352.26,421.76 353.24,418.39 354.22,416.22 355.20,420.23 356.18,421.89 357.16,416.51 358.13,418.14 359.11,415.12 360.09,415.75 361.07,413.65 362.05,411.40 363.03,411.42 364.01,413.15 364.99,414.15 365.97,416.47 366.94,415.57 367.92,412.57 368.90,410.54 369.88,411.78 370.86,411.35 371.84,412.88 372.82,412.54 373.80,412.25 374.78,407.21 375.76,411.87 376.74,406.22 377.71,408.88 378.69,405.63 379.67,405.77 380.65,404.33 381.63,403.05 382.61,406.45 383.59,406.38 384.57,404.91 385.55,405.12 386.52,401.90 387.50,402.96 388.48,402.29 389.46,401.06 390.44,402.34 391.42,398.86 392.40,404.12 393.38,399.70 394.36,398.77 395.34,400.79 396.31,400.23 397.29,396.74 398.27,398.68 399.25,401.34 400.23,399.82 401.21,394.88 402.19,398.08 403.17,393.47 404.15,392.94 405.13,395.52 406.11,393.68 407.08,395.88 408.06,394.65 409.04,394.80 410.02,391.93 411.00,395.07 411.98,392.53 412.96,391.84 413.94,390.60 414.92,395.26 415.89,394.27 416.87,392.20 417.85,390.61 418.83,389.58 419.81,389.13 420.79,385.34 421.77,387.56 422.75,387.34 423.73,389.02 424.71,386.28 425.69,386.11 426.66,385.80 427.64,386.92 428.62,385.19 429.60,383.16 430.58,387.15 431.56,389.34 432.54,383.43 433.52,383.25 434.50,384.69 435.48,384.85 436.45,378.68 437.43,384.43 438.41,385.59 439.39,383.98 440.37,381.94 441.35,383.76 442.33,383.12 443.31,381.61 444.29,382.73 445.26,381.47 446.24,381.55 447.22,383.19 448.20,380.88 449.18,382.90 450.16,378.84 451.14,382.01 452.12,380.51 453.10,383.16 454.08,380.43 455.05,381.65 456.03,376.43 457.01,379.13 457.99,377.73 458.97,381.70 459.95,380.62 460.93,378.52 461.91,380.52 462.89,375.85 463.87,378.48 464.85,377.33 465.82,376.90 466.80,377.56 467.78,375.74 468.76,378.19 469.74,376.17 470.72,374.53 471.70,376.13 472.68,376.14 473.66,376.80 474.63,375.95 475.61,374.69 476.59,376.17 477.57,378.57 478.55,375.14 479.53,375.54 480.51,374.29 481.49,374.89 482.47,372.11 483.45,376.93 484.42,376.44 485.40,373.51 486.38,376.38 487.36,373.93 488.34,374.45 489.32,377.78 490.30,373.10 491.28,371.80 492.26,373.75 493.24,376.47 494.22,372.59 495.19,375.69 496.17,374.01 497.15,373.01 498.13,375.00 499.11,376.49 500.09,373.74 501.07,373.49 502.05,374.81 503.03,374.60 504.00,371.91 504.98,373.26 505.96,373.89 506.94,374.08 507.92,372.75 508.90,372.85 509.88,373.28 510.86,375.33 511.84,373.57 512.82,373.98 513.79,372.78 514.77,370.92 515.75,371.24 516.73,371.74 517.71,372.61 518.69,373.32 519.67,372.19 520.65,373.53 521.63,373.28 522.61,374.09 523.58,372.75 524.56,372.77 525.54,369.54 526.52,371.67 527.50,373.19 528.48,371.25 529.46,373.30 530.44,370.82 531.42,371.18 532.40,367.66 533.38,374.21 534.35,372.52 535.33,372.56 536.31,371.86 537.29,371.16 538.27,373.90 539.25,373.46 540.23,371.76 541.21,370.65 542.19,374.03 543.16,374.71" fill="none" stroke="#37AD6B" stroke-width="0.9" stroke-linejoin="round" opacity="1"/>
<polyline points="313.10,458.80 314.08,458.80 315.06,458.80 316.04,458.80 317.02,458.80 318.00,458.80 318.97,457.87 319.95,456.94 320.93,456.00 321.91,454.91 322.89,454.30 323.87,452.96 324.85,451.52 325.83,450.20 326.81,448.19 327.79,447.10 328.76,445.98 329.74,441.83 330.72,442.09 331.70,441.85 332.68,437.39 333.66,439.62 334.64,437.18 335.62,436.01 336.60,435.60 337.58,433.87 338.55,431.59 339.53,433.21 340.51,429.81 341.49,427.16 342.47,425.71 343.45,424.27 344.43,418.90 345.41,420.76 346.39,420.94 347.37,419.50 348.34,417.87 349.32,415.62 350.30,415.64 351.28,411.71 352.26,416.31 353.24,412.52 354.22,412.32 355.20,415.04 356.18,411.20 357.16,410.89 358.13,412.74 359.11,406.65 360.09,409.27 361.07,410.81 362.05,410.65 363.03,410.71 364.01,408.36 364.99,408.29 365.97,410.65 366.94,409.49 367.92,408.43 368.90,407.40 369.88,406.88 370.86,407.01 371.84,404.14 372.82,403.16 373.80,404.41 374.78,408.28 375.76,404.05 376.74,402.30 377.71,403.10 378.69,402.04 379.67,401.96 380.65,404.54 381.63,406.08 382.61,399.80 383.59,401.53 384.57,399.39 385.55,400.32 386.52,399.68 387.50,396.42 388.48,400.78 389.46,398.18 390.44,399.79 391.42,397.23 392.40,396.25 393.38,395.69 394.36,396.39 395.34,398.97 396.31,395.75 397.29,394.32 398.27,393.90 399.25,391.57 400.23,394.23 401.21,396.90 402.19,395.75 403.17,394.41 404.15,392.42 405.13,396.19 406.11,392.20 407.08,392.45 408.06,394.98 409.04,392.06 410.02,394.32 411.00,392.71 411.98,393.02 412.96,391.81 413.94,394.14 414.92,390.82 415.89,395.46 416.87,392.04 417.85,392.09 418.83,388.00 419.81,389.64 420.79,391.25 421.77,391.74 422.75,389.84 423.73,390.80 424.71,385.43 425.69,394.17 426.66,388.86 427.64,393.13 428.62,386.65 429.60,389.71 430.58,385.18 431.56,388.78 432.54,385.65 433.52,386.98 434.50,385.01 435.48,386.95 436.45,392.14 437.43,388.04 438.41,389.40 439.39,384.85 440.37,385.46 441.35,386.28 442.33,385.37 443.31,385.71 444.29,386.95 445.26,382.39 446.24,385.29 447.22,385.93 448.20,388.04 449.18,386.45 450.16,385.22 451.14,385.44 452.12,385.84 453.10,384.98 454.08,386.73 455.05,384.64 456.03,387.23 457.01,385.92 457.99,385.59 458.97,382.76 459.95,383.38 460.93,384.06 461.91,386.14 462.89,384.80 463.87,382.69 464.85,381.87 465.82,386.54 466.80,384.70 467.78,383.73 468.76,383.28 469.74,383.83 470.72,382.65 471.70,386.24 472.68,381.06 473.66,385.64 474.63,383.54 475.61,382.71 476.59,381.57 477.57,381.98 478.55,382.00 479.53,381.27 480.51,383.66 481.49,382.09 482.47,380.71 483.45,384.57 484.42,385.62 485.40,384.91 486.38,380.78 487.36,381.03 488.34,383.69 489.32,382.63 490.30,382.21 491.28,381.20 492.26,386.10 493.24,383.83 494.22,383.29 495.19,382.27 496.17,382.64 497.15,383.26 498.13,382.20 499.11,386.95 500.09,377.47 501.07,381.20 502.05,381.05 503.03,383.59 504.00,381.76 504.98,378.99 505.96,379.34 506.94,382.19 507.92,384.33 508.90,381.95 509.88,382.67 510.86,380.71 511.84,384.19 512.82,382.34 513.79,381.53 514.77,382.70 515.75,380.14 516.73,383.71 517.71,383.82 518.69,382.31 519.67,380.33 520.65,382.14 521.63,382.56 522.61,380.23 523.58,381.13 524.56,382.31 525.54,381.20 526.52,381.74 527.50,380.31 528.48,381.02 529.46,382.51 530.44,381.94 531.42,381.79 532.40,380.46 533.38,380.41 534.35,382.32 535.33,381.23 536.31,380.38 537.29,379.05 538.27,380.38 539.25,377.59 540.23,380.64 541.21,379.45 542.19,381.11 543.16,382.14" fill="none" stroke="#8E8E00" stroke-width="0.9" stroke-linejoin="round" opacity="1"/>
<polyline points="313.10,458.80 314.08,458.80 315.06,458.80 316.04,458.80 317.02,458.80 318.00,458.80 318.97,457.68 319.95,456.56 320.93,455.44 321.91,454.71 322.89,453.07 323.87,451.24 324.85,449.44 325.83,448.21 326.81,446.37 327.79,445.59 328.76,443.72 329.74,441.50 330.72,441.78 331.70,440.01 332.68,437.23 333.66,437.81 334.64,434.39 335.62,434.98 336.60,431.16 337.58,430.70 338.55,430.81 339.53,430.64 340.51,429.35 341.49,431.02 342.47,427.81 343.45,426.42 344.43,422.92 345.41,423.22 346.39,420.75 347.37,416.60 348.34,414.10 349.32,415.10 350.30,410.99 351.28,410.39 352.26,410.86 353.24,412.47 354.22,411.98 355.20,409.50 356.18,406.71 357.16,409.67 358.13,406.95 359.11,406.14 360.09,409.99 361.07,408.74 362.05,405.54 363.03,405.89 364.01,406.09 364.99,406.46 365.97,405.23 366.94,406.55 367.92,401.99 368.90,406.49 369.88,406.98 370.86,404.01 371.84,401.91 372.82,404.10 373.80,403.14 374.78,404.04 375.76,402.40 376.74,403.27 377.71,402.87 378.69,403.11 379.67,401.50 380.65,397.93 381.63,400.09 382.61,399.38 383.59,396.30 384.57,399.70 385.55,399.80 386.52,397.42 387.50,399.34 388.48,396.90 389.46,395.44 390.44,397.99 391.42,396.88 392.40,393.56 393.38,396.76 394.36,395.85 395.34,394.25 396.31,394.56 397.29,394.85 398.27,391.24 399.25,393.67 400.23,392.07 401.21,392.63 402.19,391.98 403.17,393.05 404.15,389.67 405.13,391.01 406.11,388.40 407.08,391.14 408.06,389.85 409.04,388.20 410.02,388.26 411.00,388.84 411.98,387.81 412.96,388.95 413.94,386.85 414.92,389.97 415.89,385.99 416.87,384.11 417.85,384.35 418.83,384.05 419.81,385.31 420.79,383.80 421.77,384.58 422.75,383.82 423.73,383.48 424.71,387.27 425.69,381.46 426.66,381.70 427.64,380.85 428.62,382.77 429.60,380.33 430.58,380.24 431.56,383.31 432.54,382.36 433.52,379.71 434.50,380.26 435.48,379.25 436.45,379.84 437.43,376.96 438.41,381.03 439.39,380.16 440.37,379.48 441.35,379.77 442.33,378.59 443.31,377.71 444.29,379.15 445.26,376.83 446.24,375.45 447.22,375.53 448.20,374.20 449.18,375.09 450.16,376.35 451.14,373.91 452.12,375.05 453.10,373.40 454.08,375.77 455.05,377.93 456.03,376.58 457.01,374.73 457.99,374.08 458.97,374.91 459.95,373.33 460.93,375.88 461.91,375.24 462.89,373.07 463.87,374.12 464.85,373.98 465.82,372.28 466.80,372.57 467.78,374.78 468.76,373.47 469.74,375.70 470.72,373.55 471.70,372.96 472.68,375.45 473.66,371.36 474.63,370.73 475.61,372.46 476.59,371.85 477.57,371.06 478.55,372.99 479.53,371.43 480.51,372.13 481.49,374.34 482.47,373.48 483.45,372.96 484.42,370.89 485.40,371.94 486.38,370.77 487.36,372.41 488.34,373.26 489.32,369.16 490.30,368.26 491.28,370.95 492.26,371.54 493.24,369.78 494.22,372.40 495.19,371.22 496.17,372.57 497.15,370.18 498.13,370.35 499.11,371.01 500.09,371.20 501.07,372.11 502.05,371.19 503.03,368.65 504.00,370.41 504.98,368.40 505.96,370.89 506.94,369.95 507.92,370.38 508.90,370.13 509.88,368.91 510.86,372.20 511.84,368.92 512.82,368.96 513.79,369.75 514.77,369.65 515.75,369.98 516.73,368.91 517.71,369.63 518.69,370.67 519.67,369.49 520.65,368.55 521.63,369.21 522.61,369.59 523.58,369.38 524.56,370.17 525.54,370.11 526.52,371.73 527.50,369.77 528.48,368.41 529.46,369.97 530.44,370.55 531.42,368.47 532.40,369.30 533.38,369.31 534.35,368.92 535.33,368.65 536.31,369.47 537.29,370.35 538.27,367.43 539.25,369.32 540.23,370.24 541.21,369.14 542.19,368.00 543.16,370.92" fill="none" stroke="#CC9900" stroke-width="0.9" stroke-linejoin="round" opacity="1"/>
<rect x="313.10" y="272.40" width="77.80" height="101.20" fill="#fff" stroke="#999" stroke-width="0.8"/>
<line x1="314.80" y1="278.50" x2="334.80" y2="278.50" stroke="#515151" stroke-width="1.0" opacity="0.9"/>
<text transform="translate(337.60 281.92) scale(1 1.08)" font-size="8.8" text-anchor="start" font-weight="normal" fill="#111" stroke="#111" stroke-width="0.12">YOLOv5</text>
<line x1="314.80" y1="289.50" x2="334.80" y2="289.50" stroke="#F14040" stroke-width="1.0" opacity="0.9"/>
<text transform="translate(337.60 292.92) scale(1 1.08)" font-size="8.8" text-anchor="start" font-weight="normal" fill="#111" stroke="#111" stroke-width="0.12">YOLOv5p6</text>
<line x1="314.80" y1="300.50" x2="334.80" y2="300.50" stroke="#1A6FDF" stroke-width="1.0" opacity="0.9"/>
<text transform="translate(337.60 303.92) scale(1 1.08)" font-size="8.8" text-anchor="start" font-weight="normal" fill="#111" stroke="#111" stroke-width="0.12">YOLOv6</text>
<line x1="314.80" y1="311.50" x2="334.80" y2="311.50" stroke="#37AD6B" stroke-width="1.0" opacity="0.9"/>
<text transform="translate(337.60 314.92) scale(1 1.08)" font-size="8.8" text-anchor="start" font-weight="normal" fill="#111" stroke="#111" stroke-width="0.12">YOLOv8</text>
<line x1="314.80" y1="322.50" x2="334.80" y2="322.50" stroke="#B177DE" stroke-width="1.0" opacity="0.9"/>
<text transform="translate(337.60 325.92) scale(1 1.08)" font-size="8.8" text-anchor="start" font-weight="normal" fill="#111" stroke="#111" stroke-width="0.12">YOLOv8p6</text>
<line x1="314.80" y1="333.50" x2="334.80" y2="333.50" stroke="#CC9900" stroke-width="1.0" opacity="0.9"/>
<text transform="translate(337.60 336.92) scale(1 1.08)" font-size="8.8" text-anchor="start" font-weight="normal" fill="#111" stroke="#111" stroke-width="0.12">ICDW-YOLO</text>
<line x1="314.80" y1="344.50" x2="334.80" y2="344.50" stroke="#00CBCC" stroke-width="1.0" opacity="0.9"/>
<text transform="translate(337.60 347.92) scale(1 1.08)" font-size="8.8" text-anchor="start" font-weight="normal" fill="#111" stroke="#111" stroke-width="0.12">EfficientNetv2</text>
<line x1="314.80" y1="355.50" x2="334.80" y2="355.50" stroke="#7D4E4E" stroke-width="1.0" opacity="0.9"/>
<text transform="translate(337.60 358.92) scale(1 1.08)" font-size="8.8" text-anchor="start" font-weight="normal" fill="#111" stroke="#111" stroke-width="0.12">RTDETR</text>
<line x1="314.80" y1="366.50" x2="334.80" y2="366.50" stroke="#8E8E00" stroke-width="1.0" opacity="0.9"/>
<text transform="translate(337.60 369.92) scale(1 1.08)" font-size="8.8" text-anchor="start" font-weight="normal" fill="#111" stroke="#111" stroke-width="0.12">ShuffleNetV2</text>
<line x1="313.10" y1="272.40" x2="313.10" y2="459.30" stroke="#222" stroke-width="1.0"/>
<line x1="312.60" y1="458.80" x2="544.40" y2="458.80" stroke="#222" stroke-width="1.0"/>
<line x1="309.90" y1="458.80" x2="313.10" y2="458.80" stroke="#222" stroke-width="0.9"/>
<text transform="translate(307.30 461.66) scale(1 1.08)" font-size="7.8" text-anchor="end" font-weight="normal" fill="#1a1a1a" stroke="#1a1a1a" stroke-width="0.1">0.0</text>
<line x1="309.90" y1="421.52" x2="313.10" y2="421.52" stroke="#222" stroke-width="0.9"/>
<text transform="translate(307.30 424.38) scale(1 1.08)" font-size="7.8" text-anchor="end" font-weight="normal" fill="#1a1a1a" stroke="#1a1a1a" stroke-width="0.1">0.2</text>
<line x1="309.90" y1="384.24" x2="313.10" y2="384.24" stroke="#222" stroke-width="0.9"/>
<text transform="translate(307.30 387.10) scale(1 1.08)" font-size="7.8" text-anchor="end" font-weight="normal" fill="#1a1a1a" stroke="#1a1a1a" stroke-width="0.1">0.4</text>
<line x1="309.90" y1="346.96" x2="313.10" y2="346.96" stroke="#222" stroke-width="0.9"/>
<text transform="translate(307.30 349.82) scale(1 1.08)" font-size="7.8" text-anchor="end" font-weight="normal" fill="#1a1a1a" stroke="#1a1a1a" stroke-width="0.1">0.6</text>
<line x1="309.90" y1="309.68" x2="313.10" y2="309.68" stroke="#222" stroke-width="0.9"/>
<text transform="translate(307.30 312.54) scale(1 1.08)" font-size="7.8" text-anchor="end" font-weight="normal" fill="#1a1a1a" stroke="#1a1a1a" stroke-width="0.1">0.8</text>
<line x1="309.90" y1="272.40" x2="313.10" y2="272.40" stroke="#222" stroke-width="0.9"/>
<text transform="translate(307.30 275.26) scale(1 1.08)" font-size="7.8" text-anchor="end" font-weight="normal" fill="#1a1a1a" stroke="#1a1a1a" stroke-width="0.1">1.0</text>
<line x1="311.30" y1="440.16" x2="313.10" y2="440.16" stroke="#222" stroke-width="0.8"/>
<line x1="311.30" y1="402.88" x2="313.10" y2="402.88" stroke="#222" stroke-width="0.8"/>
<line x1="311.30" y1="365.60" x2="313.10" y2="365.60" stroke="#222" stroke-width="0.8"/>
<line x1="311.30" y1="328.32" x2="313.10" y2="328.32" stroke="#222" stroke-width="0.8"/>
<line x1="311.30" y1="291.04" x2="313.10" y2="291.04" stroke="#222" stroke-width="0.8"/>
<line x1="313.10" y1="458.80" x2="313.10" y2="462.00" stroke="#222" stroke-width="0.9"/>
<text transform="translate(313.10 471.20) scale(1 1.08)" font-size="7.6" text-anchor="middle" font-weight="normal" fill="#1a1a1a" stroke="#1a1a1a" stroke-width="0.1">0</text>
<line x1="362.05" y1="458.80" x2="362.05" y2="462.00" stroke="#222" stroke-width="0.9"/>
<text transform="translate(362.05 471.20) scale(1 1.08)" font-size="7.6" text-anchor="middle" font-weight="normal" fill="#1a1a1a" stroke="#1a1a1a" stroke-width="0.1">50</text>
<line x1="411.00" y1="458.80" x2="411.00" y2="462.00" stroke="#222" stroke-width="0.9"/>
<text transform="translate(411.00 471.20) scale(1 1.08)" font-size="7.6" text-anchor="middle" font-weight="normal" fill="#1a1a1a" stroke="#1a1a1a" stroke-width="0.1">100</text>
<line x1="459.95" y1="458.80" x2="459.95" y2="462.00" stroke="#222" stroke-width="0.9"/>
<text transform="translate(459.95 471.20) scale(1 1.08)" font-size="7.6" text-anchor="middle" font-weight="normal" fill="#1a1a1a" stroke="#1a1a1a" stroke-width="0.1">150</text>
<line x1="508.90" y1="458.80" x2="508.90" y2="462.00" stroke="#222" stroke-width="0.9"/>
<text transform="translate(508.90 471.20) scale(1 1.08)" font-size="7.6" text-anchor="middle" font-weight="normal" fill="#1a1a1a" stroke="#1a1a1a" stroke-width="0.1">200</text>
<line x1="337.58" y1="458.80" x2="337.58" y2="460.60" stroke="#222" stroke-width="0.8"/>
<line x1="362.05" y1="458.80" x2="362.05" y2="460.60" stroke="#222" stroke-width="0.8"/>
<line x1="386.52" y1="458.80" x2="386.52" y2="460.60" stroke="#222" stroke-width="0.8"/>
<line x1="411.00" y1="458.80" x2="411.00" y2="460.60" stroke="#222" stroke-width="0.8"/>
<line x1="435.48" y1="458.80" x2="435.48" y2="460.60" stroke="#222" stroke-width="0.8"/>
<line x1="459.95" y1="458.80" x2="459.95" y2="460.60" stroke="#222" stroke-width="0.8"/>
<line x1="484.42" y1="458.80" x2="484.42" y2="460.60" stroke="#222" stroke-width="0.8"/>
<line x1="508.90" y1="458.80" x2="508.90" y2="460.60" stroke="#222" stroke-width="0.8"/>
<line x1="533.38" y1="458.80" x2="533.38" y2="460.60" stroke="#222" stroke-width="0.8"/>
<text transform="translate(293.70 365.50) rotate(-90)" font-size="9.8" text-anchor="middle" font-weight="bold" fill="#111">mAP50</text>
<text x="432.60" y="480.60" font-size="9.6" text-anchor="middle" font-weight="bold" fill="#111">epoch</text>
<text x="416.50" y="501.20" font-size="9.6" text-anchor="middle" font-weight="bold" fill="#111">(d)</text>
<rect x="534.20" y="365.80" width="11.40" height="55.60" fill="#bbb" fill-opacity="0.08" stroke="#F08080" stroke-width="0.9"/>
<polyline points="418.00,331.40 424.73,331.40 431.45,331.19 438.18,331.19 444.91,330.77 451.63,330.56 458.36,330.77 465.08,330.77 471.81,330.56 478.54,330.35 485.26,332.03 491.99,332.03 498.72,331.82 505.44,331.40 512.17,330.35 518.89,329.71 525.62,328.66 532.35,329.08 539.07,328.45 545.80,329.71" fill="none" stroke="#00CBCC" stroke-width="1.1" stroke-linejoin="round" opacity="1"/>
<polyline points="418.00,322.12 424.73,322.96 431.45,322.96 438.18,315.58 444.91,322.12 451.63,318.74 458.36,320.43 465.08,320.43 471.81,322.54 478.54,320.01 485.26,320.01 491.99,320.01 498.72,319.59 505.44,319.59 512.17,319.16 518.89,318.74 525.62,318.32 532.35,317.26 539.07,315.79 545.80,314.94" fill="none" stroke="#7D4E4E" stroke-width="1.1" stroke-linejoin="round" opacity="1"/>
<polyline points="418.00,290.89 424.73,290.89 431.45,290.89 438.18,291.10 444.91,290.89 451.63,290.89 458.36,290.68 465.08,290.89 471.81,290.89 478.54,290.68 485.26,289.83 491.99,289.20 498.72,289.62 505.44,289.20 512.17,287.72 518.89,288.36 525.62,288.36 532.35,286.67 539.07,288.36 545.80,288.36" fill="none" stroke="#8E8E00" stroke-width="1.1" stroke-linejoin="round" opacity="1"/>
<polyline points="418.00,290.26 424.73,289.83 431.45,292.79 438.18,290.89 444.91,289.20 451.63,292.16 458.36,288.78 465.08,289.83 471.81,287.09 478.54,288.57 485.26,289.20 491.99,287.72 498.72,288.78 505.44,288.78 512.17,288.36 518.89,289.20 525.62,288.36 532.35,290.89 539.07,288.78 545.80,288.36" fill="none" stroke="#1A6FDF" stroke-width="1.1" stroke-linejoin="round" opacity="1"/>
<polyline points="418.00,285.83 424.73,286.25 431.45,286.46 438.18,287.09 444.91,284.98 451.63,283.29 458.36,286.46 465.08,284.56 471.81,286.46 478.54,287.72 485.26,288.57 491.99,286.46 498.72,287.09 505.44,288.57 512.17,283.29 518.89,284.56 525.62,285.83 532.35,289.20 539.07,285.19 545.80,283.93" fill="none" stroke="#F14040" stroke-width="1.1" stroke-linejoin="round" opacity="1"/>
<polyline points="418.00,285.09 424.73,285.09 431.45,283.29 438.18,282.03 444.91,282.03 451.63,283.93 458.36,285.83 465.08,282.03 471.81,280.34 478.54,281.18 485.26,281.82 491.99,283.93 498.72,281.18 505.44,283.29 512.17,282.66 518.89,281.82 525.62,282.66 532.35,280.76 539.07,279.28 545.80,278.65" fill="none" stroke="#515151" stroke-width="1.1" stroke-linejoin="round" opacity="1"/>
<polyline points="418.00,280.55 424.73,278.65 431.45,278.65 438.18,279.07 444.91,280.34 451.63,279.07 458.36,278.02 465.08,278.65 471.81,279.92 478.54,280.55 485.26,279.92 491.99,278.65 498.72,278.23 505.44,281.82 512.17,281.82 518.89,278.65 525.62,278.65 532.35,279.28 539.07,279.28 545.80,278.65" fill="none" stroke="#B177DE" stroke-width="1.1" stroke-linejoin="round" opacity="1"/>
<polyline points="418.00,279.07 424.73,278.65 431.45,279.07 438.18,279.71 444.91,279.71 451.63,278.65 458.36,278.65 465.08,278.65 471.81,281.61 478.54,278.65 485.26,278.23 491.99,278.23 498.72,278.65 505.44,278.65 512.17,276.96 518.89,279.28 525.62,278.65 532.35,278.65 539.07,278.65 545.80,278.65" fill="none" stroke="#37AD6B" stroke-width="1.1" stroke-linejoin="round" opacity="1"/>
<polyline points="418.00,278.65 424.73,277.17 431.45,276.12 438.18,276.54 444.91,278.65 451.63,280.55 458.36,281.18 465.08,277.60 471.81,280.13 478.54,278.23 485.26,276.75 491.99,277.81 498.72,279.50 505.44,281.18 512.17,279.28 518.89,278.65 525.62,278.65 532.35,277.17 539.07,276.12 545.80,276.12" fill="none" stroke="#CC9900" stroke-width="1.1" stroke-linejoin="round" opacity="1"/>
<line x1="418.00" y1="271.30" x2="418.00" y2="335.65" stroke="#666" stroke-width="0.9"/>
<line x1="417.55" y1="335.20" x2="547.20" y2="335.20" stroke="#666" stroke-width="0.9"/>
<line x1="416.20" y1="335.20" x2="418.00" y2="335.20" stroke="#666" stroke-width="0.81"/>
<text x="415.40" y="337.41" font-size="6.5" text-anchor="end" font-weight="normal" fill="#222" stroke="#222" stroke-width="0.12">0.20</text>
<line x1="416.20" y1="324.65" x2="418.00" y2="324.65" stroke="#666" stroke-width="0.81"/>
<text x="415.40" y="326.86" font-size="6.5" text-anchor="end" font-weight="normal" fill="#222" stroke="#222" stroke-width="0.12">0.25</text>
<line x1="416.20" y1="314.10" x2="418.00" y2="314.10" stroke="#666" stroke-width="0.81"/>
<text x="415.40" y="316.31" font-size="6.5" text-anchor="end" font-weight="normal" fill="#222" stroke="#222" stroke-width="0.12">0.30</text>
<line x1="416.20" y1="303.55" x2="418.00" y2="303.55" stroke="#666" stroke-width="0.81"/>
<text x="415.40" y="305.76" font-size="6.5" text-anchor="end" font-weight="normal" fill="#222" stroke="#222" stroke-width="0.12">0.35</text>
<line x1="416.20" y1="293.00" x2="418.00" y2="293.00" stroke="#666" stroke-width="0.81"/>
<text x="415.40" y="295.21" font-size="6.5" text-anchor="end" font-weight="normal" fill="#222" stroke="#222" stroke-width="0.12">0.40</text>
<line x1="416.20" y1="282.45" x2="418.00" y2="282.45" stroke="#666" stroke-width="0.81"/>
<text x="415.40" y="284.66" font-size="6.5" text-anchor="end" font-weight="normal" fill="#222" stroke="#222" stroke-width="0.12">0.45</text>
<line x1="416.20" y1="271.90" x2="418.00" y2="271.90" stroke="#666" stroke-width="0.81"/>
<text x="415.40" y="274.11" font-size="6.5" text-anchor="end" font-weight="normal" fill="#222" stroke="#222" stroke-width="0.12">0.50</text>
<line x1="424.39" y1="335.20" x2="424.39" y2="337.00" stroke="#666" stroke-width="0.81"/>
<text x="424.39" y="342.40" font-size="6.5" text-anchor="middle" font-weight="normal" fill="#222" stroke="#222" stroke-width="0.12">216</text>
<line x1="437.17" y1="335.20" x2="437.17" y2="337.00" stroke="#666" stroke-width="0.81"/>
<text x="437.17" y="342.40" font-size="6.5" text-anchor="middle" font-weight="normal" fill="#222" stroke="#222" stroke-width="0.12">218</text>
<line x1="449.95" y1="335.20" x2="449.95" y2="337.00" stroke="#666" stroke-width="0.81"/>
<text x="449.95" y="342.40" font-size="6.5" text-anchor="middle" font-weight="normal" fill="#222" stroke="#222" stroke-width="0.12">220</text>
<line x1="462.73" y1="335.20" x2="462.73" y2="337.00" stroke="#666" stroke-width="0.81"/>
<text x="462.73" y="342.40" font-size="6.5" text-anchor="middle" font-weight="normal" fill="#222" stroke="#222" stroke-width="0.12">222</text>
<line x1="475.51" y1="335.20" x2="475.51" y2="337.00" stroke="#666" stroke-width="0.81"/>
<text x="475.51" y="342.40" font-size="6.5" text-anchor="middle" font-weight="normal" fill="#222" stroke="#222" stroke-width="0.12">224</text>
<line x1="488.29" y1="335.20" x2="488.29" y2="337.00" stroke="#666" stroke-width="0.81"/>
<text x="488.29" y="342.40" font-size="6.5" text-anchor="middle" font-weight="normal" fill="#222" stroke="#222" stroke-width="0.12">226</text>
<line x1="501.07" y1="335.20" x2="501.07" y2="337.00" stroke="#666" stroke-width="0.81"/>
<text x="501.07" y="342.40" font-size="6.5" text-anchor="middle" font-weight="normal" fill="#222" stroke="#222" stroke-width="0.12">228</text>
<line x1="513.85" y1="335.20" x2="513.85" y2="337.00" stroke="#666" stroke-width="0.81"/>
<text x="513.85" y="342.40" font-size="6.5" text-anchor="middle" font-weight="normal" fill="#222" stroke="#222" stroke-width="0.12">230</text>
<line x1="526.63" y1="335.20" x2="526.63" y2="337.00" stroke="#666" stroke-width="0.81"/>
<text x="526.63" y="342.40" font-size="6.5" text-anchor="middle" font-weight="normal" fill="#222" stroke="#222" stroke-width="0.12">232</text>
<line x1="539.41" y1="335.20" x2="539.41" y2="337.00" stroke="#666" stroke-width="0.81"/>
<text x="539.41" y="342.40" font-size="6.5" text-anchor="middle" font-weight="normal" fill="#222" stroke="#222" stroke-width="0.12">234</text>
<line x1="430.78" y1="335.20" x2="430.78" y2="336.40" stroke="#666" stroke-width="0.7200000000000001"/>
<line x1="443.56" y1="335.20" x2="443.56" y2="336.40" stroke="#666" stroke-width="0.7200000000000001"/>
<line x1="456.34" y1="335.20" x2="456.34" y2="336.40" stroke="#666" stroke-width="0.7200000000000001"/>
<line x1="469.12" y1="335.20" x2="469.12" y2="336.40" stroke="#666" stroke-width="0.7200000000000001"/>
<line x1="481.90" y1="335.20" x2="481.90" y2="336.40" stroke="#666" stroke-width="0.7200000000000001"/>
<line x1="494.68" y1="335.20" x2="494.68" y2="336.40" stroke="#666" stroke-width="0.7200000000000001"/>
<line x1="507.46" y1="335.20" x2="507.46" y2="336.40" stroke="#666" stroke-width="0.7200000000000001"/>
<line x1="520.24" y1="335.20" x2="520.24" y2="336.40" stroke="#666" stroke-width="0.7200000000000001"/>
<line x1="533.02" y1="335.20" x2="533.02" y2="336.40" stroke="#666" stroke-width="0.7200000000000001"/>
<line x1="545.80" y1="335.20" x2="545.80" y2="336.40" stroke="#666" stroke-width="0.7200000000000001"/>
<text transform="translate(402.40 303.60) rotate(-90)" font-size="8.8" text-anchor="middle" font-weight="normal" fill="#111" stroke="#111" stroke-width="0.15">mAP50</text>
<text x="483.60" y="354.60" font-size="8.4" text-anchor="middle" font-weight="normal" fill="#111" stroke="#111" stroke-width="0.1">epoch</text>
</svg></body></html>
